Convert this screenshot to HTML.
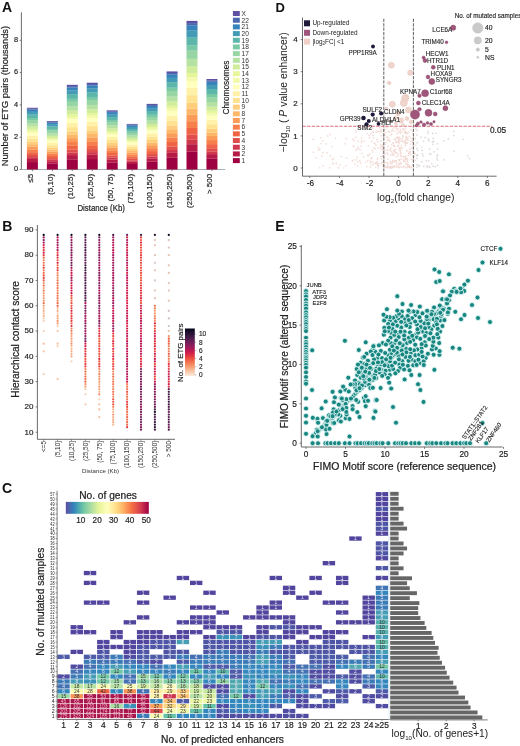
<!DOCTYPE html>
<html><head><meta charset="utf-8"><style>
html,body{margin:0;padding:0;background:#fff;}
svg{display:block;filter:blur(0.35px);}
text{font-family:"Liberation Sans", sans-serif;}
</style></head><body>
<svg width="520" height="746" viewBox="0 0 520 746">
<rect x="0" y="0" width="520" height="746" fill="#fff"/>
<text x="1.90" y="12.30" font-size="14" text-anchor="start" fill="#111" font-weight="bold">A</text>
<line x1="21.40" y1="12.30" x2="21.40" y2="169.50" stroke="#5a5a5a" stroke-width="0.9"/>
<line x1="21.40" y1="169.50" x2="225.20" y2="169.50" stroke="#9aa" stroke-width="0.9"/>
<line x1="19.70" y1="169.50" x2="21.40" y2="169.50" stroke="#5a5a5a" stroke-width="0.8"/>
<text x="18.20" y="171.10" font-size="7.4" text-anchor="end" fill="#222" stroke="#222" stroke-width="0.163">0</text>
<line x1="19.70" y1="137.20" x2="21.40" y2="137.20" stroke="#5a5a5a" stroke-width="0.8"/>
<text x="18.20" y="138.80" font-size="7.4" text-anchor="end" fill="#222" stroke="#222" stroke-width="0.163">2</text>
<line x1="19.70" y1="104.90" x2="21.40" y2="104.90" stroke="#5a5a5a" stroke-width="0.8"/>
<text x="18.20" y="106.50" font-size="7.4" text-anchor="end" fill="#222" stroke="#222" stroke-width="0.163">4</text>
<line x1="19.70" y1="72.60" x2="21.40" y2="72.60" stroke="#5a5a5a" stroke-width="0.8"/>
<text x="18.20" y="74.20" font-size="7.4" text-anchor="end" fill="#222" stroke="#222" stroke-width="0.163">6</text>
<line x1="19.70" y1="40.30" x2="21.40" y2="40.30" stroke="#5a5a5a" stroke-width="0.8"/>
<text x="18.20" y="41.90" font-size="7.4" text-anchor="end" fill="#222" stroke="#222" stroke-width="0.163">8</text>
<text x="7.90" y="96.10" font-size="9.4" text-anchor="middle" fill="#222" transform="rotate(-90 7.90 96.10)" stroke="#222" stroke-width="0.207" textLength="140.5" lengthAdjust="spacingAndGlyphs">Number of ETG pairs (thousands)</text>
<rect x="26.90" y="162.05" width="11.00" height="7.50" fill="#9e0142"/>
<rect x="26.90" y="158.96" width="11.00" height="3.18" fill="#b61b48"/>
<rect x="26.90" y="157.11" width="11.00" height="1.95" fill="#d0384e"/>
<rect x="26.90" y="154.95" width="11.00" height="2.26" fill="#df4e4b"/>
<rect x="26.90" y="152.18" width="11.00" height="2.88" fill="#ee6445"/>
<rect x="26.90" y="149.40" width="11.00" height="2.88" fill="#f67f4b"/>
<rect x="26.90" y="146.62" width="11.00" height="2.88" fill="#fa9b58"/>
<rect x="26.90" y="144.16" width="11.00" height="2.57" fill="#fdb768"/>
<rect x="26.90" y="141.69" width="11.00" height="2.57" fill="#fece7c"/>
<rect x="26.90" y="138.60" width="11.00" height="3.18" fill="#fee28f"/>
<rect x="26.90" y="135.52" width="11.00" height="3.18" fill="#fff1a8"/>
<rect x="26.90" y="132.74" width="11.00" height="2.88" fill="#ffffbe"/>
<rect x="26.90" y="131.20" width="11.00" height="1.64" fill="#f4faad"/>
<rect x="26.90" y="129.35" width="11.00" height="1.95" fill="#e8f69b"/>
<rect x="26.90" y="126.57" width="11.00" height="2.88" fill="#d1ed9c"/>
<rect x="26.90" y="123.49" width="11.00" height="3.18" fill="#b5e1a2"/>
<rect x="26.90" y="120.10" width="11.00" height="3.49" fill="#97d5a4"/>
<rect x="26.90" y="117.94" width="11.00" height="2.26" fill="#79c9a5"/>
<rect x="26.90" y="114.54" width="11.00" height="3.49" fill="#5cb7aa"/>
<rect x="26.90" y="111.77" width="11.00" height="2.88" fill="#439bb5"/>
<rect x="26.90" y="109.61" width="11.00" height="2.26" fill="#3682ba"/>
<rect x="26.90" y="108.68" width="11.00" height="1.03" fill="#4b68ae"/>
<rect x="26.90" y="107.76" width="11.00" height="1.03" fill="#5e4fa2"/>
<line x1="32.40" y1="169.50" x2="32.40" y2="171.10" stroke="#5a5a5a" stroke-width="0.8"/>
<text x="32.80" y="173.90" font-size="7.95" text-anchor="end" fill="#222" transform="rotate(-90 32.80 173.90)" stroke="#222" stroke-width="0.175">≤5</text>
<rect x="46.85" y="163.64" width="11.00" height="5.91" fill="#9e0142"/>
<rect x="46.85" y="161.21" width="11.00" height="2.52" fill="#b61b48"/>
<rect x="46.85" y="159.76" width="11.00" height="1.55" fill="#d0384e"/>
<rect x="46.85" y="158.06" width="11.00" height="1.80" fill="#df4e4b"/>
<rect x="46.85" y="155.88" width="11.00" height="2.28" fill="#ee6445"/>
<rect x="46.85" y="153.70" width="11.00" height="2.28" fill="#f67f4b"/>
<rect x="46.85" y="151.52" width="11.00" height="2.28" fill="#fa9b58"/>
<rect x="46.85" y="149.59" width="11.00" height="2.04" fill="#fdb768"/>
<rect x="46.85" y="147.65" width="11.00" height="2.04" fill="#fece7c"/>
<rect x="46.85" y="145.22" width="11.00" height="2.52" fill="#fee28f"/>
<rect x="46.85" y="142.80" width="11.00" height="2.52" fill="#fff1a8"/>
<rect x="46.85" y="140.62" width="11.00" height="2.28" fill="#ffffbe"/>
<rect x="46.85" y="139.41" width="11.00" height="1.31" fill="#f4faad"/>
<rect x="46.85" y="137.96" width="11.00" height="1.55" fill="#e8f69b"/>
<rect x="46.85" y="135.78" width="11.00" height="2.28" fill="#d1ed9c"/>
<rect x="46.85" y="133.35" width="11.00" height="2.52" fill="#b5e1a2"/>
<rect x="46.85" y="130.69" width="11.00" height="2.76" fill="#97d5a4"/>
<rect x="46.85" y="128.99" width="11.00" height="1.80" fill="#79c9a5"/>
<rect x="46.85" y="126.33" width="11.00" height="2.76" fill="#5cb7aa"/>
<rect x="46.85" y="124.15" width="11.00" height="2.28" fill="#439bb5"/>
<rect x="46.85" y="122.45" width="11.00" height="1.80" fill="#3682ba"/>
<rect x="46.85" y="121.73" width="11.00" height="0.83" fill="#4b68ae"/>
<rect x="46.85" y="121.00" width="11.00" height="0.83" fill="#5e4fa2"/>
<line x1="52.35" y1="169.50" x2="52.35" y2="171.10" stroke="#5a5a5a" stroke-width="0.8"/>
<text x="52.75" y="173.90" font-size="7.95" text-anchor="end" fill="#222" transform="rotate(-90 52.75 173.90)" stroke="#222" stroke-width="0.175">(5,10)</text>
<rect x="66.80" y="159.29" width="11.00" height="10.26" fill="#9e0142"/>
<rect x="66.80" y="155.06" width="11.00" height="4.33" fill="#b61b48"/>
<rect x="66.80" y="152.52" width="11.00" height="2.64" fill="#d0384e"/>
<rect x="66.80" y="149.56" width="11.00" height="3.06" fill="#df4e4b"/>
<rect x="66.80" y="145.75" width="11.00" height="3.91" fill="#ee6445"/>
<rect x="66.80" y="141.95" width="11.00" height="3.91" fill="#f67f4b"/>
<rect x="66.80" y="138.14" width="11.00" height="3.91" fill="#fa9b58"/>
<rect x="66.80" y="134.75" width="11.00" height="3.49" fill="#fdb768"/>
<rect x="66.80" y="131.37" width="11.00" height="3.49" fill="#fece7c"/>
<rect x="66.80" y="127.14" width="11.00" height="4.33" fill="#fee28f"/>
<rect x="66.80" y="122.91" width="11.00" height="4.33" fill="#fff1a8"/>
<rect x="66.80" y="119.10" width="11.00" height="3.91" fill="#ffffbe"/>
<rect x="66.80" y="116.98" width="11.00" height="2.22" fill="#f4faad"/>
<rect x="66.80" y="114.44" width="11.00" height="2.64" fill="#e8f69b"/>
<rect x="66.80" y="110.63" width="11.00" height="3.91" fill="#d1ed9c"/>
<rect x="66.80" y="106.40" width="11.00" height="4.33" fill="#b5e1a2"/>
<rect x="66.80" y="101.75" width="11.00" height="4.75" fill="#97d5a4"/>
<rect x="66.80" y="98.79" width="11.00" height="3.06" fill="#79c9a5"/>
<rect x="66.80" y="94.13" width="11.00" height="4.75" fill="#5cb7aa"/>
<rect x="66.80" y="90.32" width="11.00" height="3.91" fill="#439bb5"/>
<rect x="66.80" y="87.36" width="11.00" height="3.06" fill="#3682ba"/>
<rect x="66.80" y="86.09" width="11.00" height="1.37" fill="#4b68ae"/>
<rect x="66.80" y="84.82" width="11.00" height="1.37" fill="#5e4fa2"/>
<line x1="72.30" y1="169.50" x2="72.30" y2="171.10" stroke="#5a5a5a" stroke-width="0.8"/>
<text x="72.70" y="173.90" font-size="7.95" text-anchor="end" fill="#222" transform="rotate(-90 72.70 173.90)" stroke="#222" stroke-width="0.175">(10,25)</text>
<rect x="86.75" y="159.04" width="11.00" height="10.51" fill="#9e0142"/>
<rect x="86.75" y="154.71" width="11.00" height="4.44" fill="#b61b48"/>
<rect x="86.75" y="152.10" width="11.00" height="2.70" fill="#d0384e"/>
<rect x="86.75" y="149.07" width="11.00" height="3.14" fill="#df4e4b"/>
<rect x="86.75" y="145.17" width="11.00" height="4.00" fill="#ee6445"/>
<rect x="86.75" y="141.26" width="11.00" height="4.00" fill="#f67f4b"/>
<rect x="86.75" y="137.36" width="11.00" height="4.00" fill="#fa9b58"/>
<rect x="86.75" y="133.89" width="11.00" height="3.57" fill="#fdb768"/>
<rect x="86.75" y="130.42" width="11.00" height="3.57" fill="#fece7c"/>
<rect x="86.75" y="126.09" width="11.00" height="4.44" fill="#fee28f"/>
<rect x="86.75" y="121.75" width="11.00" height="4.44" fill="#fff1a8"/>
<rect x="86.75" y="117.85" width="11.00" height="4.00" fill="#ffffbe"/>
<rect x="86.75" y="115.68" width="11.00" height="2.27" fill="#f4faad"/>
<rect x="86.75" y="113.08" width="11.00" height="2.70" fill="#e8f69b"/>
<rect x="86.75" y="109.18" width="11.00" height="4.00" fill="#d1ed9c"/>
<rect x="86.75" y="104.84" width="11.00" height="4.44" fill="#b5e1a2"/>
<rect x="86.75" y="100.07" width="11.00" height="4.87" fill="#97d5a4"/>
<rect x="86.75" y="97.03" width="11.00" height="3.14" fill="#79c9a5"/>
<rect x="86.75" y="92.26" width="11.00" height="4.87" fill="#5cb7aa"/>
<rect x="86.75" y="88.36" width="11.00" height="4.00" fill="#439bb5"/>
<rect x="86.75" y="85.33" width="11.00" height="3.14" fill="#3682ba"/>
<rect x="86.75" y="84.03" width="11.00" height="1.40" fill="#4b68ae"/>
<rect x="86.75" y="82.72" width="11.00" height="1.40" fill="#5e4fa2"/>
<line x1="92.25" y1="169.50" x2="92.25" y2="171.10" stroke="#5a5a5a" stroke-width="0.8"/>
<text x="92.65" y="173.90" font-size="7.95" text-anchor="end" fill="#222" transform="rotate(-90 92.65 173.90)" stroke="#222" stroke-width="0.175">(25,50)</text>
<rect x="106.70" y="162.36" width="11.00" height="7.19" fill="#9e0142"/>
<rect x="106.70" y="159.40" width="11.00" height="3.06" fill="#b61b48"/>
<rect x="106.70" y="157.63" width="11.00" height="1.87" fill="#d0384e"/>
<rect x="106.70" y="155.56" width="11.00" height="2.17" fill="#df4e4b"/>
<rect x="106.70" y="152.90" width="11.00" height="2.76" fill="#ee6445"/>
<rect x="106.70" y="150.24" width="11.00" height="2.76" fill="#f67f4b"/>
<rect x="106.70" y="147.58" width="11.00" height="2.76" fill="#fa9b58"/>
<rect x="106.70" y="145.22" width="11.00" height="2.46" fill="#fdb768"/>
<rect x="106.70" y="142.85" width="11.00" height="2.46" fill="#fece7c"/>
<rect x="106.70" y="139.90" width="11.00" height="3.06" fill="#fee28f"/>
<rect x="106.70" y="136.94" width="11.00" height="3.06" fill="#fff1a8"/>
<rect x="106.70" y="134.28" width="11.00" height="2.76" fill="#ffffbe"/>
<rect x="106.70" y="132.80" width="11.00" height="1.58" fill="#f4faad"/>
<rect x="106.70" y="131.03" width="11.00" height="1.87" fill="#e8f69b"/>
<rect x="106.70" y="128.37" width="11.00" height="2.76" fill="#d1ed9c"/>
<rect x="106.70" y="125.41" width="11.00" height="3.06" fill="#b5e1a2"/>
<rect x="106.70" y="122.16" width="11.00" height="3.35" fill="#97d5a4"/>
<rect x="106.70" y="120.09" width="11.00" height="2.17" fill="#79c9a5"/>
<rect x="106.70" y="116.84" width="11.00" height="3.35" fill="#5cb7aa"/>
<rect x="106.70" y="114.18" width="11.00" height="2.76" fill="#439bb5"/>
<rect x="106.70" y="112.11" width="11.00" height="2.17" fill="#3682ba"/>
<rect x="106.70" y="111.23" width="11.00" height="0.99" fill="#4b68ae"/>
<rect x="106.70" y="110.34" width="11.00" height="0.99" fill="#5e4fa2"/>
<line x1="112.20" y1="169.50" x2="112.20" y2="171.10" stroke="#5a5a5a" stroke-width="0.8"/>
<text x="112.60" y="173.90" font-size="7.95" text-anchor="end" fill="#222" transform="rotate(-90 112.60 173.90)" stroke="#222" stroke-width="0.175">(50, 75)</text>
<rect x="126.65" y="163.98" width="11.00" height="5.57" fill="#9e0142"/>
<rect x="126.65" y="161.71" width="11.00" height="2.38" fill="#b61b48"/>
<rect x="126.65" y="160.34" width="11.00" height="1.47" fill="#d0384e"/>
<rect x="126.65" y="158.75" width="11.00" height="1.69" fill="#df4e4b"/>
<rect x="126.65" y="156.70" width="11.00" height="2.15" fill="#ee6445"/>
<rect x="126.65" y="154.65" width="11.00" height="2.15" fill="#f67f4b"/>
<rect x="126.65" y="152.60" width="11.00" height="2.15" fill="#fa9b58"/>
<rect x="126.65" y="150.78" width="11.00" height="1.92" fill="#fdb768"/>
<rect x="126.65" y="148.96" width="11.00" height="1.92" fill="#fece7c"/>
<rect x="126.65" y="146.68" width="11.00" height="2.38" fill="#fee28f"/>
<rect x="126.65" y="144.40" width="11.00" height="2.38" fill="#fff1a8"/>
<rect x="126.65" y="142.35" width="11.00" height="2.15" fill="#ffffbe"/>
<rect x="126.65" y="141.21" width="11.00" height="1.24" fill="#f4faad"/>
<rect x="126.65" y="139.85" width="11.00" height="1.47" fill="#e8f69b"/>
<rect x="126.65" y="137.80" width="11.00" height="2.15" fill="#d1ed9c"/>
<rect x="126.65" y="135.52" width="11.00" height="2.38" fill="#b5e1a2"/>
<rect x="126.65" y="133.02" width="11.00" height="2.60" fill="#97d5a4"/>
<rect x="126.65" y="131.42" width="11.00" height="1.69" fill="#79c9a5"/>
<rect x="126.65" y="128.92" width="11.00" height="2.60" fill="#5cb7aa"/>
<rect x="126.65" y="126.87" width="11.00" height="2.15" fill="#439bb5"/>
<rect x="126.65" y="125.27" width="11.00" height="1.69" fill="#3682ba"/>
<rect x="126.65" y="124.59" width="11.00" height="0.78" fill="#4b68ae"/>
<rect x="126.65" y="123.91" width="11.00" height="0.78" fill="#5e4fa2"/>
<line x1="132.15" y1="169.50" x2="132.15" y2="171.10" stroke="#5a5a5a" stroke-width="0.8"/>
<text x="132.55" y="173.90" font-size="7.95" text-anchor="end" fill="#222" transform="rotate(-90 132.55 173.90)" stroke="#222" stroke-width="0.175">(75,100)</text>
<rect x="146.60" y="161.58" width="11.00" height="7.97" fill="#9e0142"/>
<rect x="146.60" y="158.30" width="11.00" height="3.38" fill="#b61b48"/>
<rect x="146.60" y="156.34" width="11.00" height="2.07" fill="#d0384e"/>
<rect x="146.60" y="154.04" width="11.00" height="2.39" fill="#df4e4b"/>
<rect x="146.60" y="151.09" width="11.00" height="3.05" fill="#ee6445"/>
<rect x="146.60" y="148.14" width="11.00" height="3.05" fill="#f67f4b"/>
<rect x="146.60" y="145.19" width="11.00" height="3.05" fill="#fa9b58"/>
<rect x="146.60" y="142.57" width="11.00" height="2.72" fill="#fdb768"/>
<rect x="146.60" y="139.94" width="11.00" height="2.72" fill="#fece7c"/>
<rect x="146.60" y="136.67" width="11.00" height="3.38" fill="#fee28f"/>
<rect x="146.60" y="133.39" width="11.00" height="3.38" fill="#fff1a8"/>
<rect x="146.60" y="130.44" width="11.00" height="3.05" fill="#ffffbe"/>
<rect x="146.60" y="128.80" width="11.00" height="1.74" fill="#f4faad"/>
<rect x="146.60" y="126.83" width="11.00" height="2.07" fill="#e8f69b"/>
<rect x="146.60" y="123.88" width="11.00" height="3.05" fill="#d1ed9c"/>
<rect x="146.60" y="120.60" width="11.00" height="3.38" fill="#b5e1a2"/>
<rect x="146.60" y="116.99" width="11.00" height="3.71" fill="#97d5a4"/>
<rect x="146.60" y="114.70" width="11.00" height="2.39" fill="#79c9a5"/>
<rect x="146.60" y="111.09" width="11.00" height="3.71" fill="#5cb7aa"/>
<rect x="146.60" y="108.14" width="11.00" height="3.05" fill="#439bb5"/>
<rect x="146.60" y="105.85" width="11.00" height="2.39" fill="#3682ba"/>
<rect x="146.60" y="104.86" width="11.00" height="1.08" fill="#4b68ae"/>
<rect x="146.60" y="103.88" width="11.00" height="1.08" fill="#5e4fa2"/>
<line x1="152.10" y1="169.50" x2="152.10" y2="171.10" stroke="#5a5a5a" stroke-width="0.8"/>
<text x="152.50" y="173.90" font-size="7.95" text-anchor="end" fill="#222" transform="rotate(-90 152.50 173.90)" stroke="#222" stroke-width="0.175">(100,150)</text>
<rect x="166.55" y="157.69" width="11.00" height="11.86" fill="#9e0142"/>
<rect x="166.55" y="152.78" width="11.00" height="5.00" fill="#b61b48"/>
<rect x="166.55" y="149.84" width="11.00" height="3.04" fill="#d0384e"/>
<rect x="166.55" y="146.41" width="11.00" height="3.53" fill="#df4e4b"/>
<rect x="166.55" y="142.00" width="11.00" height="4.51" fill="#ee6445"/>
<rect x="166.55" y="137.59" width="11.00" height="4.51" fill="#f67f4b"/>
<rect x="166.55" y="133.18" width="11.00" height="4.51" fill="#fa9b58"/>
<rect x="166.55" y="129.26" width="11.00" height="4.02" fill="#fdb768"/>
<rect x="166.55" y="125.34" width="11.00" height="4.02" fill="#fece7c"/>
<rect x="166.55" y="120.43" width="11.00" height="5.00" fill="#fee28f"/>
<rect x="166.55" y="115.53" width="11.00" height="5.00" fill="#fff1a8"/>
<rect x="166.55" y="111.12" width="11.00" height="4.51" fill="#ffffbe"/>
<rect x="166.55" y="108.67" width="11.00" height="2.55" fill="#f4faad"/>
<rect x="166.55" y="105.73" width="11.00" height="3.04" fill="#e8f69b"/>
<rect x="166.55" y="101.32" width="11.00" height="4.51" fill="#d1ed9c"/>
<rect x="166.55" y="96.42" width="11.00" height="5.00" fill="#b5e1a2"/>
<rect x="166.55" y="91.03" width="11.00" height="5.49" fill="#97d5a4"/>
<rect x="166.55" y="87.59" width="11.00" height="3.53" fill="#79c9a5"/>
<rect x="166.55" y="82.20" width="11.00" height="5.49" fill="#5cb7aa"/>
<rect x="166.55" y="77.79" width="11.00" height="4.51" fill="#439bb5"/>
<rect x="166.55" y="74.36" width="11.00" height="3.53" fill="#3682ba"/>
<rect x="166.55" y="72.89" width="11.00" height="1.57" fill="#4b68ae"/>
<rect x="166.55" y="71.42" width="11.00" height="1.57" fill="#5e4fa2"/>
<line x1="172.05" y1="169.50" x2="172.05" y2="171.10" stroke="#5a5a5a" stroke-width="0.8"/>
<text x="172.45" y="173.90" font-size="7.95" text-anchor="end" fill="#222" transform="rotate(-90 172.45 173.90)" stroke="#222" stroke-width="0.175">(150,250)</text>
<rect x="186.50" y="151.62" width="11.00" height="17.93" fill="#9e0142"/>
<rect x="186.50" y="144.19" width="11.00" height="7.53" fill="#b61b48"/>
<rect x="186.50" y="139.73" width="11.00" height="4.56" fill="#d0384e"/>
<rect x="186.50" y="134.53" width="11.00" height="5.30" fill="#df4e4b"/>
<rect x="186.50" y="127.85" width="11.00" height="6.79" fill="#ee6445"/>
<rect x="186.50" y="121.16" width="11.00" height="6.79" fill="#f67f4b"/>
<rect x="186.50" y="114.48" width="11.00" height="6.79" fill="#fa9b58"/>
<rect x="186.50" y="108.53" width="11.00" height="6.04" fill="#fdb768"/>
<rect x="186.50" y="102.59" width="11.00" height="6.04" fill="#fece7c"/>
<rect x="186.50" y="95.16" width="11.00" height="7.53" fill="#fee28f"/>
<rect x="186.50" y="87.73" width="11.00" height="7.53" fill="#fff1a8"/>
<rect x="186.50" y="81.04" width="11.00" height="6.79" fill="#ffffbe"/>
<rect x="186.50" y="77.33" width="11.00" height="3.81" fill="#f4faad"/>
<rect x="186.50" y="72.87" width="11.00" height="4.56" fill="#e8f69b"/>
<rect x="186.50" y="66.19" width="11.00" height="6.79" fill="#d1ed9c"/>
<rect x="186.50" y="58.76" width="11.00" height="7.53" fill="#b5e1a2"/>
<rect x="186.50" y="50.59" width="11.00" height="8.27" fill="#97d5a4"/>
<rect x="186.50" y="45.39" width="11.00" height="5.30" fill="#79c9a5"/>
<rect x="186.50" y="37.21" width="11.00" height="8.27" fill="#5cb7aa"/>
<rect x="186.50" y="30.53" width="11.00" height="6.79" fill="#439bb5"/>
<rect x="186.50" y="25.33" width="11.00" height="5.30" fill="#3682ba"/>
<rect x="186.50" y="23.10" width="11.00" height="2.33" fill="#4b68ae"/>
<rect x="186.50" y="20.87" width="11.00" height="2.33" fill="#5e4fa2"/>
<line x1="192.00" y1="169.50" x2="192.00" y2="171.10" stroke="#5a5a5a" stroke-width="0.8"/>
<text x="192.40" y="173.90" font-size="7.95" text-anchor="end" fill="#222" transform="rotate(-90 192.40 173.90)" stroke="#222" stroke-width="0.175">(250,500)</text>
<rect x="206.45" y="158.60" width="11.00" height="10.95" fill="#9e0142"/>
<rect x="206.45" y="154.08" width="11.00" height="4.62" fill="#b61b48"/>
<rect x="206.45" y="151.36" width="11.00" height="2.81" fill="#d0384e"/>
<rect x="206.45" y="148.20" width="11.00" height="3.27" fill="#df4e4b"/>
<rect x="206.45" y="144.13" width="11.00" height="4.17" fill="#ee6445"/>
<rect x="206.45" y="140.06" width="11.00" height="4.17" fill="#f67f4b"/>
<rect x="206.45" y="135.99" width="11.00" height="4.17" fill="#fa9b58"/>
<rect x="206.45" y="132.37" width="11.00" height="3.72" fill="#fdb768"/>
<rect x="206.45" y="128.75" width="11.00" height="3.72" fill="#fece7c"/>
<rect x="206.45" y="124.23" width="11.00" height="4.62" fill="#fee28f"/>
<rect x="206.45" y="119.71" width="11.00" height="4.62" fill="#fff1a8"/>
<rect x="206.45" y="115.64" width="11.00" height="4.17" fill="#ffffbe"/>
<rect x="206.45" y="113.38" width="11.00" height="2.36" fill="#f4faad"/>
<rect x="206.45" y="110.66" width="11.00" height="2.81" fill="#e8f69b"/>
<rect x="206.45" y="106.59" width="11.00" height="4.17" fill="#d1ed9c"/>
<rect x="206.45" y="102.07" width="11.00" height="4.62" fill="#b5e1a2"/>
<rect x="206.45" y="97.10" width="11.00" height="5.07" fill="#97d5a4"/>
<rect x="206.45" y="93.93" width="11.00" height="3.27" fill="#79c9a5"/>
<rect x="206.45" y="88.96" width="11.00" height="5.07" fill="#5cb7aa"/>
<rect x="206.45" y="84.89" width="11.00" height="4.17" fill="#439bb5"/>
<rect x="206.45" y="81.72" width="11.00" height="3.27" fill="#3682ba"/>
<rect x="206.45" y="80.37" width="11.00" height="1.46" fill="#4b68ae"/>
<rect x="206.45" y="79.01" width="11.00" height="1.46" fill="#5e4fa2"/>
<line x1="211.95" y1="169.50" x2="211.95" y2="171.10" stroke="#5a5a5a" stroke-width="0.8"/>
<text x="212.35" y="173.90" font-size="7.95" text-anchor="end" fill="#222" transform="rotate(-90 212.35 173.90)" stroke="#222" stroke-width="0.175">&gt; 500</text>
<text x="101.20" y="211.00" font-size="8.6" text-anchor="middle" fill="#222" stroke="#222" stroke-width="0.189" textLength="47.5" lengthAdjust="spacingAndGlyphs">Distance (Kb)</text>
<rect x="232.90" y="158.10" width="6.90" height="5.00" fill="#9e0142"/>
<text x="241.60" y="162.90" font-size="6.6" text-anchor="start" fill="#333">1</text>
<rect x="232.90" y="151.41" width="6.90" height="5.00" fill="#b61b48"/>
<text x="241.60" y="156.22" font-size="6.6" text-anchor="start" fill="#333">2</text>
<rect x="232.90" y="144.73" width="6.90" height="5.00" fill="#d0384e"/>
<text x="241.60" y="149.53" font-size="6.6" text-anchor="start" fill="#333">3</text>
<rect x="232.90" y="138.04" width="6.90" height="5.00" fill="#df4e4b"/>
<text x="241.60" y="142.84" font-size="6.6" text-anchor="start" fill="#333">4</text>
<rect x="232.90" y="131.36" width="6.90" height="5.00" fill="#ee6445"/>
<text x="241.60" y="136.16" font-size="6.6" text-anchor="start" fill="#333">5</text>
<rect x="232.90" y="124.67" width="6.90" height="5.00" fill="#f67f4b"/>
<text x="241.60" y="129.47" font-size="6.6" text-anchor="start" fill="#333">6</text>
<rect x="232.90" y="117.99" width="6.90" height="5.00" fill="#fa9b58"/>
<text x="241.60" y="122.79" font-size="6.6" text-anchor="start" fill="#333">7</text>
<rect x="232.90" y="111.31" width="6.90" height="5.00" fill="#fdb768"/>
<text x="241.60" y="116.11" font-size="6.6" text-anchor="start" fill="#333">8</text>
<rect x="232.90" y="104.62" width="6.90" height="5.00" fill="#fece7c"/>
<text x="241.60" y="109.42" font-size="6.6" text-anchor="start" fill="#333">9</text>
<rect x="232.90" y="97.94" width="6.90" height="5.00" fill="#fee28f"/>
<text x="241.60" y="102.73" font-size="6.6" text-anchor="start" fill="#333">10</text>
<rect x="232.90" y="91.25" width="6.90" height="5.00" fill="#fff1a8"/>
<text x="241.60" y="96.05" font-size="6.6" text-anchor="start" fill="#333">11</text>
<rect x="232.90" y="84.56" width="6.90" height="5.00" fill="#ffffbe"/>
<text x="241.60" y="89.36" font-size="6.6" text-anchor="start" fill="#333">12</text>
<rect x="232.90" y="77.88" width="6.90" height="5.00" fill="#f4faad"/>
<text x="241.60" y="82.68" font-size="6.6" text-anchor="start" fill="#333">13</text>
<rect x="232.90" y="71.19" width="6.90" height="5.00" fill="#e8f69b"/>
<text x="241.60" y="75.99" font-size="6.6" text-anchor="start" fill="#333">14</text>
<rect x="232.90" y="64.51" width="6.90" height="5.00" fill="#d1ed9c"/>
<text x="241.60" y="69.31" font-size="6.6" text-anchor="start" fill="#333">15</text>
<rect x="232.90" y="57.83" width="6.90" height="5.00" fill="#b5e1a2"/>
<text x="241.60" y="62.62" font-size="6.6" text-anchor="start" fill="#333">16</text>
<rect x="232.90" y="51.14" width="6.90" height="5.00" fill="#97d5a4"/>
<text x="241.60" y="55.94" font-size="6.6" text-anchor="start" fill="#333">17</text>
<rect x="232.90" y="44.45" width="6.90" height="5.00" fill="#79c9a5"/>
<text x="241.60" y="49.25" font-size="6.6" text-anchor="start" fill="#333">18</text>
<rect x="232.90" y="37.77" width="6.90" height="5.00" fill="#5cb7aa"/>
<text x="241.60" y="42.57" font-size="6.6" text-anchor="start" fill="#333">19</text>
<rect x="232.90" y="31.09" width="6.90" height="5.00" fill="#439bb5"/>
<text x="241.60" y="35.89" font-size="6.6" text-anchor="start" fill="#333">20</text>
<rect x="232.90" y="24.40" width="6.90" height="5.00" fill="#3682ba"/>
<text x="241.60" y="29.20" font-size="6.6" text-anchor="start" fill="#333">21</text>
<rect x="232.90" y="17.72" width="6.90" height="5.00" fill="#4b68ae"/>
<text x="241.60" y="22.52" font-size="6.6" text-anchor="start" fill="#333">22</text>
<rect x="232.90" y="11.03" width="6.90" height="5.00" fill="#5e4fa2"/>
<text x="241.60" y="15.83" font-size="6.6" text-anchor="start" fill="#333">X</text>
<text x="228.90" y="87.50" font-size="8.3" text-anchor="middle" fill="#222" transform="rotate(-90 228.90 87.50)" stroke="#222" stroke-width="0.183">Chromosomes</text>
<text x="2.30" y="230.70" font-size="14" text-anchor="start" fill="#111" font-weight="bold">B</text>
<line x1="37.40" y1="225.00" x2="37.40" y2="439.30" stroke="#5a5a5a" stroke-width="0.9"/>
<line x1="37.40" y1="439.30" x2="175.00" y2="439.30" stroke="#5a5a5a" stroke-width="0.9"/>
<line x1="35.60" y1="432.22" x2="37.40" y2="432.22" stroke="#5a5a5a" stroke-width="0.8"/>
<text x="33.40" y="434.52" font-size="8" text-anchor="end" fill="#222" stroke="#222" stroke-width="0.176">10</text>
<line x1="35.60" y1="406.93" x2="37.40" y2="406.93" stroke="#5a5a5a" stroke-width="0.8"/>
<text x="33.40" y="409.23" font-size="8" text-anchor="end" fill="#222" stroke="#222" stroke-width="0.176">20</text>
<line x1="35.60" y1="381.64" x2="37.40" y2="381.64" stroke="#5a5a5a" stroke-width="0.8"/>
<text x="33.40" y="383.94" font-size="8" text-anchor="end" fill="#222" stroke="#222" stroke-width="0.176">30</text>
<line x1="35.60" y1="356.35" x2="37.40" y2="356.35" stroke="#5a5a5a" stroke-width="0.8"/>
<text x="33.40" y="358.65" font-size="8" text-anchor="end" fill="#222" stroke="#222" stroke-width="0.176">40</text>
<line x1="35.60" y1="331.06" x2="37.40" y2="331.06" stroke="#5a5a5a" stroke-width="0.8"/>
<text x="33.40" y="333.36" font-size="8" text-anchor="end" fill="#222" stroke="#222" stroke-width="0.176">50</text>
<line x1="35.60" y1="305.77" x2="37.40" y2="305.77" stroke="#5a5a5a" stroke-width="0.8"/>
<text x="33.40" y="308.07" font-size="8" text-anchor="end" fill="#222" stroke="#222" stroke-width="0.176">60</text>
<line x1="35.60" y1="280.48" x2="37.40" y2="280.48" stroke="#5a5a5a" stroke-width="0.8"/>
<text x="33.40" y="282.78" font-size="8" text-anchor="end" fill="#222" stroke="#222" stroke-width="0.176">70</text>
<line x1="35.60" y1="255.19" x2="37.40" y2="255.19" stroke="#5a5a5a" stroke-width="0.8"/>
<text x="33.40" y="257.49" font-size="8" text-anchor="end" fill="#222" stroke="#222" stroke-width="0.176">80</text>
<line x1="35.60" y1="229.90" x2="37.40" y2="229.90" stroke="#5a5a5a" stroke-width="0.8"/>
<text x="33.40" y="232.20" font-size="8" text-anchor="end" fill="#222" stroke="#222" stroke-width="0.176">90</text>
<text x="18.90" y="339.35" font-size="10.3" text-anchor="middle" fill="#222" transform="rotate(-90 18.90 339.35)" stroke="#222" stroke-width="0.227" textLength="116.7" lengthAdjust="spacingAndGlyphs">Hierarchical contact score</text>
<circle cx="43.70" cy="234.96" r="1.12" fill="#03051a"/>
<circle cx="43.70" cy="237.49" r="1.12" fill="#9a1b5b"/>
<circle cx="43.70" cy="240.02" r="1.12" fill="#7a1f59"/>
<circle cx="43.70" cy="242.55" r="1.12" fill="#a11a5b"/>
<circle cx="43.70" cy="245.07" r="1.12" fill="#d11f4c"/>
<circle cx="43.70" cy="247.60" r="1.12" fill="#d92847"/>
<circle cx="43.70" cy="250.13" r="1.12" fill="#e63b40"/>
<circle cx="43.70" cy="252.66" r="1.12" fill="#d2204c"/>
<circle cx="43.70" cy="255.19" r="1.12" fill="#e73d3f"/>
<circle cx="43.70" cy="257.72" r="1.12" fill="#f16646"/>
<circle cx="43.70" cy="260.25" r="1.12" fill="#f47f58"/>
<circle cx="43.70" cy="262.78" r="1.12" fill="#f47d57"/>
<circle cx="43.70" cy="265.31" r="1.12" fill="#f16646"/>
<circle cx="43.70" cy="267.84" r="1.12" fill="#eb463e"/>
<circle cx="43.70" cy="270.36" r="1.12" fill="#f47c55"/>
<circle cx="43.70" cy="272.89" r="1.12" fill="#f37450"/>
<circle cx="43.70" cy="275.42" r="1.12" fill="#ef5640"/>
<circle cx="43.70" cy="277.95" r="1.12" fill="#e83f3f"/>
<circle cx="43.70" cy="280.48" r="1.12" fill="#ef5a41"/>
<circle cx="43.70" cy="283.01" r="1.12" fill="#f5946b"/>
<circle cx="43.70" cy="285.54" r="1.12" fill="#f26b49"/>
<circle cx="43.70" cy="288.07" r="1.12" fill="#f6a981"/>
<circle cx="43.70" cy="290.60" r="1.12" fill="#f37450"/>
<circle cx="43.70" cy="293.12" r="1.12" fill="#f69b71"/>
<circle cx="43.70" cy="295.65" r="1.12" fill="#f6a37a"/>
<circle cx="43.70" cy="298.18" r="1.12" fill="#f6a47c"/>
<circle cx="43.70" cy="300.71" r="1.12" fill="#f59970"/>
<circle cx="43.70" cy="303.24" r="1.12" fill="#f37651"/>
<circle cx="43.70" cy="305.77" r="1.12" fill="#f6a178"/>
<circle cx="43.70" cy="308.30" r="1.12" fill="#f6b089"/>
<circle cx="43.70" cy="310.83" r="1.12" fill="#f6ad85"/>
<circle cx="43.70" cy="313.36" r="1.12" fill="#f6bc99"/>
<circle cx="43.70" cy="315.89" r="1.12" fill="#f6b18b"/>
<circle cx="43.70" cy="318.42" r="1.12" fill="#f7cfb3"/>
<circle cx="43.70" cy="320.94" r="1.12" fill="#f8d3ba"/>
<circle cx="43.70" cy="331.06" r="1.12" fill="#f7cfb3"/>
<circle cx="43.70" cy="343.70" r="1.12" fill="#f6bc99"/>
<circle cx="43.70" cy="351.29" r="1.12" fill="#f7c6a6"/>
<circle cx="43.70" cy="374.05" r="1.12" fill="#f7caac"/>
<line x1="43.70" y1="439.30" x2="43.70" y2="440.90" stroke="#5a5a5a" stroke-width="0.7"/>
<circle cx="57.60" cy="234.96" r="1.12" fill="#0d0a21"/>
<circle cx="57.60" cy="237.49" r="1.12" fill="#b01759"/>
<circle cx="57.60" cy="240.02" r="1.12" fill="#ba1656"/>
<circle cx="57.60" cy="242.55" r="1.12" fill="#9a1b5b"/>
<circle cx="57.60" cy="245.07" r="1.12" fill="#9f1a5b"/>
<circle cx="57.60" cy="247.60" r="1.12" fill="#bd1655"/>
<circle cx="57.60" cy="250.13" r="1.12" fill="#a8185a"/>
<circle cx="57.60" cy="252.66" r="1.12" fill="#eb463e"/>
<circle cx="57.60" cy="255.19" r="1.12" fill="#de2e44"/>
<circle cx="57.60" cy="257.72" r="1.12" fill="#e43841"/>
<circle cx="57.60" cy="260.25" r="1.12" fill="#ef5840"/>
<circle cx="57.60" cy="262.78" r="1.12" fill="#d92847"/>
<circle cx="57.60" cy="265.31" r="1.12" fill="#f16646"/>
<circle cx="57.60" cy="267.84" r="1.12" fill="#ed4e3e"/>
<circle cx="57.60" cy="270.36" r="1.12" fill="#e33641"/>
<circle cx="57.60" cy="272.89" r="1.12" fill="#f5976e"/>
<circle cx="57.60" cy="275.42" r="1.12" fill="#f4815a"/>
<circle cx="57.60" cy="277.95" r="1.12" fill="#f69e75"/>
<circle cx="57.60" cy="280.48" r="1.12" fill="#f37450"/>
<circle cx="57.60" cy="283.01" r="1.12" fill="#f26d4b"/>
<circle cx="57.60" cy="285.54" r="1.12" fill="#f47a54"/>
<circle cx="57.60" cy="288.07" r="1.12" fill="#f16646"/>
<circle cx="57.60" cy="290.60" r="1.12" fill="#f58b63"/>
<circle cx="57.60" cy="293.12" r="1.12" fill="#f3734e"/>
<circle cx="57.60" cy="295.65" r="1.12" fill="#f47a54"/>
<circle cx="57.60" cy="298.18" r="1.12" fill="#f47a54"/>
<circle cx="57.60" cy="300.71" r="1.12" fill="#f4835b"/>
<circle cx="57.60" cy="303.24" r="1.12" fill="#f26747"/>
<circle cx="57.60" cy="305.77" r="1.12" fill="#f06043"/>
<circle cx="57.60" cy="308.30" r="1.12" fill="#f6b691"/>
<circle cx="57.60" cy="310.83" r="1.12" fill="#f6ab83"/>
<circle cx="57.60" cy="313.36" r="1.12" fill="#f7cfb3"/>
<circle cx="57.60" cy="315.89" r="1.12" fill="#f6a880"/>
<circle cx="57.60" cy="318.42" r="1.12" fill="#f6ab83"/>
<circle cx="57.60" cy="320.94" r="1.12" fill="#f5966c"/>
<circle cx="57.60" cy="323.47" r="1.12" fill="#f6a077"/>
<circle cx="57.60" cy="326.00" r="1.12" fill="#f7ccaf"/>
<circle cx="57.60" cy="331.06" r="1.12" fill="#f7c7a8"/>
<circle cx="57.60" cy="343.70" r="1.12" fill="#f6be9b"/>
<circle cx="57.60" cy="346.23" r="1.12" fill="#f8d4bc"/>
<circle cx="57.60" cy="379.11" r="1.12" fill="#f7c6a6"/>
<line x1="57.60" y1="439.30" x2="57.60" y2="440.90" stroke="#5a5a5a" stroke-width="0.7"/>
<circle cx="71.50" cy="234.96" r="1.12" fill="#03051a"/>
<circle cx="71.50" cy="237.49" r="1.12" fill="#9e1a5b"/>
<circle cx="71.50" cy="240.02" r="1.12" fill="#a11a5b"/>
<circle cx="71.50" cy="242.55" r="1.12" fill="#711f57"/>
<circle cx="71.50" cy="245.07" r="1.12" fill="#9c1b5b"/>
<circle cx="71.50" cy="247.60" r="1.12" fill="#951c5b"/>
<circle cx="71.50" cy="250.13" r="1.12" fill="#8b1d5b"/>
<circle cx="71.50" cy="252.66" r="1.12" fill="#6b1f56"/>
<circle cx="71.50" cy="255.19" r="1.12" fill="#9f1a5b"/>
<circle cx="71.50" cy="257.72" r="1.12" fill="#871e5b"/>
<circle cx="71.50" cy="260.25" r="1.12" fill="#811e5a"/>
<circle cx="71.50" cy="262.78" r="1.12" fill="#6b1f56"/>
<circle cx="71.50" cy="265.31" r="1.12" fill="#6e1f57"/>
<circle cx="71.50" cy="267.84" r="1.12" fill="#aa185a"/>
<circle cx="71.50" cy="270.36" r="1.12" fill="#ce1d4e"/>
<circle cx="71.50" cy="272.89" r="1.12" fill="#c71951"/>
<circle cx="71.50" cy="275.42" r="1.12" fill="#ca1a50"/>
<circle cx="71.50" cy="277.95" r="1.12" fill="#a8185a"/>
<circle cx="71.50" cy="280.48" r="1.12" fill="#a4195b"/>
<circle cx="71.50" cy="283.01" r="1.12" fill="#d5224a"/>
<circle cx="71.50" cy="285.54" r="1.12" fill="#d3214b"/>
<circle cx="71.50" cy="288.07" r="1.12" fill="#d11f4c"/>
<circle cx="71.50" cy="290.60" r="1.12" fill="#d11f4c"/>
<circle cx="71.50" cy="293.12" r="1.12" fill="#c21753"/>
<circle cx="71.50" cy="295.65" r="1.12" fill="#e8403e"/>
<circle cx="71.50" cy="298.18" r="1.12" fill="#ef5a41"/>
<circle cx="71.50" cy="300.71" r="1.12" fill="#f26d4b"/>
<circle cx="71.50" cy="303.24" r="1.12" fill="#ed4e3e"/>
<circle cx="71.50" cy="305.77" r="1.12" fill="#ee523f"/>
<circle cx="71.50" cy="308.30" r="1.12" fill="#e9423e"/>
<circle cx="71.50" cy="310.83" r="1.12" fill="#db2946"/>
<circle cx="71.50" cy="313.36" r="1.12" fill="#e63b40"/>
<circle cx="71.50" cy="315.89" r="1.12" fill="#eb463e"/>
<circle cx="71.50" cy="318.42" r="1.12" fill="#e83f3f"/>
<circle cx="71.50" cy="320.94" r="1.12" fill="#e63b40"/>
<circle cx="71.50" cy="323.47" r="1.12" fill="#f26948"/>
<circle cx="71.50" cy="326.00" r="1.12" fill="#dd2c45"/>
<circle cx="71.50" cy="328.53" r="1.12" fill="#f4865e"/>
<circle cx="71.50" cy="331.06" r="1.12" fill="#f47f58"/>
<circle cx="71.50" cy="333.59" r="1.12" fill="#f4845d"/>
<circle cx="71.50" cy="336.12" r="1.12" fill="#f6a077"/>
<circle cx="71.50" cy="338.65" r="1.12" fill="#f6a077"/>
<circle cx="71.50" cy="341.18" r="1.12" fill="#f6b18b"/>
<circle cx="71.50" cy="343.70" r="1.12" fill="#f59067"/>
<circle cx="71.50" cy="346.23" r="1.12" fill="#f6b48f"/>
<circle cx="71.50" cy="348.76" r="1.12" fill="#f6b48f"/>
<circle cx="71.50" cy="351.29" r="1.12" fill="#f6ab83"/>
<circle cx="71.50" cy="353.82" r="1.12" fill="#f6ae87"/>
<circle cx="71.50" cy="356.35" r="1.12" fill="#f6a37a"/>
<circle cx="71.50" cy="361.41" r="1.12" fill="#f8d4bc"/>
<line x1="71.50" y1="439.30" x2="71.50" y2="440.90" stroke="#5a5a5a" stroke-width="0.7"/>
<circle cx="85.40" cy="234.96" r="1.12" fill="#0b0920"/>
<circle cx="85.40" cy="237.49" r="1.12" fill="#5e1f52"/>
<circle cx="85.40" cy="240.02" r="1.12" fill="#611f53"/>
<circle cx="85.40" cy="242.55" r="1.12" fill="#511e4d"/>
<circle cx="85.40" cy="245.07" r="1.12" fill="#661f54"/>
<circle cx="85.40" cy="247.60" r="1.12" fill="#33183c"/>
<circle cx="85.40" cy="250.13" r="1.12" fill="#421b45"/>
<circle cx="85.40" cy="252.66" r="1.12" fill="#5e1f52"/>
<circle cx="85.40" cy="255.19" r="1.12" fill="#581e4f"/>
<circle cx="85.40" cy="257.72" r="1.12" fill="#511e4d"/>
<circle cx="85.40" cy="260.25" r="1.12" fill="#511e4d"/>
<circle cx="85.40" cy="262.78" r="1.12" fill="#601f52"/>
<circle cx="85.40" cy="265.31" r="1.12" fill="#34193d"/>
<circle cx="85.40" cy="267.84" r="1.12" fill="#2b1637"/>
<circle cx="85.40" cy="270.36" r="1.12" fill="#4b1d4a"/>
<circle cx="85.40" cy="272.89" r="1.12" fill="#491d49"/>
<circle cx="85.40" cy="275.42" r="1.12" fill="#611f53"/>
<circle cx="85.40" cy="277.95" r="1.12" fill="#611f53"/>
<circle cx="85.40" cy="280.48" r="1.12" fill="#511e4d"/>
<circle cx="85.40" cy="283.01" r="1.12" fill="#561e4f"/>
<circle cx="85.40" cy="285.54" r="1.12" fill="#34193d"/>
<circle cx="85.40" cy="288.07" r="1.12" fill="#5c1e51"/>
<circle cx="85.40" cy="290.60" r="1.12" fill="#661f54"/>
<circle cx="85.40" cy="293.12" r="1.12" fill="#2e1739"/>
<circle cx="85.40" cy="295.65" r="1.12" fill="#461c48"/>
<circle cx="85.40" cy="298.18" r="1.12" fill="#5e1f52"/>
<circle cx="85.40" cy="300.71" r="1.12" fill="#461c48"/>
<circle cx="85.40" cy="303.24" r="1.12" fill="#b71657"/>
<circle cx="85.40" cy="305.77" r="1.12" fill="#971c5b"/>
<circle cx="85.40" cy="308.30" r="1.12" fill="#781f59"/>
<circle cx="85.40" cy="310.83" r="1.12" fill="#811e5a"/>
<circle cx="85.40" cy="313.36" r="1.12" fill="#8b1d5b"/>
<circle cx="85.40" cy="315.89" r="1.12" fill="#a8185a"/>
<circle cx="85.40" cy="318.42" r="1.12" fill="#a11a5b"/>
<circle cx="85.40" cy="320.94" r="1.12" fill="#af1759"/>
<circle cx="85.40" cy="323.47" r="1.12" fill="#861e5b"/>
<circle cx="85.40" cy="326.00" r="1.12" fill="#971c5b"/>
<circle cx="85.40" cy="328.53" r="1.12" fill="#861e5b"/>
<circle cx="85.40" cy="331.06" r="1.12" fill="#a4195b"/>
<circle cx="85.40" cy="333.59" r="1.12" fill="#ab185a"/>
<circle cx="85.40" cy="336.12" r="1.12" fill="#841e5a"/>
<circle cx="85.40" cy="338.65" r="1.12" fill="#781f59"/>
<circle cx="85.40" cy="341.18" r="1.12" fill="#811e5a"/>
<circle cx="85.40" cy="343.70" r="1.12" fill="#d3214b"/>
<circle cx="85.40" cy="346.23" r="1.12" fill="#d2204c"/>
<circle cx="85.40" cy="348.76" r="1.12" fill="#d62449"/>
<circle cx="85.40" cy="351.29" r="1.12" fill="#ea443e"/>
<circle cx="85.40" cy="353.82" r="1.12" fill="#e03143"/>
<circle cx="85.40" cy="356.35" r="1.12" fill="#e63b40"/>
<circle cx="85.40" cy="358.88" r="1.12" fill="#ee543f"/>
<circle cx="85.40" cy="361.41" r="1.12" fill="#ee543f"/>
<circle cx="85.40" cy="363.94" r="1.12" fill="#e8403e"/>
<circle cx="85.40" cy="366.47" r="1.12" fill="#e9423e"/>
<circle cx="85.40" cy="369.00" r="1.12" fill="#f47f58"/>
<circle cx="85.40" cy="371.52" r="1.12" fill="#f26d4b"/>
<circle cx="85.40" cy="374.05" r="1.12" fill="#f59067"/>
<circle cx="85.40" cy="376.58" r="1.12" fill="#f26d4b"/>
<circle cx="85.40" cy="379.11" r="1.12" fill="#f26b49"/>
<circle cx="85.40" cy="381.64" r="1.12" fill="#f26d4b"/>
<circle cx="85.40" cy="384.17" r="1.12" fill="#f5966c"/>
<circle cx="85.40" cy="386.70" r="1.12" fill="#f69e75"/>
<circle cx="85.40" cy="389.23" r="1.12" fill="#f7cdb1"/>
<circle cx="85.40" cy="394.28" r="1.12" fill="#f7cfb3"/>
<circle cx="85.40" cy="404.40" r="1.12" fill="#f7cfb3"/>
<line x1="85.40" y1="439.30" x2="85.40" y2="440.90" stroke="#5a5a5a" stroke-width="0.7"/>
<circle cx="99.30" cy="234.96" r="1.12" fill="#0b0920"/>
<circle cx="99.30" cy="237.49" r="1.12" fill="#7d1f5a"/>
<circle cx="99.30" cy="240.02" r="1.12" fill="#821e5a"/>
<circle cx="99.30" cy="242.55" r="1.12" fill="#9a1b5b"/>
<circle cx="99.30" cy="245.07" r="1.12" fill="#8e1d5b"/>
<circle cx="99.30" cy="247.60" r="1.12" fill="#841e5a"/>
<circle cx="99.30" cy="250.13" r="1.12" fill="#b41658"/>
<circle cx="99.30" cy="252.66" r="1.12" fill="#8e1d5b"/>
<circle cx="99.30" cy="255.19" r="1.12" fill="#7d1f5a"/>
<circle cx="99.30" cy="257.72" r="1.12" fill="#861e5b"/>
<circle cx="99.30" cy="260.25" r="1.12" fill="#871e5b"/>
<circle cx="99.30" cy="262.78" r="1.12" fill="#9a1b5b"/>
<circle cx="99.30" cy="265.31" r="1.12" fill="#af1759"/>
<circle cx="99.30" cy="267.84" r="1.12" fill="#861e5b"/>
<circle cx="99.30" cy="270.36" r="1.12" fill="#a4195b"/>
<circle cx="99.30" cy="272.89" r="1.12" fill="#841e5a"/>
<circle cx="99.30" cy="275.42" r="1.12" fill="#7a1f59"/>
<circle cx="99.30" cy="277.95" r="1.12" fill="#9f1a5b"/>
<circle cx="99.30" cy="280.48" r="1.12" fill="#9f1a5b"/>
<circle cx="99.30" cy="283.01" r="1.12" fill="#7b1f59"/>
<circle cx="99.30" cy="285.54" r="1.12" fill="#891e5b"/>
<circle cx="99.30" cy="288.07" r="1.12" fill="#af1759"/>
<circle cx="99.30" cy="290.60" r="1.12" fill="#b21758"/>
<circle cx="99.30" cy="293.12" r="1.12" fill="#b01759"/>
<circle cx="99.30" cy="295.65" r="1.12" fill="#7d1f5a"/>
<circle cx="99.30" cy="298.18" r="1.12" fill="#841e5a"/>
<circle cx="99.30" cy="300.71" r="1.12" fill="#b01759"/>
<circle cx="99.30" cy="303.24" r="1.12" fill="#821e5a"/>
<circle cx="99.30" cy="305.77" r="1.12" fill="#781f59"/>
<circle cx="99.30" cy="308.30" r="1.12" fill="#8e1d5b"/>
<circle cx="99.30" cy="310.83" r="1.12" fill="#a3195b"/>
<circle cx="99.30" cy="313.36" r="1.12" fill="#951c5b"/>
<circle cx="99.30" cy="315.89" r="1.12" fill="#b01759"/>
<circle cx="99.30" cy="318.42" r="1.12" fill="#b91657"/>
<circle cx="99.30" cy="320.94" r="1.12" fill="#7a1f59"/>
<circle cx="99.30" cy="323.47" r="1.12" fill="#8e1d5b"/>
<circle cx="99.30" cy="326.00" r="1.12" fill="#971c5b"/>
<circle cx="99.30" cy="328.53" r="1.12" fill="#dc2b46"/>
<circle cx="99.30" cy="331.06" r="1.12" fill="#ed4e3e"/>
<circle cx="99.30" cy="333.59" r="1.12" fill="#de2e44"/>
<circle cx="99.30" cy="336.12" r="1.12" fill="#e03143"/>
<circle cx="99.30" cy="338.65" r="1.12" fill="#f05e42"/>
<circle cx="99.30" cy="341.18" r="1.12" fill="#f05c42"/>
<circle cx="99.30" cy="343.70" r="1.12" fill="#ef5840"/>
<circle cx="99.30" cy="346.23" r="1.12" fill="#f05c42"/>
<circle cx="99.30" cy="348.76" r="1.12" fill="#e9423e"/>
<circle cx="99.30" cy="351.29" r="1.12" fill="#ef5a41"/>
<circle cx="99.30" cy="353.82" r="1.12" fill="#ed4e3e"/>
<circle cx="99.30" cy="356.35" r="1.12" fill="#f16445"/>
<circle cx="99.30" cy="358.88" r="1.12" fill="#dd2c45"/>
<circle cx="99.30" cy="361.41" r="1.12" fill="#ee543f"/>
<circle cx="99.30" cy="363.94" r="1.12" fill="#ec4c3e"/>
<circle cx="99.30" cy="366.47" r="1.12" fill="#e9423e"/>
<circle cx="99.30" cy="369.00" r="1.12" fill="#f47d57"/>
<circle cx="99.30" cy="371.52" r="1.12" fill="#f69e75"/>
<circle cx="99.30" cy="374.05" r="1.12" fill="#f47d57"/>
<circle cx="99.30" cy="376.58" r="1.12" fill="#f59970"/>
<circle cx="99.30" cy="379.11" r="1.12" fill="#f5976e"/>
<circle cx="99.30" cy="381.64" r="1.12" fill="#f5976e"/>
<circle cx="99.30" cy="384.17" r="1.12" fill="#f6b893"/>
<circle cx="99.30" cy="386.70" r="1.12" fill="#f69c73"/>
<circle cx="99.30" cy="389.23" r="1.12" fill="#f6ad85"/>
<circle cx="99.30" cy="391.76" r="1.12" fill="#f6b893"/>
<circle cx="99.30" cy="394.28" r="1.12" fill="#f4845d"/>
<circle cx="99.30" cy="399.34" r="1.12" fill="#f7d0b5"/>
<circle cx="99.30" cy="404.40" r="1.12" fill="#f7c4a4"/>
<circle cx="99.30" cy="409.46" r="1.12" fill="#f6bb97"/>
<circle cx="99.30" cy="417.05" r="1.12" fill="#f6c19f"/>
<line x1="99.30" y1="439.30" x2="99.30" y2="440.90" stroke="#5a5a5a" stroke-width="0.7"/>
<circle cx="113.20" cy="234.96" r="1.12" fill="#401b44"/>
<circle cx="113.20" cy="237.49" r="1.12" fill="#ab185a"/>
<circle cx="113.20" cy="240.02" r="1.12" fill="#aa185a"/>
<circle cx="113.20" cy="242.55" r="1.12" fill="#9a1b5b"/>
<circle cx="113.20" cy="245.07" r="1.12" fill="#c71951"/>
<circle cx="113.20" cy="247.60" r="1.12" fill="#aa185a"/>
<circle cx="113.20" cy="250.13" r="1.12" fill="#bd1655"/>
<circle cx="113.20" cy="252.66" r="1.12" fill="#bc1656"/>
<circle cx="113.20" cy="255.19" r="1.12" fill="#9c1b5b"/>
<circle cx="113.20" cy="257.72" r="1.12" fill="#ad1759"/>
<circle cx="113.20" cy="260.25" r="1.12" fill="#aa185a"/>
<circle cx="113.20" cy="262.78" r="1.12" fill="#9c1b5b"/>
<circle cx="113.20" cy="265.31" r="1.12" fill="#921c5b"/>
<circle cx="113.20" cy="267.84" r="1.12" fill="#b01759"/>
<circle cx="113.20" cy="270.36" r="1.12" fill="#a6195a"/>
<circle cx="113.20" cy="272.89" r="1.12" fill="#ad1759"/>
<circle cx="113.20" cy="275.42" r="1.12" fill="#ad1759"/>
<circle cx="113.20" cy="277.95" r="1.12" fill="#a11a5b"/>
<circle cx="113.20" cy="280.48" r="1.12" fill="#b01759"/>
<circle cx="113.20" cy="283.01" r="1.12" fill="#ab185a"/>
<circle cx="113.20" cy="285.54" r="1.12" fill="#af1759"/>
<circle cx="113.20" cy="288.07" r="1.12" fill="#901d5b"/>
<circle cx="113.20" cy="290.60" r="1.12" fill="#9f1a5b"/>
<circle cx="113.20" cy="293.12" r="1.12" fill="#951c5b"/>
<circle cx="113.20" cy="295.65" r="1.12" fill="#901d5b"/>
<circle cx="113.20" cy="298.18" r="1.12" fill="#bd1655"/>
<circle cx="113.20" cy="300.71" r="1.12" fill="#aa185a"/>
<circle cx="113.20" cy="303.24" r="1.12" fill="#901d5b"/>
<circle cx="113.20" cy="305.77" r="1.12" fill="#971c5b"/>
<circle cx="113.20" cy="308.30" r="1.12" fill="#c41753"/>
<circle cx="113.20" cy="310.83" r="1.12" fill="#c51852"/>
<circle cx="113.20" cy="313.36" r="1.12" fill="#b01759"/>
<circle cx="113.20" cy="315.89" r="1.12" fill="#c81951"/>
<circle cx="113.20" cy="318.42" r="1.12" fill="#bd1655"/>
<circle cx="113.20" cy="320.94" r="1.12" fill="#c81951"/>
<circle cx="113.20" cy="323.47" r="1.12" fill="#a3195b"/>
<circle cx="113.20" cy="326.00" r="1.12" fill="#9a1b5b"/>
<circle cx="113.20" cy="328.53" r="1.12" fill="#931c5b"/>
<circle cx="113.20" cy="331.06" r="1.12" fill="#c41753"/>
<circle cx="113.20" cy="333.59" r="1.12" fill="#e53940"/>
<circle cx="113.20" cy="336.12" r="1.12" fill="#e73d3f"/>
<circle cx="113.20" cy="338.65" r="1.12" fill="#f16445"/>
<circle cx="113.20" cy="341.18" r="1.12" fill="#de2e44"/>
<circle cx="113.20" cy="343.70" r="1.12" fill="#db2946"/>
<circle cx="113.20" cy="346.23" r="1.12" fill="#f05e42"/>
<circle cx="113.20" cy="348.76" r="1.12" fill="#db2946"/>
<circle cx="113.20" cy="351.29" r="1.12" fill="#ed503e"/>
<circle cx="113.20" cy="353.82" r="1.12" fill="#eb483e"/>
<circle cx="113.20" cy="356.35" r="1.12" fill="#d92847"/>
<circle cx="113.20" cy="358.88" r="1.12" fill="#e03143"/>
<circle cx="113.20" cy="361.41" r="1.12" fill="#f16244"/>
<circle cx="113.20" cy="363.94" r="1.12" fill="#ed4e3e"/>
<circle cx="113.20" cy="366.47" r="1.12" fill="#eb463e"/>
<circle cx="113.20" cy="369.00" r="1.12" fill="#ee543f"/>
<circle cx="113.20" cy="371.52" r="1.12" fill="#f58b63"/>
<circle cx="113.20" cy="374.05" r="1.12" fill="#f4835b"/>
<circle cx="113.20" cy="376.58" r="1.12" fill="#f26747"/>
<circle cx="113.20" cy="379.11" r="1.12" fill="#f5976e"/>
<circle cx="113.20" cy="381.64" r="1.12" fill="#f3734e"/>
<circle cx="113.20" cy="384.17" r="1.12" fill="#f47c55"/>
<circle cx="113.20" cy="386.70" r="1.12" fill="#f5976e"/>
<circle cx="113.20" cy="389.23" r="1.12" fill="#f4835b"/>
<circle cx="113.20" cy="391.76" r="1.12" fill="#f26f4c"/>
<circle cx="113.20" cy="394.28" r="1.12" fill="#f37651"/>
<circle cx="113.20" cy="396.81" r="1.12" fill="#f5946b"/>
<circle cx="113.20" cy="399.34" r="1.12" fill="#ee523f"/>
<circle cx="113.20" cy="401.87" r="1.12" fill="#f16244"/>
<circle cx="113.20" cy="404.40" r="1.12" fill="#ee543f"/>
<circle cx="113.20" cy="406.93" r="1.12" fill="#f59269"/>
<circle cx="113.20" cy="409.46" r="1.12" fill="#f6b089"/>
<circle cx="113.20" cy="411.99" r="1.12" fill="#f6be9b"/>
<circle cx="113.20" cy="414.52" r="1.12" fill="#f58f66"/>
<circle cx="113.20" cy="417.05" r="1.12" fill="#f6b089"/>
<circle cx="113.20" cy="419.57" r="1.12" fill="#f6b893"/>
<circle cx="113.20" cy="422.10" r="1.12" fill="#f6a67e"/>
<circle cx="113.20" cy="419.57" r="1.12" fill="#f6b48f"/>
<circle cx="113.20" cy="424.63" r="1.12" fill="#f6b893"/>
<line x1="113.20" y1="439.30" x2="113.20" y2="440.90" stroke="#5a5a5a" stroke-width="0.7"/>
<circle cx="127.10" cy="234.96" r="1.12" fill="#6b1f56"/>
<circle cx="127.10" cy="237.49" r="1.12" fill="#d5224a"/>
<circle cx="127.10" cy="240.02" r="1.12" fill="#a6195a"/>
<circle cx="127.10" cy="242.55" r="1.12" fill="#bd1655"/>
<circle cx="127.10" cy="245.07" r="1.12" fill="#b51657"/>
<circle cx="127.10" cy="247.60" r="1.12" fill="#d72549"/>
<circle cx="127.10" cy="250.13" r="1.12" fill="#d92847"/>
<circle cx="127.10" cy="252.66" r="1.12" fill="#b51657"/>
<circle cx="127.10" cy="255.19" r="1.12" fill="#c51852"/>
<circle cx="127.10" cy="257.72" r="1.12" fill="#d82748"/>
<circle cx="127.10" cy="260.25" r="1.12" fill="#a4195b"/>
<circle cx="127.10" cy="262.78" r="1.12" fill="#b91657"/>
<circle cx="127.10" cy="265.31" r="1.12" fill="#af1759"/>
<circle cx="127.10" cy="267.84" r="1.12" fill="#d82748"/>
<circle cx="127.10" cy="270.36" r="1.12" fill="#ab185a"/>
<circle cx="127.10" cy="272.89" r="1.12" fill="#d82748"/>
<circle cx="127.10" cy="275.42" r="1.12" fill="#aa185a"/>
<circle cx="127.10" cy="277.95" r="1.12" fill="#c41753"/>
<circle cx="127.10" cy="280.48" r="1.12" fill="#cb1b4f"/>
<circle cx="127.10" cy="283.01" r="1.12" fill="#bd1655"/>
<circle cx="127.10" cy="285.54" r="1.12" fill="#a6195a"/>
<circle cx="127.10" cy="288.07" r="1.12" fill="#ce1d4e"/>
<circle cx="127.10" cy="290.60" r="1.12" fill="#d62449"/>
<circle cx="127.10" cy="293.12" r="1.12" fill="#bf1654"/>
<circle cx="127.10" cy="295.65" r="1.12" fill="#d11f4c"/>
<circle cx="127.10" cy="298.18" r="1.12" fill="#d72549"/>
<circle cx="127.10" cy="300.71" r="1.12" fill="#d5224a"/>
<circle cx="127.10" cy="303.24" r="1.12" fill="#d92847"/>
<circle cx="127.10" cy="305.77" r="1.12" fill="#d2204c"/>
<circle cx="127.10" cy="308.30" r="1.12" fill="#cd1c4e"/>
<circle cx="127.10" cy="310.83" r="1.12" fill="#cd1c4e"/>
<circle cx="127.10" cy="313.36" r="1.12" fill="#b01759"/>
<circle cx="127.10" cy="315.89" r="1.12" fill="#ce1d4e"/>
<circle cx="127.10" cy="318.42" r="1.12" fill="#c11754"/>
<circle cx="127.10" cy="320.94" r="1.12" fill="#d3214b"/>
<circle cx="127.10" cy="323.47" r="1.12" fill="#ca1a50"/>
<circle cx="127.10" cy="326.00" r="1.12" fill="#db2946"/>
<circle cx="127.10" cy="328.53" r="1.12" fill="#cf1e4d"/>
<circle cx="127.10" cy="331.06" r="1.12" fill="#db2946"/>
<circle cx="127.10" cy="333.59" r="1.12" fill="#b21758"/>
<circle cx="127.10" cy="336.12" r="1.12" fill="#bd1655"/>
<circle cx="127.10" cy="338.65" r="1.12" fill="#d3214b"/>
<circle cx="127.10" cy="341.18" r="1.12" fill="#c21753"/>
<circle cx="127.10" cy="343.70" r="1.12" fill="#a4195b"/>
<circle cx="127.10" cy="346.23" r="1.12" fill="#d72549"/>
<circle cx="127.10" cy="348.76" r="1.12" fill="#ad1759"/>
<circle cx="127.10" cy="351.29" r="1.12" fill="#c51852"/>
<circle cx="127.10" cy="353.82" r="1.12" fill="#c21753"/>
<circle cx="127.10" cy="356.35" r="1.12" fill="#ab185a"/>
<circle cx="127.10" cy="358.88" r="1.12" fill="#c81951"/>
<circle cx="127.10" cy="361.41" r="1.12" fill="#c11754"/>
<circle cx="127.10" cy="363.94" r="1.12" fill="#b51657"/>
<circle cx="127.10" cy="366.47" r="1.12" fill="#a3195b"/>
<circle cx="127.10" cy="369.00" r="1.12" fill="#cb1b4f"/>
<circle cx="127.10" cy="371.52" r="1.12" fill="#ab185a"/>
<circle cx="127.10" cy="374.05" r="1.12" fill="#b41658"/>
<circle cx="127.10" cy="376.58" r="1.12" fill="#b91657"/>
<circle cx="127.10" cy="379.11" r="1.12" fill="#c71951"/>
<circle cx="127.10" cy="381.64" r="1.12" fill="#ca1a50"/>
<circle cx="127.10" cy="384.17" r="1.12" fill="#f47c55"/>
<circle cx="127.10" cy="386.70" r="1.12" fill="#f37651"/>
<circle cx="127.10" cy="389.23" r="1.12" fill="#f47a54"/>
<circle cx="127.10" cy="391.76" r="1.12" fill="#eb483e"/>
<circle cx="127.10" cy="394.28" r="1.12" fill="#f26d4b"/>
<circle cx="127.10" cy="396.81" r="1.12" fill="#f37450"/>
<circle cx="127.10" cy="399.34" r="1.12" fill="#f47a54"/>
<circle cx="127.10" cy="401.87" r="1.12" fill="#e8403e"/>
<circle cx="127.10" cy="404.40" r="1.12" fill="#e83f3f"/>
<circle cx="127.10" cy="406.93" r="1.12" fill="#ed4e3e"/>
<circle cx="127.10" cy="409.46" r="1.12" fill="#f26b49"/>
<circle cx="127.10" cy="411.99" r="1.12" fill="#f26f4c"/>
<circle cx="127.10" cy="414.52" r="1.12" fill="#f26b49"/>
<circle cx="127.10" cy="417.05" r="1.12" fill="#f05e42"/>
<circle cx="127.10" cy="419.57" r="1.12" fill="#f37450"/>
<circle cx="127.10" cy="422.10" r="1.12" fill="#f06043"/>
<circle cx="127.10" cy="424.63" r="1.12" fill="#f26d4b"/>
<circle cx="127.10" cy="427.16" r="1.12" fill="#e53940"/>
<line x1="127.10" y1="439.30" x2="127.10" y2="440.90" stroke="#5a5a5a" stroke-width="0.7"/>
<circle cx="141.00" cy="234.96" r="1.12" fill="#3f1b43"/>
<circle cx="141.00" cy="237.49" r="1.12" fill="#e63b40"/>
<circle cx="141.00" cy="240.02" r="1.12" fill="#ee523f"/>
<circle cx="141.00" cy="242.55" r="1.12" fill="#d5224a"/>
<circle cx="141.00" cy="245.07" r="1.12" fill="#ed4e3e"/>
<circle cx="141.00" cy="247.60" r="1.12" fill="#ec4a3e"/>
<circle cx="141.00" cy="250.13" r="1.12" fill="#f16646"/>
<circle cx="141.00" cy="252.66" r="1.12" fill="#eb483e"/>
<circle cx="141.00" cy="255.19" r="1.12" fill="#e8403e"/>
<circle cx="141.00" cy="257.72" r="1.12" fill="#e83f3f"/>
<circle cx="141.00" cy="260.25" r="1.12" fill="#ef5640"/>
<circle cx="141.00" cy="262.78" r="1.12" fill="#e83f3f"/>
<circle cx="141.00" cy="265.31" r="1.12" fill="#f16445"/>
<circle cx="141.00" cy="267.84" r="1.12" fill="#ed503e"/>
<circle cx="141.00" cy="270.36" r="1.12" fill="#f05e42"/>
<circle cx="141.00" cy="272.89" r="1.12" fill="#eb463e"/>
<circle cx="141.00" cy="275.42" r="1.12" fill="#f16244"/>
<circle cx="141.00" cy="277.95" r="1.12" fill="#f16445"/>
<circle cx="141.00" cy="280.48" r="1.12" fill="#ed4e3e"/>
<circle cx="141.00" cy="283.01" r="1.12" fill="#ee543f"/>
<circle cx="141.00" cy="285.54" r="1.12" fill="#e53940"/>
<circle cx="141.00" cy="288.07" r="1.12" fill="#e73d3f"/>
<circle cx="141.00" cy="290.60" r="1.12" fill="#de2e44"/>
<circle cx="141.00" cy="293.12" r="1.12" fill="#e23442"/>
<circle cx="141.00" cy="295.65" r="1.12" fill="#e03143"/>
<circle cx="141.00" cy="298.18" r="1.12" fill="#d82748"/>
<circle cx="141.00" cy="300.71" r="1.12" fill="#eb463e"/>
<circle cx="141.00" cy="303.24" r="1.12" fill="#ec4c3e"/>
<circle cx="141.00" cy="305.77" r="1.12" fill="#d3214b"/>
<circle cx="141.00" cy="308.30" r="1.12" fill="#dd2c45"/>
<circle cx="141.00" cy="310.83" r="1.12" fill="#bf1654"/>
<circle cx="141.00" cy="313.36" r="1.12" fill="#c41753"/>
<circle cx="141.00" cy="315.89" r="1.12" fill="#e23442"/>
<circle cx="141.00" cy="318.42" r="1.12" fill="#b91657"/>
<circle cx="141.00" cy="320.94" r="1.12" fill="#b41658"/>
<circle cx="141.00" cy="323.47" r="1.12" fill="#c51852"/>
<circle cx="141.00" cy="326.00" r="1.12" fill="#bf1654"/>
<circle cx="141.00" cy="328.53" r="1.12" fill="#ba1656"/>
<circle cx="141.00" cy="331.06" r="1.12" fill="#de2e44"/>
<circle cx="141.00" cy="333.59" r="1.12" fill="#cb1b4f"/>
<circle cx="141.00" cy="336.12" r="1.12" fill="#cd1c4e"/>
<circle cx="141.00" cy="338.65" r="1.12" fill="#b91657"/>
<circle cx="141.00" cy="341.18" r="1.12" fill="#ba1656"/>
<circle cx="141.00" cy="343.70" r="1.12" fill="#b91657"/>
<circle cx="141.00" cy="346.23" r="1.12" fill="#c71951"/>
<circle cx="141.00" cy="348.76" r="1.12" fill="#b41658"/>
<circle cx="141.00" cy="351.29" r="1.12" fill="#c21753"/>
<circle cx="141.00" cy="353.82" r="1.12" fill="#c11754"/>
<circle cx="141.00" cy="356.35" r="1.12" fill="#d92847"/>
<circle cx="141.00" cy="358.88" r="1.12" fill="#e23442"/>
<circle cx="141.00" cy="361.41" r="1.12" fill="#de2e44"/>
<circle cx="141.00" cy="363.94" r="1.12" fill="#d3214b"/>
<circle cx="141.00" cy="366.47" r="1.12" fill="#df2f44"/>
<circle cx="141.00" cy="369.00" r="1.12" fill="#661f54"/>
<circle cx="141.00" cy="371.52" r="1.12" fill="#781f59"/>
<circle cx="141.00" cy="374.05" r="1.12" fill="#731f58"/>
<circle cx="141.00" cy="376.58" r="1.12" fill="#731f58"/>
<circle cx="141.00" cy="379.11" r="1.12" fill="#701f57"/>
<circle cx="141.00" cy="381.64" r="1.12" fill="#7b1f59"/>
<circle cx="141.00" cy="384.17" r="1.12" fill="#9c1b5b"/>
<circle cx="141.00" cy="386.70" r="1.12" fill="#681f55"/>
<circle cx="141.00" cy="389.23" r="1.12" fill="#6b1f56"/>
<circle cx="141.00" cy="391.76" r="1.12" fill="#7b1f59"/>
<circle cx="141.00" cy="394.28" r="1.12" fill="#7a1f59"/>
<circle cx="141.00" cy="396.81" r="1.12" fill="#711f57"/>
<circle cx="141.00" cy="399.34" r="1.12" fill="#981b5b"/>
<circle cx="141.00" cy="401.87" r="1.12" fill="#6d1f56"/>
<circle cx="141.00" cy="404.40" r="1.12" fill="#8c1d5b"/>
<circle cx="141.00" cy="406.93" r="1.12" fill="#981b5b"/>
<circle cx="141.00" cy="409.46" r="1.12" fill="#8b1d5b"/>
<circle cx="141.00" cy="411.99" r="1.12" fill="#6d1f56"/>
<circle cx="141.00" cy="414.52" r="1.12" fill="#8e1d5b"/>
<circle cx="141.00" cy="417.05" r="1.12" fill="#6d1f56"/>
<circle cx="141.00" cy="419.57" r="1.12" fill="#5c1e51"/>
<circle cx="141.00" cy="422.10" r="1.12" fill="#7b1f59"/>
<circle cx="141.00" cy="424.63" r="1.12" fill="#841e5a"/>
<circle cx="141.00" cy="427.16" r="1.12" fill="#7d1f5a"/>
<circle cx="141.00" cy="429.69" r="1.12" fill="#701f57"/>
<line x1="141.00" y1="439.30" x2="141.00" y2="440.90" stroke="#5a5a5a" stroke-width="0.7"/>
<circle cx="154.90" cy="234.96" r="1.12" fill="#271534"/>
<circle cx="154.90" cy="305.77" r="1.12" fill="#f37852"/>
<circle cx="154.90" cy="308.30" r="1.12" fill="#f37651"/>
<circle cx="154.90" cy="310.83" r="1.12" fill="#f69c73"/>
<circle cx="154.90" cy="313.36" r="1.12" fill="#f5976e"/>
<circle cx="154.90" cy="315.89" r="1.12" fill="#f59067"/>
<circle cx="154.90" cy="318.42" r="1.12" fill="#f26f4c"/>
<circle cx="154.90" cy="320.94" r="1.12" fill="#f58d64"/>
<circle cx="154.90" cy="323.47" r="1.12" fill="#dc2b46"/>
<circle cx="154.90" cy="326.00" r="1.12" fill="#ed503e"/>
<circle cx="154.90" cy="328.53" r="1.12" fill="#ec4c3e"/>
<circle cx="154.90" cy="331.06" r="1.12" fill="#e73d3f"/>
<circle cx="154.90" cy="333.59" r="1.12" fill="#d72549"/>
<circle cx="154.90" cy="336.12" r="1.12" fill="#d62449"/>
<circle cx="154.90" cy="338.65" r="1.12" fill="#d62449"/>
<circle cx="154.90" cy="341.18" r="1.12" fill="#e73d3f"/>
<circle cx="154.90" cy="343.70" r="1.12" fill="#de2e44"/>
<circle cx="154.90" cy="346.23" r="1.12" fill="#e03143"/>
<circle cx="154.90" cy="348.76" r="1.12" fill="#e03143"/>
<circle cx="154.90" cy="351.29" r="1.12" fill="#eb483e"/>
<circle cx="154.90" cy="353.82" r="1.12" fill="#cb1b4f"/>
<circle cx="154.90" cy="356.35" r="1.12" fill="#e9423e"/>
<circle cx="154.90" cy="358.88" r="1.12" fill="#c71951"/>
<circle cx="154.90" cy="361.41" r="1.12" fill="#c81951"/>
<circle cx="154.90" cy="363.94" r="1.12" fill="#ed503e"/>
<circle cx="154.90" cy="366.47" r="1.12" fill="#e03143"/>
<circle cx="154.90" cy="369.00" r="1.12" fill="#cf1e4d"/>
<circle cx="154.90" cy="371.52" r="1.12" fill="#c71951"/>
<circle cx="154.90" cy="374.05" r="1.12" fill="#e03143"/>
<circle cx="154.90" cy="376.58" r="1.12" fill="#e73d3f"/>
<circle cx="154.90" cy="379.11" r="1.12" fill="#e9423e"/>
<circle cx="154.90" cy="381.64" r="1.12" fill="#c81951"/>
<circle cx="154.90" cy="384.17" r="1.12" fill="#971c5b"/>
<circle cx="154.90" cy="386.70" r="1.12" fill="#7f1e5a"/>
<circle cx="154.90" cy="389.23" r="1.12" fill="#9c1b5b"/>
<circle cx="154.90" cy="391.76" r="1.12" fill="#821e5a"/>
<circle cx="154.90" cy="394.28" r="1.12" fill="#661f54"/>
<circle cx="154.90" cy="396.81" r="1.12" fill="#9c1b5b"/>
<circle cx="154.90" cy="399.34" r="1.12" fill="#6e1f57"/>
<circle cx="154.90" cy="401.87" r="1.12" fill="#821e5a"/>
<circle cx="154.90" cy="404.40" r="1.12" fill="#6b1f56"/>
<circle cx="154.90" cy="406.93" r="1.12" fill="#761f58"/>
<circle cx="154.90" cy="409.46" r="1.12" fill="#3f1b43"/>
<circle cx="154.90" cy="411.99" r="1.12" fill="#180f29"/>
<circle cx="154.90" cy="414.52" r="1.12" fill="#30173a"/>
<circle cx="154.90" cy="417.05" r="1.12" fill="#4b1d4a"/>
<circle cx="154.90" cy="419.57" r="1.12" fill="#4c1d4b"/>
<circle cx="154.90" cy="422.10" r="1.12" fill="#30173a"/>
<circle cx="154.90" cy="424.63" r="1.12" fill="#31183b"/>
<circle cx="154.90" cy="427.16" r="1.12" fill="#3a1a41"/>
<circle cx="154.90" cy="429.69" r="1.12" fill="#431c46"/>
<circle cx="154.90" cy="240.02" r="1.12" fill="#e3c3b5"/>
<circle cx="154.90" cy="245.07" r="1.12" fill="#e3c3b5"/>
<circle cx="154.90" cy="255.19" r="1.12" fill="#e3c3b5"/>
<circle cx="154.90" cy="262.78" r="1.12" fill="#d9c4bf"/>
<circle cx="154.90" cy="270.36" r="1.12" fill="#e3c3b5"/>
<circle cx="154.90" cy="280.48" r="1.12" fill="#d9c4bf"/>
<circle cx="154.90" cy="290.60" r="1.12" fill="#e3c3b5"/>
<circle cx="154.90" cy="298.18" r="1.12" fill="#e3c3b5"/>
<line x1="154.90" y1="439.30" x2="154.90" y2="440.90" stroke="#5a5a5a" stroke-width="0.7"/>
<circle cx="168.80" cy="234.96" r="1.12" fill="#03051a"/>
<circle cx="168.80" cy="336.12" r="1.12" fill="#f59067"/>
<circle cx="168.80" cy="338.65" r="1.12" fill="#ef5840"/>
<circle cx="168.80" cy="341.18" r="1.12" fill="#f26747"/>
<circle cx="168.80" cy="343.70" r="1.12" fill="#ef5a41"/>
<circle cx="168.80" cy="346.23" r="1.12" fill="#f4865e"/>
<circle cx="168.80" cy="348.76" r="1.12" fill="#f47f58"/>
<circle cx="168.80" cy="351.29" r="1.12" fill="#f47f58"/>
<circle cx="168.80" cy="353.82" r="1.12" fill="#ee523f"/>
<circle cx="168.80" cy="356.35" r="1.12" fill="#f3714d"/>
<circle cx="168.80" cy="358.88" r="1.12" fill="#f4815a"/>
<circle cx="168.80" cy="361.41" r="1.12" fill="#f47c55"/>
<circle cx="168.80" cy="363.94" r="1.12" fill="#dd2c45"/>
<circle cx="168.80" cy="366.47" r="1.12" fill="#e63b40"/>
<circle cx="168.80" cy="369.00" r="1.12" fill="#e43841"/>
<circle cx="168.80" cy="371.52" r="1.12" fill="#c11754"/>
<circle cx="168.80" cy="374.05" r="1.12" fill="#dd2c45"/>
<circle cx="168.80" cy="376.58" r="1.12" fill="#ba1656"/>
<circle cx="168.80" cy="379.11" r="1.12" fill="#de2e44"/>
<circle cx="168.80" cy="381.64" r="1.12" fill="#de2e44"/>
<circle cx="168.80" cy="384.17" r="1.12" fill="#d2204c"/>
<circle cx="168.80" cy="386.70" r="1.12" fill="#e13342"/>
<circle cx="168.80" cy="389.23" r="1.12" fill="#631f53"/>
<circle cx="168.80" cy="391.76" r="1.12" fill="#401b44"/>
<circle cx="168.80" cy="394.28" r="1.12" fill="#431c46"/>
<circle cx="168.80" cy="396.81" r="1.12" fill="#481c48"/>
<circle cx="168.80" cy="399.34" r="1.12" fill="#531e4d"/>
<circle cx="168.80" cy="401.87" r="1.12" fill="#421b45"/>
<circle cx="168.80" cy="404.40" r="1.12" fill="#401b44"/>
<circle cx="168.80" cy="406.93" r="1.12" fill="#591e50"/>
<circle cx="168.80" cy="409.46" r="1.12" fill="#4e1d4b"/>
<circle cx="168.80" cy="411.99" r="1.12" fill="#781f59"/>
<circle cx="168.80" cy="414.52" r="1.12" fill="#4c1d4b"/>
<circle cx="168.80" cy="417.05" r="1.12" fill="#5e1f52"/>
<circle cx="168.80" cy="419.57" r="1.12" fill="#4c1d4b"/>
<circle cx="168.80" cy="422.10" r="1.12" fill="#531e4d"/>
<circle cx="168.80" cy="424.63" r="1.12" fill="#691f55"/>
<circle cx="168.80" cy="427.16" r="1.12" fill="#781f59"/>
<circle cx="168.80" cy="429.69" r="1.12" fill="#421b45"/>
<circle cx="168.80" cy="240.02" r="1.12" fill="#d9c4bf"/>
<circle cx="168.80" cy="247.60" r="1.12" fill="#d9c4bf"/>
<circle cx="168.80" cy="255.19" r="1.12" fill="#e3c3b5"/>
<circle cx="168.80" cy="265.31" r="1.12" fill="#e3c3b5"/>
<circle cx="168.80" cy="272.89" r="1.12" fill="#e3c3b5"/>
<circle cx="168.80" cy="283.01" r="1.12" fill="#e3c3b5"/>
<circle cx="168.80" cy="290.60" r="1.12" fill="#e3c3b5"/>
<circle cx="168.80" cy="300.71" r="1.12" fill="#e3c3b5"/>
<circle cx="168.80" cy="310.83" r="1.12" fill="#cdbcbc"/>
<circle cx="168.80" cy="318.42" r="1.12" fill="#cdbcbc"/>
<circle cx="168.80" cy="326.00" r="1.12" fill="#cdbcbc"/>
<circle cx="168.80" cy="331.06" r="1.12" fill="#e3c3b5"/>
<line x1="168.80" y1="439.30" x2="168.80" y2="440.90" stroke="#5a5a5a" stroke-width="0.7"/>
<text x="45.90" y="441.00" font-size="6.4" text-anchor="end" fill="#333" transform="rotate(-90 45.90 441.00)">&lt;=5</text>
<text x="59.80" y="441.00" font-size="6.4" text-anchor="end" fill="#333" transform="rotate(-90 59.80 441.00)">(5,10]</text>
<text x="73.70" y="441.00" font-size="6.4" text-anchor="end" fill="#333" transform="rotate(-90 73.70 441.00)">(10,25]</text>
<text x="87.60" y="441.00" font-size="6.4" text-anchor="end" fill="#333" transform="rotate(-90 87.60 441.00)">(25,50]</text>
<text x="101.50" y="441.00" font-size="6.4" text-anchor="end" fill="#333" transform="rotate(-90 101.50 441.00)">(50, 75]</text>
<text x="115.40" y="441.00" font-size="6.4" text-anchor="end" fill="#333" transform="rotate(-90 115.40 441.00)">(75,100]</text>
<text x="129.30" y="441.00" font-size="6.4" text-anchor="end" fill="#333" transform="rotate(-90 129.30 441.00)">(100,150]</text>
<text x="143.20" y="441.00" font-size="6.4" text-anchor="end" fill="#333" transform="rotate(-90 143.20 441.00)">(150,250]</text>
<text x="157.10" y="441.00" font-size="6.4" text-anchor="end" fill="#333" transform="rotate(-90 157.10 441.00)">(250,500]</text>
<text x="171.00" y="441.00" font-size="6.4" text-anchor="end" fill="#333" transform="rotate(-90 171.00 441.00)">&gt; 500</text>
<text x="100.60" y="473.00" font-size="6.1" text-anchor="middle" fill="#333" textLength="37" lengthAdjust="spacingAndGlyphs">Distance (Kb)</text>
<defs><linearGradient id="gB" x1="0" y1="1" x2="0" y2="0"><stop offset="0.00" stop-color="#faebdd"/><stop offset="0.10" stop-color="#f7c6a6"/><stop offset="0.20" stop-color="#f69c73"/><stop offset="0.30" stop-color="#f3714d"/><stop offset="0.40" stop-color="#e83f3f"/><stop offset="0.50" stop-color="#cb1b4f"/><stop offset="0.60" stop-color="#a11a5b"/><stop offset="0.70" stop-color="#751f58"/><stop offset="0.80" stop-color="#4c1d4b"/><stop offset="0.90" stop-color="#251433"/><stop offset="1.00" stop-color="#03051a"/></linearGradient></defs>
<rect x="185.00" y="328.50" width="9.80" height="47.50" fill="url(#gB)"/>
<line x1="194.80" y1="375.00" x2="196.20" y2="375.00" stroke="#888" stroke-width="0.6"/>
<text x="199.00" y="377.30" font-size="6.5" text-anchor="start" fill="#222" stroke="#222" stroke-width="0.143">0</text>
<line x1="194.80" y1="366.80" x2="196.20" y2="366.80" stroke="#888" stroke-width="0.6"/>
<text x="199.00" y="369.10" font-size="6.5" text-anchor="start" fill="#222" stroke="#222" stroke-width="0.143">2</text>
<line x1="194.80" y1="358.60" x2="196.20" y2="358.60" stroke="#888" stroke-width="0.6"/>
<text x="199.00" y="360.90" font-size="6.5" text-anchor="start" fill="#222" stroke="#222" stroke-width="0.143">4</text>
<line x1="194.80" y1="350.40" x2="196.20" y2="350.40" stroke="#888" stroke-width="0.6"/>
<text x="199.00" y="352.70" font-size="6.5" text-anchor="start" fill="#222" stroke="#222" stroke-width="0.143">6</text>
<line x1="194.80" y1="342.20" x2="196.20" y2="342.20" stroke="#888" stroke-width="0.6"/>
<text x="199.00" y="344.50" font-size="6.5" text-anchor="start" fill="#222" stroke="#222" stroke-width="0.143">8</text>
<line x1="194.80" y1="334.00" x2="196.20" y2="334.00" stroke="#888" stroke-width="0.6"/>
<text x="199.00" y="336.30" font-size="6.5" text-anchor="start" fill="#222" stroke="#222" stroke-width="0.143">10</text>
<text x="183.00" y="352.70" font-size="7.6" text-anchor="middle" fill="#222" transform="rotate(-90 183.00 352.70)" stroke="#222" stroke-width="0.167" textLength="58.5" lengthAdjust="spacingAndGlyphs">No. of ETG pairs</text>
<text x="2.10" y="492.90" font-size="14" text-anchor="start" fill="#111" font-weight="bold">C</text>
<rect x="375.78" y="492.05" width="12.40" height="4.30" fill="#51459e"/>
<rect x="375.78" y="496.98" width="12.40" height="4.30" fill="#51459e"/>
<rect x="375.78" y="501.91" width="12.40" height="4.30" fill="#51459e"/>
<rect x="375.78" y="506.83" width="12.40" height="4.30" fill="#4f55a5"/>
<rect x="375.78" y="511.76" width="12.40" height="4.30" fill="#51459e"/>
<rect x="375.78" y="516.69" width="12.40" height="4.30" fill="#51459e"/>
<rect x="375.78" y="521.62" width="12.40" height="4.30" fill="#4f55a5"/>
<rect x="375.78" y="526.55" width="12.40" height="4.30" fill="#4f55a5"/>
<rect x="375.78" y="531.47" width="12.40" height="4.30" fill="#51459e"/>
<rect x="375.78" y="541.33" width="12.40" height="4.30" fill="#4f55a5"/>
<rect x="375.78" y="546.26" width="12.40" height="4.30" fill="#4f55a5"/>
<rect x="375.78" y="551.19" width="12.40" height="4.30" fill="#4f55a5"/>
<rect x="375.78" y="556.11" width="12.40" height="4.30" fill="#51459e"/>
<rect x="375.78" y="565.97" width="12.40" height="4.30" fill="#4f55a5"/>
<rect x="349.24" y="536.40" width="12.40" height="4.30" fill="#51459e"/>
<rect x="322.70" y="561.04" width="12.40" height="4.30" fill="#51459e"/>
<rect x="83.84" y="570.90" width="12.40" height="4.30" fill="#51459e"/>
<rect x="176.73" y="575.83" width="12.40" height="4.30" fill="#51459e"/>
<rect x="269.62" y="575.83" width="12.40" height="4.30" fill="#51459e"/>
<rect x="309.43" y="575.83" width="12.40" height="4.30" fill="#51459e"/>
<rect x="335.97" y="575.83" width="12.40" height="4.30" fill="#51459e"/>
<rect x="375.78" y="575.83" width="12.40" height="4.30" fill="#51459e"/>
<rect x="83.84" y="580.75" width="12.40" height="4.30" fill="#51459e"/>
<rect x="190.00" y="580.75" width="12.40" height="4.30" fill="#51459e"/>
<rect x="335.97" y="580.75" width="12.40" height="4.30" fill="#51459e"/>
<rect x="282.89" y="585.68" width="12.40" height="4.30" fill="#51459e"/>
<rect x="375.78" y="585.68" width="12.40" height="4.30" fill="#4175b4"/>
<rect x="136.92" y="590.61" width="12.40" height="4.30" fill="#51459e"/>
<rect x="203.27" y="590.61" width="12.40" height="4.30" fill="#51459e"/>
<rect x="282.89" y="590.61" width="12.40" height="4.30" fill="#51459e"/>
<rect x="309.43" y="590.61" width="12.40" height="4.30" fill="#51459e"/>
<rect x="375.78" y="590.61" width="12.40" height="4.30" fill="#3387bc"/>
<rect x="163.46" y="595.54" width="12.40" height="4.30" fill="#51459e"/>
<rect x="296.16" y="595.54" width="12.40" height="4.30" fill="#51459e"/>
<rect x="362.51" y="595.54" width="12.40" height="4.30" fill="#51459e"/>
<rect x="375.78" y="595.54" width="12.40" height="4.30" fill="#3b7cb7"/>
<rect x="83.84" y="600.47" width="12.40" height="4.30" fill="#51459e"/>
<rect x="97.11" y="600.47" width="12.40" height="4.30" fill="#51459e"/>
<rect x="136.92" y="600.47" width="12.40" height="4.30" fill="#51459e"/>
<rect x="269.62" y="600.47" width="12.40" height="4.30" fill="#51459e"/>
<rect x="322.70" y="600.47" width="12.40" height="4.30" fill="#51459e"/>
<rect x="335.97" y="600.47" width="12.40" height="4.30" fill="#51459e"/>
<rect x="362.51" y="600.47" width="12.40" height="4.30" fill="#51459e"/>
<rect x="375.78" y="600.47" width="12.40" height="4.30" fill="#3b7cb7"/>
<rect x="190.00" y="605.39" width="12.40" height="4.30" fill="#51459e"/>
<rect x="203.27" y="605.39" width="12.40" height="4.30" fill="#51459e"/>
<rect x="256.35" y="605.39" width="12.40" height="4.30" fill="#51459e"/>
<rect x="269.62" y="605.39" width="12.40" height="4.30" fill="#51459e"/>
<rect x="362.51" y="605.39" width="12.40" height="4.30" fill="#51459e"/>
<rect x="375.78" y="605.39" width="12.40" height="4.30" fill="#3b7cb7"/>
<rect x="216.54" y="610.32" width="12.40" height="4.30" fill="#51459e"/>
<rect x="256.35" y="610.32" width="12.40" height="4.30" fill="#51459e"/>
<rect x="335.97" y="610.32" width="12.40" height="4.30" fill="#51459e"/>
<rect x="362.51" y="610.32" width="12.40" height="4.30" fill="#51459e"/>
<rect x="375.78" y="610.32" width="12.40" height="4.30" fill="#459eb4"/>
<rect x="136.92" y="615.25" width="12.40" height="4.30" fill="#51459e"/>
<rect x="190.00" y="615.25" width="12.40" height="4.30" fill="#51459e"/>
<rect x="203.27" y="615.25" width="12.40" height="4.30" fill="#51459e"/>
<rect x="243.08" y="615.25" width="12.40" height="4.30" fill="#51459e"/>
<rect x="256.35" y="615.25" width="12.40" height="4.30" fill="#51459e"/>
<rect x="269.62" y="615.25" width="12.40" height="4.30" fill="#51459e"/>
<rect x="282.89" y="615.25" width="12.40" height="4.30" fill="#51459e"/>
<rect x="362.51" y="615.25" width="12.40" height="4.30" fill="#51459e"/>
<rect x="375.78" y="615.25" width="12.40" height="4.30" fill="#459eb4"/>
<rect x="123.65" y="620.18" width="12.40" height="4.30" fill="#51459e"/>
<rect x="176.73" y="620.18" width="12.40" height="4.30" fill="#51459e"/>
<rect x="190.00" y="620.18" width="12.40" height="4.30" fill="#51459e"/>
<rect x="203.27" y="620.18" width="12.40" height="4.30" fill="#51459e"/>
<rect x="282.89" y="620.18" width="12.40" height="4.30" fill="#51459e"/>
<rect x="335.97" y="620.18" width="12.40" height="4.30" fill="#51459e"/>
<rect x="349.24" y="620.18" width="12.40" height="4.30" fill="#51459e"/>
<rect x="362.51" y="620.18" width="12.40" height="4.30" fill="#51459e"/>
<rect x="375.78" y="620.18" width="12.40" height="4.30" fill="#56b0ad"/>
<rect x="70.57" y="625.11" width="12.40" height="4.30" fill="#51459e"/>
<rect x="203.27" y="625.11" width="12.40" height="4.30" fill="#51459e"/>
<rect x="216.54" y="625.11" width="12.40" height="4.30" fill="#51459e"/>
<rect x="229.81" y="625.11" width="12.40" height="4.30" fill="#51459e"/>
<rect x="256.35" y="625.11" width="12.40" height="4.30" fill="#51459e"/>
<rect x="296.16" y="625.11" width="12.40" height="4.30" fill="#51459e"/>
<rect x="309.43" y="625.11" width="12.40" height="4.30" fill="#51459e"/>
<rect x="269.62" y="625.11" width="12.40" height="4.30" fill="#4f55a5"/>
<rect x="282.89" y="625.11" width="12.40" height="4.30" fill="#4f55a5"/>
<rect x="375.78" y="625.11" width="12.40" height="4.30" fill="#56b0ad"/>
<rect x="70.57" y="630.03" width="12.40" height="4.30" fill="#51459e"/>
<rect x="83.84" y="630.03" width="12.40" height="4.30" fill="#51459e"/>
<rect x="110.38" y="630.03" width="12.40" height="4.30" fill="#51459e"/>
<rect x="136.92" y="630.03" width="12.40" height="4.30" fill="#51459e"/>
<rect x="150.19" y="630.03" width="12.40" height="4.30" fill="#51459e"/>
<rect x="176.73" y="630.03" width="12.40" height="4.30" fill="#51459e"/>
<rect x="190.00" y="630.03" width="12.40" height="4.30" fill="#51459e"/>
<rect x="256.35" y="630.03" width="12.40" height="4.30" fill="#51459e"/>
<rect x="282.89" y="630.03" width="12.40" height="4.30" fill="#51459e"/>
<rect x="296.16" y="630.03" width="12.40" height="4.30" fill="#51459e"/>
<rect x="322.70" y="630.03" width="12.40" height="4.30" fill="#51459e"/>
<rect x="335.97" y="630.03" width="12.40" height="4.30" fill="#51459e"/>
<rect x="216.54" y="630.03" width="12.40" height="4.30" fill="#4f55a5"/>
<rect x="229.81" y="630.03" width="12.40" height="4.30" fill="#4f55a5"/>
<rect x="375.78" y="630.03" width="12.40" height="4.30" fill="#56b0ad"/>
<rect x="110.38" y="634.96" width="12.40" height="4.30" fill="#51459e"/>
<rect x="136.92" y="634.96" width="12.40" height="4.30" fill="#51459e"/>
<rect x="150.19" y="634.96" width="12.40" height="4.30" fill="#51459e"/>
<rect x="163.46" y="634.96" width="12.40" height="4.30" fill="#51459e"/>
<rect x="176.73" y="634.96" width="12.40" height="4.30" fill="#51459e"/>
<rect x="203.27" y="634.96" width="12.40" height="4.30" fill="#51459e"/>
<rect x="243.08" y="634.96" width="12.40" height="4.30" fill="#51459e"/>
<rect x="282.89" y="634.96" width="12.40" height="4.30" fill="#51459e"/>
<rect x="309.43" y="634.96" width="12.40" height="4.30" fill="#51459e"/>
<rect x="322.70" y="634.96" width="12.40" height="4.30" fill="#51459e"/>
<rect x="362.51" y="634.96" width="12.40" height="4.30" fill="#51459e"/>
<rect x="216.54" y="634.96" width="12.40" height="4.30" fill="#3b92b9"/>
<rect x="229.81" y="634.96" width="12.40" height="4.30" fill="#3b92b9"/>
<rect x="256.35" y="634.96" width="12.40" height="4.30" fill="#4f55a5"/>
<rect x="269.62" y="634.96" width="12.40" height="4.30" fill="#4f55a5"/>
<rect x="375.78" y="634.96" width="12.40" height="4.30" fill="#459eb4"/>
<rect x="97.11" y="639.89" width="12.40" height="4.30" fill="#51459e"/>
<rect x="123.65" y="639.89" width="12.40" height="4.30" fill="#51459e"/>
<rect x="136.92" y="639.89" width="12.40" height="4.30" fill="#51459e"/>
<rect x="296.16" y="639.89" width="12.40" height="4.30" fill="#51459e"/>
<rect x="150.19" y="639.89" width="12.40" height="4.30" fill="#4f55a5"/>
<rect x="163.46" y="639.89" width="12.40" height="4.30" fill="#4f55a5"/>
<rect x="203.27" y="639.89" width="12.40" height="4.30" fill="#4f55a5"/>
<rect x="216.54" y="639.89" width="12.40" height="4.30" fill="#4f55a5"/>
<rect x="229.81" y="639.89" width="12.40" height="4.30" fill="#4f55a5"/>
<rect x="243.08" y="639.89" width="12.40" height="4.30" fill="#4f55a5"/>
<rect x="322.70" y="639.89" width="12.40" height="4.30" fill="#4f55a5"/>
<rect x="335.97" y="639.89" width="12.40" height="4.30" fill="#4f55a5"/>
<rect x="176.73" y="639.89" width="12.40" height="4.30" fill="#459eb4"/>
<rect x="256.35" y="639.89" width="12.40" height="4.30" fill="#459eb4"/>
<rect x="269.62" y="639.89" width="12.40" height="4.30" fill="#459eb4"/>
<rect x="375.78" y="639.89" width="12.40" height="4.30" fill="#60bba8"/>
<rect x="97.11" y="644.82" width="12.40" height="4.30" fill="#51459e"/>
<rect x="110.38" y="644.82" width="12.40" height="4.30" fill="#51459e"/>
<rect x="123.65" y="644.82" width="12.40" height="4.30" fill="#51459e"/>
<rect x="136.92" y="644.82" width="12.40" height="4.30" fill="#4f55a5"/>
<rect x="150.19" y="644.82" width="12.40" height="4.30" fill="#4f55a5"/>
<rect x="163.46" y="644.82" width="12.40" height="4.30" fill="#4f55a5"/>
<rect x="203.27" y="644.82" width="12.40" height="4.30" fill="#4f55a5"/>
<rect x="216.54" y="644.82" width="12.40" height="4.30" fill="#4f55a5"/>
<rect x="229.81" y="644.82" width="12.40" height="4.30" fill="#4f55a5"/>
<rect x="243.08" y="644.82" width="12.40" height="4.30" fill="#4f55a5"/>
<rect x="282.89" y="644.82" width="12.40" height="4.30" fill="#4f55a5"/>
<rect x="296.16" y="644.82" width="12.40" height="4.30" fill="#4f55a5"/>
<rect x="309.43" y="644.82" width="12.40" height="4.30" fill="#4f55a5"/>
<rect x="322.70" y="644.82" width="12.40" height="4.30" fill="#4f55a5"/>
<rect x="335.97" y="644.82" width="12.40" height="4.30" fill="#4f55a5"/>
<rect x="349.24" y="644.82" width="12.40" height="4.30" fill="#4f55a5"/>
<rect x="362.51" y="644.82" width="12.40" height="4.30" fill="#4f55a5"/>
<rect x="256.35" y="644.82" width="12.40" height="4.30" fill="#3b92b9"/>
<rect x="269.62" y="644.82" width="12.40" height="4.30" fill="#3b7cb7"/>
<rect x="375.78" y="644.82" width="12.40" height="4.30" fill="#56b0ad"/>
<rect x="70.57" y="649.75" width="12.40" height="4.30" fill="#51459e"/>
<rect x="123.65" y="649.75" width="12.40" height="4.30" fill="#51459e"/>
<rect x="97.11" y="649.75" width="12.40" height="4.30" fill="#4f55a5"/>
<rect x="136.92" y="649.75" width="12.40" height="4.30" fill="#4f55a5"/>
<rect x="163.46" y="649.75" width="12.40" height="4.30" fill="#4f55a5"/>
<rect x="176.73" y="649.75" width="12.40" height="4.30" fill="#4f55a5"/>
<rect x="203.27" y="649.75" width="12.40" height="4.30" fill="#4f55a5"/>
<rect x="229.81" y="649.75" width="12.40" height="4.30" fill="#4f55a5"/>
<rect x="243.08" y="649.75" width="12.40" height="4.30" fill="#4f55a5"/>
<rect x="269.62" y="649.75" width="12.40" height="4.30" fill="#4f55a5"/>
<rect x="282.89" y="649.75" width="12.40" height="4.30" fill="#4f55a5"/>
<rect x="296.16" y="649.75" width="12.40" height="4.30" fill="#4f55a5"/>
<rect x="309.43" y="649.75" width="12.40" height="4.30" fill="#4f55a5"/>
<rect x="322.70" y="649.75" width="12.40" height="4.30" fill="#4f55a5"/>
<rect x="349.24" y="649.75" width="12.40" height="4.30" fill="#4f55a5"/>
<rect x="362.51" y="649.75" width="12.40" height="4.30" fill="#4f55a5"/>
<rect x="216.54" y="649.75" width="12.40" height="4.30" fill="#3b7cb7"/>
<rect x="256.35" y="649.75" width="12.40" height="4.30" fill="#3b7cb7"/>
<rect x="375.78" y="649.75" width="12.40" height="4.30" fill="#459eb4"/>
<rect x="57.30" y="654.67" width="12.40" height="4.30" fill="#4d5ba8"/>
<rect x="83.84" y="654.67" width="12.40" height="4.30" fill="#4d5ba8"/>
<rect x="97.11" y="654.67" width="12.40" height="4.30" fill="#4d5ba8"/>
<rect x="110.38" y="654.67" width="12.40" height="4.30" fill="#3b7cb7"/>
<rect x="123.65" y="654.67" width="12.40" height="4.30" fill="#504ca1"/>
<rect x="136.92" y="654.67" width="12.40" height="4.30" fill="#4d5ba8"/>
<rect x="150.19" y="654.67" width="12.40" height="4.30" fill="#4d5ba8"/>
<rect x="163.46" y="654.67" width="12.40" height="4.30" fill="#4d5ba8"/>
<rect x="176.73" y="654.67" width="12.40" height="4.30" fill="#3b7cb7"/>
<rect x="190.00" y="654.67" width="12.40" height="4.30" fill="#4471b2"/>
<rect x="203.27" y="654.67" width="12.40" height="4.30" fill="#3b7cb7"/>
<rect x="216.54" y="654.67" width="12.40" height="4.30" fill="#3b7cb7"/>
<rect x="229.81" y="654.67" width="12.40" height="4.30" fill="#3b7cb7"/>
<rect x="243.08" y="654.67" width="12.40" height="4.30" fill="#4471b2"/>
<rect x="256.35" y="654.67" width="12.40" height="4.30" fill="#459eb4"/>
<rect x="269.62" y="654.67" width="12.40" height="4.30" fill="#3b7cb7"/>
<rect x="282.89" y="654.67" width="12.40" height="4.30" fill="#4d5ba8"/>
<rect x="309.43" y="654.67" width="12.40" height="4.30" fill="#4d5ba8"/>
<rect x="322.70" y="654.67" width="12.40" height="4.30" fill="#4d5ba8"/>
<rect x="335.97" y="654.67" width="12.40" height="4.30" fill="#4d5ba8"/>
<rect x="362.51" y="654.67" width="12.40" height="4.30" fill="#4471b2"/>
<rect x="375.78" y="654.67" width="12.40" height="4.30" fill="#3387bc"/>
<rect x="83.84" y="659.60" width="12.40" height="4.30" fill="#3b7cb7"/>
<rect x="97.11" y="659.60" width="12.40" height="4.30" fill="#4471b2"/>
<rect x="110.38" y="659.60" width="12.40" height="4.30" fill="#3b7cb7"/>
<rect x="123.65" y="659.60" width="12.40" height="4.30" fill="#4471b2"/>
<rect x="136.92" y="659.60" width="12.40" height="4.30" fill="#4d5ba8"/>
<rect x="150.19" y="659.60" width="12.40" height="4.30" fill="#504ca1"/>
<rect x="176.73" y="659.60" width="12.40" height="4.30" fill="#4d5ba8"/>
<rect x="190.00" y="659.60" width="12.40" height="4.30" fill="#3b7cb7"/>
<rect x="203.27" y="659.60" width="12.40" height="4.30" fill="#3b7cb7"/>
<rect x="216.54" y="659.60" width="12.40" height="4.30" fill="#3b7cb7"/>
<rect x="229.81" y="659.60" width="12.40" height="4.30" fill="#3b7cb7"/>
<rect x="243.08" y="659.60" width="12.40" height="4.30" fill="#3b7cb7"/>
<rect x="256.35" y="659.60" width="12.40" height="4.30" fill="#459eb4"/>
<rect x="269.62" y="659.60" width="12.40" height="4.30" fill="#3b7cb7"/>
<rect x="282.89" y="659.60" width="12.40" height="4.30" fill="#4471b2"/>
<rect x="309.43" y="659.60" width="12.40" height="4.30" fill="#4d5ba8"/>
<rect x="322.70" y="659.60" width="12.40" height="4.30" fill="#4d5ba8"/>
<rect x="335.97" y="659.60" width="12.40" height="4.30" fill="#4471b2"/>
<rect x="349.24" y="659.60" width="12.40" height="4.30" fill="#3b7cb7"/>
<rect x="362.51" y="659.60" width="12.40" height="4.30" fill="#4471b2"/>
<rect x="375.78" y="659.60" width="12.40" height="4.30" fill="#459eb4"/>
<rect x="70.57" y="664.53" width="12.40" height="4.30" fill="#504ca1"/>
<rect x="83.84" y="664.53" width="12.40" height="4.30" fill="#4471b2"/>
<rect x="97.11" y="664.53" width="12.40" height="4.30" fill="#3387bc"/>
<rect x="110.38" y="664.53" width="12.40" height="4.30" fill="#459eb4"/>
<rect x="123.65" y="664.53" width="12.40" height="4.30" fill="#3387bc"/>
<rect x="136.92" y="664.53" width="12.40" height="4.30" fill="#3387bc"/>
<rect x="150.19" y="664.53" width="12.40" height="4.30" fill="#4471b2"/>
<rect x="163.46" y="664.53" width="12.40" height="4.30" fill="#3387bc"/>
<rect x="176.73" y="664.53" width="12.40" height="4.30" fill="#459eb4"/>
<rect x="190.00" y="664.53" width="12.40" height="4.30" fill="#3387bc"/>
<rect x="203.27" y="664.53" width="12.40" height="4.30" fill="#4d5ba8"/>
<rect x="216.54" y="664.53" width="12.40" height="4.30" fill="#4d5ba8"/>
<rect x="229.81" y="664.53" width="12.40" height="4.30" fill="#3b7cb7"/>
<rect x="243.08" y="664.53" width="12.40" height="4.30" fill="#3387bc"/>
<rect x="256.35" y="664.53" width="12.40" height="4.30" fill="#3387bc"/>
<rect x="269.62" y="664.53" width="12.40" height="4.30" fill="#3387bc"/>
<rect x="282.89" y="664.53" width="12.40" height="4.30" fill="#4d5ba8"/>
<rect x="296.16" y="664.53" width="12.40" height="4.30" fill="#4471b2"/>
<rect x="309.43" y="664.53" width="12.40" height="4.30" fill="#4471b2"/>
<rect x="322.70" y="664.53" width="12.40" height="4.30" fill="#504ca1"/>
<rect x="335.97" y="664.53" width="12.40" height="4.30" fill="#3387bc"/>
<rect x="349.24" y="664.53" width="12.40" height="4.30" fill="#50a9af"/>
<rect x="362.51" y="664.53" width="12.40" height="4.30" fill="#3b7cb7"/>
<rect x="375.78" y="664.53" width="12.40" height="4.30" fill="#74c7a5"/>
<rect x="70.57" y="669.46" width="12.40" height="4.30" fill="#4471b2"/>
<rect x="83.84" y="669.46" width="12.40" height="4.30" fill="#3387bc"/>
<rect x="97.11" y="669.46" width="12.40" height="4.30" fill="#3387bc"/>
<rect x="110.38" y="669.46" width="12.40" height="4.30" fill="#74c7a5"/>
<rect x="123.65" y="669.46" width="12.40" height="4.30" fill="#459eb4"/>
<rect x="136.92" y="669.46" width="12.40" height="4.30" fill="#3387bc"/>
<rect x="150.19" y="669.46" width="12.40" height="4.30" fill="#3387bc"/>
<rect x="163.46" y="669.46" width="12.40" height="4.30" fill="#3b7cb7"/>
<rect x="176.73" y="669.46" width="12.40" height="4.30" fill="#3387bc"/>
<rect x="190.00" y="669.46" width="12.40" height="4.30" fill="#66c2a5"/>
<rect x="203.27" y="669.46" width="12.40" height="4.30" fill="#3387bc"/>
<rect x="216.54" y="669.46" width="12.40" height="4.30" fill="#5cb7aa"/>
<rect x="229.81" y="669.46" width="12.40" height="4.30" fill="#4d5ba8"/>
<rect x="243.08" y="669.46" width="12.40" height="4.30" fill="#3387bc"/>
<rect x="256.35" y="669.46" width="12.40" height="4.30" fill="#3387bc"/>
<rect x="269.62" y="669.46" width="12.40" height="4.30" fill="#3b92b9"/>
<rect x="282.89" y="669.46" width="12.40" height="4.30" fill="#4471b2"/>
<rect x="296.16" y="669.46" width="12.40" height="4.30" fill="#4471b2"/>
<rect x="309.43" y="669.46" width="12.40" height="4.30" fill="#504ca1"/>
<rect x="322.70" y="669.46" width="12.40" height="4.30" fill="#504ca1"/>
<rect x="349.24" y="669.46" width="12.40" height="4.30" fill="#504ca1"/>
<rect x="375.78" y="669.46" width="12.40" height="4.30" fill="#3387bc"/>
<rect x="57.30" y="674.39" width="12.40" height="4.30" fill="#504ca1"/>
<rect x="70.57" y="674.39" width="12.40" height="4.30" fill="#3b7cb7"/>
<rect x="83.84" y="674.39" width="12.40" height="4.30" fill="#459eb4"/>
<rect x="97.11" y="674.39" width="12.40" height="4.30" fill="#74c7a5"/>
<rect x="110.38" y="674.39" width="12.40" height="4.30" fill="#3387bc"/>
<rect x="123.65" y="674.39" width="12.40" height="4.30" fill="#4471b2"/>
<rect x="136.92" y="674.39" width="12.40" height="4.30" fill="#9cd7a4"/>
<rect x="150.19" y="674.39" width="12.40" height="4.30" fill="#74c7a5"/>
<rect x="163.46" y="674.39" width="12.40" height="4.30" fill="#3387bc"/>
<rect x="176.73" y="674.39" width="12.40" height="4.30" fill="#74c7a5"/>
<rect x="190.00" y="674.39" width="12.40" height="4.30" fill="#3387bc"/>
<rect x="203.27" y="674.39" width="12.40" height="4.30" fill="#459eb4"/>
<rect x="216.54" y="674.39" width="12.40" height="4.30" fill="#3387bc"/>
<rect x="229.81" y="674.39" width="12.40" height="4.30" fill="#4d5ba8"/>
<rect x="243.08" y="674.39" width="12.40" height="4.30" fill="#3b92b9"/>
<rect x="256.35" y="674.39" width="12.40" height="4.30" fill="#3387bc"/>
<rect x="269.62" y="674.39" width="12.40" height="4.30" fill="#3387bc"/>
<rect x="282.89" y="674.39" width="12.40" height="4.30" fill="#3b92b9"/>
<rect x="296.16" y="674.39" width="12.40" height="4.30" fill="#3387bc"/>
<rect x="309.43" y="674.39" width="12.40" height="4.30" fill="#504ca1"/>
<rect x="322.70" y="674.39" width="12.40" height="4.30" fill="#504ca1"/>
<rect x="335.97" y="674.39" width="12.40" height="4.30" fill="#4d5ba8"/>
<rect x="349.24" y="674.39" width="12.40" height="4.30" fill="#504ca1"/>
<rect x="362.51" y="674.39" width="12.40" height="4.30" fill="#4471b2"/>
<rect x="375.78" y="674.39" width="12.40" height="4.30" fill="#5cb7aa"/>
<rect x="57.30" y="679.31" width="12.40" height="4.30" fill="#3b7cb7"/>
<rect x="70.57" y="679.31" width="12.40" height="4.30" fill="#459eb4"/>
<rect x="83.84" y="679.31" width="12.40" height="4.30" fill="#3b92b9"/>
<rect x="97.11" y="679.31" width="12.40" height="4.30" fill="#74c7a5"/>
<rect x="110.38" y="679.31" width="12.40" height="4.30" fill="#9cd7a4"/>
<rect x="123.65" y="679.31" width="12.40" height="4.30" fill="#4471b2"/>
<rect x="136.92" y="679.31" width="12.40" height="4.30" fill="#81cda5"/>
<rect x="150.19" y="679.31" width="12.40" height="4.30" fill="#aadca4"/>
<rect x="163.46" y="679.31" width="12.40" height="4.30" fill="#81cda5"/>
<rect x="176.73" y="679.31" width="12.40" height="4.30" fill="#81cda5"/>
<rect x="190.00" y="679.31" width="12.40" height="4.30" fill="#81cda5"/>
<rect x="203.27" y="679.31" width="12.40" height="4.30" fill="#3387bc"/>
<rect x="216.54" y="679.31" width="12.40" height="4.30" fill="#8fd2a4"/>
<rect x="229.81" y="679.31" width="12.40" height="4.30" fill="#50a9af"/>
<rect x="243.08" y="679.31" width="12.40" height="4.30" fill="#3387bc"/>
<rect x="256.35" y="679.31" width="12.40" height="4.30" fill="#50a9af"/>
<rect x="269.62" y="679.31" width="12.40" height="4.30" fill="#4471b2"/>
<rect x="282.89" y="679.31" width="12.40" height="4.30" fill="#3b7cb7"/>
<rect x="296.16" y="679.31" width="12.40" height="4.30" fill="#3387bc"/>
<rect x="309.43" y="679.31" width="12.40" height="4.30" fill="#4471b2"/>
<rect x="322.70" y="679.31" width="12.40" height="4.30" fill="#4471b2"/>
<rect x="335.97" y="679.31" width="12.40" height="4.30" fill="#3387bc"/>
<rect x="349.24" y="679.31" width="12.40" height="4.30" fill="#504ca1"/>
<rect x="362.51" y="679.31" width="12.40" height="4.30" fill="#3b7cb7"/>
<rect x="375.78" y="679.31" width="12.40" height="4.30" fill="#3387bc"/>
<rect x="57.30" y="684.24" width="12.40" height="4.30" fill="#4471b2"/>
<rect x="70.57" y="684.24" width="12.40" height="4.30" fill="#c3e79f"/>
<rect x="83.84" y="684.24" width="12.40" height="4.30" fill="#b5e1a2"/>
<rect x="97.11" y="684.24" width="12.40" height="4.30" fill="#f5fbaf"/>
<rect x="110.38" y="684.24" width="12.40" height="4.30" fill="#b5e1a2"/>
<rect x="123.65" y="684.24" width="12.40" height="4.30" fill="#fafdb7"/>
<rect x="136.92" y="684.24" width="12.40" height="4.30" fill="#cfec9d"/>
<rect x="150.19" y="684.24" width="12.40" height="4.30" fill="#c3e79f"/>
<rect x="163.46" y="684.24" width="12.40" height="4.30" fill="#fffebe"/>
<rect x="176.73" y="684.24" width="12.40" height="4.30" fill="#aadca4"/>
<rect x="190.00" y="684.24" width="12.40" height="4.30" fill="#c3e79f"/>
<rect x="203.27" y="684.24" width="12.40" height="4.30" fill="#504ca1"/>
<rect x="216.54" y="684.24" width="12.40" height="4.30" fill="#504ca1"/>
<rect x="229.81" y="684.24" width="12.40" height="4.30" fill="#50a9af"/>
<rect x="243.08" y="684.24" width="12.40" height="4.30" fill="#3387bc"/>
<rect x="256.35" y="684.24" width="12.40" height="4.30" fill="#74c7a5"/>
<rect x="269.62" y="684.24" width="12.40" height="4.30" fill="#3387bc"/>
<rect x="282.89" y="684.24" width="12.40" height="4.30" fill="#3b92b9"/>
<rect x="296.16" y="684.24" width="12.40" height="4.30" fill="#4471b2"/>
<rect x="309.43" y="684.24" width="12.40" height="4.30" fill="#504ca1"/>
<rect x="335.97" y="684.24" width="12.40" height="4.30" fill="#3387bc"/>
<rect x="362.51" y="684.24" width="12.40" height="4.30" fill="#4d5ba8"/>
<rect x="375.78" y="684.24" width="12.40" height="4.30" fill="#3387bc"/>
<rect x="57.30" y="689.17" width="12.40" height="4.30" fill="#3387bc"/>
<rect x="70.57" y="689.17" width="12.40" height="4.30" fill="#f5fbaf"/>
<rect x="83.84" y="689.17" width="12.40" height="4.30" fill="#fff2aa"/>
<rect x="97.11" y="689.17" width="12.40" height="4.30" fill="#ee6445"/>
<rect x="110.38" y="689.17" width="12.40" height="4.30" fill="#3387bc"/>
<rect x="123.65" y="689.17" width="12.40" height="4.30" fill="#f99355"/>
<rect x="136.92" y="689.17" width="12.40" height="4.30" fill="#4471b2"/>
<rect x="150.19" y="689.17" width="12.40" height="4.30" fill="#feec9f"/>
<rect x="163.46" y="689.17" width="12.40" height="4.30" fill="#feec9f"/>
<rect x="176.73" y="689.17" width="12.40" height="4.30" fill="#fecc7b"/>
<rect x="190.00" y="689.17" width="12.40" height="4.30" fill="#cfec9d"/>
<rect x="203.27" y="689.17" width="12.40" height="4.30" fill="#c3e79f"/>
<rect x="216.54" y="689.17" width="12.40" height="4.30" fill="#504ca1"/>
<rect x="229.81" y="689.17" width="12.40" height="4.30" fill="#50a9af"/>
<rect x="243.08" y="689.17" width="12.40" height="4.30" fill="#3387bc"/>
<rect x="256.35" y="689.17" width="12.40" height="4.30" fill="#459eb4"/>
<rect x="269.62" y="689.17" width="12.40" height="4.30" fill="#459eb4"/>
<rect x="282.89" y="689.17" width="12.40" height="4.30" fill="#504ca1"/>
<rect x="296.16" y="689.17" width="12.40" height="4.30" fill="#3387bc"/>
<rect x="322.70" y="689.17" width="12.40" height="4.30" fill="#504ca1"/>
<rect x="335.97" y="689.17" width="12.40" height="4.30" fill="#4d5ba8"/>
<rect x="349.24" y="689.17" width="12.40" height="4.30" fill="#504ca1"/>
<rect x="375.78" y="689.17" width="12.40" height="4.30" fill="#4d5ba8"/>
<rect x="57.30" y="694.10" width="12.40" height="4.30" fill="#9cd7a4"/>
<rect x="70.57" y="694.10" width="12.40" height="4.30" fill="#f99355"/>
<rect x="83.84" y="694.10" width="12.40" height="4.30" fill="#a8164b"/>
<rect x="97.11" y="694.10" width="12.40" height="4.30" fill="#a8164b"/>
<rect x="110.38" y="694.10" width="12.40" height="4.30" fill="#a8164b"/>
<rect x="123.65" y="694.10" width="12.40" height="4.30" fill="#a8164b"/>
<rect x="136.92" y="694.10" width="12.40" height="4.30" fill="#a8164b"/>
<rect x="150.19" y="694.10" width="12.40" height="4.30" fill="#fff2aa"/>
<rect x="163.46" y="694.10" width="12.40" height="4.30" fill="#c9314c"/>
<rect x="176.73" y="694.10" width="12.40" height="4.30" fill="#fdc372"/>
<rect x="190.00" y="694.10" width="12.40" height="4.30" fill="#b5e1a2"/>
<rect x="203.27" y="694.10" width="12.40" height="4.30" fill="#daf09a"/>
<rect x="216.54" y="694.10" width="12.40" height="4.30" fill="#4471b2"/>
<rect x="229.81" y="694.10" width="12.40" height="4.30" fill="#74c7a5"/>
<rect x="243.08" y="694.10" width="12.40" height="4.30" fill="#504ca1"/>
<rect x="256.35" y="694.10" width="12.40" height="4.30" fill="#459eb4"/>
<rect x="269.62" y="694.10" width="12.40" height="4.30" fill="#3b7cb7"/>
<rect x="282.89" y="694.10" width="12.40" height="4.30" fill="#4d5ba8"/>
<rect x="296.16" y="694.10" width="12.40" height="4.30" fill="#504ca1"/>
<rect x="309.43" y="694.10" width="12.40" height="4.30" fill="#4d5ba8"/>
<rect x="335.97" y="694.10" width="12.40" height="4.30" fill="#504ca1"/>
<rect x="362.51" y="694.10" width="12.40" height="4.30" fill="#504ca1"/>
<rect x="375.78" y="694.10" width="12.40" height="4.30" fill="#504ca1"/>
<rect x="57.30" y="699.03" width="12.40" height="4.30" fill="#a8164b"/>
<rect x="70.57" y="699.03" width="12.40" height="4.30" fill="#a8164b"/>
<rect x="83.84" y="699.03" width="12.40" height="4.30" fill="#a8164b"/>
<rect x="97.11" y="699.03" width="12.40" height="4.30" fill="#a8164b"/>
<rect x="110.38" y="699.03" width="12.40" height="4.30" fill="#a8164b"/>
<rect x="123.65" y="699.03" width="12.40" height="4.30" fill="#a8164b"/>
<rect x="136.92" y="699.03" width="12.40" height="4.30" fill="#a8164b"/>
<rect x="150.19" y="699.03" width="12.40" height="4.30" fill="#3387bc"/>
<rect x="163.46" y="699.03" width="12.40" height="4.30" fill="#fdc372"/>
<rect x="176.73" y="699.03" width="12.40" height="4.30" fill="#4d5ba8"/>
<rect x="190.00" y="699.03" width="12.40" height="4.30" fill="#ebf7a0"/>
<rect x="203.27" y="699.03" width="12.40" height="4.30" fill="#f0f9a7"/>
<rect x="216.54" y="699.03" width="12.40" height="4.30" fill="#3387bc"/>
<rect x="229.81" y="699.03" width="12.40" height="4.30" fill="#3387bc"/>
<rect x="243.08" y="699.03" width="12.40" height="4.30" fill="#3387bc"/>
<rect x="256.35" y="699.03" width="12.40" height="4.30" fill="#3387bc"/>
<rect x="269.62" y="699.03" width="12.40" height="4.30" fill="#3387bc"/>
<rect x="282.89" y="699.03" width="12.40" height="4.30" fill="#3387bc"/>
<rect x="296.16" y="699.03" width="12.40" height="4.30" fill="#504ca1"/>
<rect x="322.70" y="699.03" width="12.40" height="4.30" fill="#4d5ba8"/>
<rect x="335.97" y="699.03" width="12.40" height="4.30" fill="#4d5ba8"/>
<rect x="362.51" y="699.03" width="12.40" height="4.30" fill="#504ca1"/>
<rect x="57.30" y="703.95" width="12.40" height="4.30" fill="#a8164b"/>
<rect x="70.57" y="703.95" width="12.40" height="4.30" fill="#a8164b"/>
<rect x="83.84" y="703.95" width="12.40" height="4.30" fill="#a8164b"/>
<rect x="97.11" y="703.95" width="12.40" height="4.30" fill="#a8164b"/>
<rect x="110.38" y="703.95" width="12.40" height="4.30" fill="#aadca4"/>
<rect x="123.65" y="703.95" width="12.40" height="4.30" fill="#3b92b9"/>
<rect x="136.92" y="703.95" width="12.40" height="4.30" fill="#a8164b"/>
<rect x="150.19" y="703.95" width="12.40" height="4.30" fill="#fba05b"/>
<rect x="163.46" y="703.95" width="12.40" height="4.30" fill="#fed683"/>
<rect x="176.73" y="703.95" width="12.40" height="4.30" fill="#feec9f"/>
<rect x="190.00" y="703.95" width="12.40" height="4.30" fill="#cfec9d"/>
<rect x="203.27" y="703.95" width="12.40" height="4.30" fill="#66c2a5"/>
<rect x="216.54" y="703.95" width="12.40" height="4.30" fill="#504ca1"/>
<rect x="229.81" y="703.95" width="12.40" height="4.30" fill="#3387bc"/>
<rect x="243.08" y="703.95" width="12.40" height="4.30" fill="#3b92b9"/>
<rect x="256.35" y="703.95" width="12.40" height="4.30" fill="#3387bc"/>
<rect x="269.62" y="703.95" width="12.40" height="4.30" fill="#4d5ba8"/>
<rect x="296.16" y="703.95" width="12.40" height="4.30" fill="#504ca1"/>
<rect x="309.43" y="703.95" width="12.40" height="4.30" fill="#504ca1"/>
<rect x="322.70" y="703.95" width="12.40" height="4.30" fill="#504ca1"/>
<rect x="375.78" y="703.95" width="12.40" height="4.30" fill="#504ca1"/>
<rect x="57.30" y="708.88" width="12.40" height="4.30" fill="#a8164b"/>
<rect x="70.57" y="708.88" width="12.40" height="4.30" fill="#a8164b"/>
<rect x="83.84" y="708.88" width="12.40" height="4.30" fill="#a8164b"/>
<rect x="97.11" y="708.88" width="12.40" height="4.30" fill="#a8164b"/>
<rect x="110.38" y="708.88" width="12.40" height="4.30" fill="#a8164b"/>
<rect x="123.65" y="708.88" width="12.40" height="4.30" fill="#a8164b"/>
<rect x="136.92" y="708.88" width="12.40" height="4.30" fill="#a8164b"/>
<rect x="150.19" y="708.88" width="12.40" height="4.30" fill="#e1504b"/>
<rect x="163.46" y="708.88" width="12.40" height="4.30" fill="#f5fbaf"/>
<rect x="176.73" y="708.88" width="12.40" height="4.30" fill="#f0f9a7"/>
<rect x="190.00" y="708.88" width="12.40" height="4.30" fill="#66c2a5"/>
<rect x="203.27" y="708.88" width="12.40" height="4.30" fill="#3387bc"/>
<rect x="216.54" y="708.88" width="12.40" height="4.30" fill="#4d5ba8"/>
<rect x="229.81" y="708.88" width="12.40" height="4.30" fill="#3b7cb7"/>
<rect x="243.08" y="708.88" width="12.40" height="4.30" fill="#3387bc"/>
<rect x="256.35" y="708.88" width="12.40" height="4.30" fill="#3387bc"/>
<rect x="282.89" y="708.88" width="12.40" height="4.30" fill="#504ca1"/>
<rect x="57.30" y="713.81" width="12.40" height="4.30" fill="#a8164b"/>
<rect x="70.57" y="713.81" width="12.40" height="4.30" fill="#a8164b"/>
<rect x="83.84" y="713.81" width="12.40" height="4.30" fill="#a8164b"/>
<rect x="97.11" y="713.81" width="12.40" height="4.30" fill="#a8164b"/>
<rect x="110.38" y="713.81" width="12.40" height="4.30" fill="#a8164b"/>
<rect x="123.65" y="713.81" width="12.40" height="4.30" fill="#a8164b"/>
<rect x="136.92" y="713.81" width="12.40" height="4.30" fill="#3b7cb7"/>
<rect x="150.19" y="713.81" width="12.40" height="4.30" fill="#f5fbaf"/>
<rect x="163.46" y="713.81" width="12.40" height="4.30" fill="#66c2a5"/>
<rect x="176.73" y="713.81" width="12.40" height="4.30" fill="#3387bc"/>
<rect x="190.00" y="713.81" width="12.40" height="4.30" fill="#3387bc"/>
<rect x="203.27" y="713.81" width="12.40" height="4.30" fill="#3387bc"/>
<rect x="216.54" y="713.81" width="12.40" height="4.30" fill="#504ca1"/>
<rect x="229.81" y="713.81" width="12.40" height="4.30" fill="#504ca1"/>
<rect x="243.08" y="713.81" width="12.40" height="4.30" fill="#504ca1"/>
<rect x="256.35" y="713.81" width="12.40" height="4.30" fill="#504ca1"/>
<rect x="269.62" y="713.81" width="12.40" height="4.30" fill="#504ca1"/>
<rect x="282.89" y="713.81" width="12.40" height="4.30" fill="#504ca1"/>
<rect x="296.16" y="713.81" width="12.40" height="4.30" fill="#504ca1"/>
<text x="381.98" y="495.95" font-size="4.9" text-anchor="middle" fill="#e8e8f8">1</text>
<text x="381.98" y="500.88" font-size="4.9" text-anchor="middle" fill="#e8e8f8">1</text>
<text x="381.98" y="505.81" font-size="4.9" text-anchor="middle" fill="#e8e8f8">1</text>
<text x="381.98" y="510.73" font-size="4.9" text-anchor="middle" fill="#e8e8f8">3</text>
<text x="381.98" y="515.66" font-size="4.9" text-anchor="middle" fill="#e8e8f8">1</text>
<text x="381.98" y="520.59" font-size="4.9" text-anchor="middle" fill="#e8e8f8">1</text>
<text x="381.98" y="525.52" font-size="4.9" text-anchor="middle" fill="#e8e8f8">3</text>
<text x="381.98" y="530.45" font-size="4.9" text-anchor="middle" fill="#e8e8f8">3</text>
<text x="381.98" y="535.37" font-size="4.9" text-anchor="middle" fill="#e8e8f8">1</text>
<text x="381.98" y="545.23" font-size="4.9" text-anchor="middle" fill="#e8e8f8">3</text>
<text x="381.98" y="550.16" font-size="4.9" text-anchor="middle" fill="#e8e8f8">3</text>
<text x="381.98" y="555.09" font-size="4.9" text-anchor="middle" fill="#e8e8f8">3</text>
<text x="381.98" y="560.01" font-size="4.9" text-anchor="middle" fill="#e8e8f8">1</text>
<text x="381.98" y="569.87" font-size="4.9" text-anchor="middle" fill="#e8e8f8">3</text>
<text x="355.44" y="540.30" font-size="4.9" text-anchor="middle" fill="#e8e8f8">1</text>
<text x="328.90" y="564.94" font-size="4.9" text-anchor="middle" fill="#e8e8f8">1</text>
<text x="90.04" y="574.80" font-size="4.9" text-anchor="middle" fill="#e8e8f8">1</text>
<text x="182.93" y="579.73" font-size="4.9" text-anchor="middle" fill="#e8e8f8">1</text>
<text x="275.82" y="579.73" font-size="4.9" text-anchor="middle" fill="#e8e8f8">1</text>
<text x="315.63" y="579.73" font-size="4.9" text-anchor="middle" fill="#e8e8f8">1</text>
<text x="342.17" y="579.73" font-size="4.9" text-anchor="middle" fill="#e8e8f8">1</text>
<text x="381.98" y="579.73" font-size="4.9" text-anchor="middle" fill="#e8e8f8">1</text>
<text x="90.04" y="584.65" font-size="4.9" text-anchor="middle" fill="#e8e8f8">1</text>
<text x="196.20" y="584.65" font-size="4.9" text-anchor="middle" fill="#e8e8f8">1</text>
<text x="342.17" y="584.65" font-size="4.9" text-anchor="middle" fill="#e8e8f8">1</text>
<text x="289.09" y="589.58" font-size="4.9" text-anchor="middle" fill="#e8e8f8">1</text>
<text x="381.98" y="589.58" font-size="4.9" text-anchor="middle" fill="#e8e8f8">4</text>
<text x="143.12" y="594.51" font-size="4.9" text-anchor="middle" fill="#e8e8f8">1</text>
<text x="209.47" y="594.51" font-size="4.9" text-anchor="middle" fill="#e8e8f8">1</text>
<text x="289.09" y="594.51" font-size="4.9" text-anchor="middle" fill="#e8e8f8">1</text>
<text x="315.63" y="594.51" font-size="4.9" text-anchor="middle" fill="#e8e8f8">1</text>
<text x="381.98" y="594.51" font-size="4.9" text-anchor="middle" fill="#e8e8f8">6</text>
<text x="169.66" y="599.44" font-size="4.9" text-anchor="middle" fill="#e8e8f8">1</text>
<text x="302.36" y="599.44" font-size="4.9" text-anchor="middle" fill="#e8e8f8">1</text>
<text x="368.71" y="599.44" font-size="4.9" text-anchor="middle" fill="#e8e8f8">1</text>
<text x="381.98" y="599.44" font-size="4.9" text-anchor="middle" fill="#e8e8f8">5</text>
<text x="90.04" y="604.37" font-size="4.9" text-anchor="middle" fill="#e8e8f8">1</text>
<text x="103.31" y="604.37" font-size="4.9" text-anchor="middle" fill="#e8e8f8">1</text>
<text x="143.12" y="604.37" font-size="4.9" text-anchor="middle" fill="#e8e8f8">1</text>
<text x="275.82" y="604.37" font-size="4.9" text-anchor="middle" fill="#e8e8f8">1</text>
<text x="328.90" y="604.37" font-size="4.9" text-anchor="middle" fill="#e8e8f8">1</text>
<text x="342.17" y="604.37" font-size="4.9" text-anchor="middle" fill="#e8e8f8">1</text>
<text x="368.71" y="604.37" font-size="4.9" text-anchor="middle" fill="#e8e8f8">1</text>
<text x="381.98" y="604.37" font-size="4.9" text-anchor="middle" fill="#e8e8f8">5</text>
<text x="196.20" y="609.29" font-size="4.9" text-anchor="middle" fill="#e8e8f8">1</text>
<text x="209.47" y="609.29" font-size="4.9" text-anchor="middle" fill="#e8e8f8">1</text>
<text x="262.55" y="609.29" font-size="4.9" text-anchor="middle" fill="#e8e8f8">1</text>
<text x="275.82" y="609.29" font-size="4.9" text-anchor="middle" fill="#e8e8f8">1</text>
<text x="368.71" y="609.29" font-size="4.9" text-anchor="middle" fill="#e8e8f8">1</text>
<text x="381.98" y="609.29" font-size="4.9" text-anchor="middle" fill="#e8e8f8">5</text>
<text x="222.74" y="614.22" font-size="4.9" text-anchor="middle" fill="#e8e8f8">1</text>
<text x="262.55" y="614.22" font-size="4.9" text-anchor="middle" fill="#e8e8f8">1</text>
<text x="342.17" y="614.22" font-size="4.9" text-anchor="middle" fill="#e8e8f8">1</text>
<text x="368.71" y="614.22" font-size="4.9" text-anchor="middle" fill="#e8e8f8">1</text>
<text x="381.98" y="614.22" font-size="4.9" text-anchor="middle" fill="#e8e8f8">8</text>
<text x="143.12" y="619.15" font-size="4.9" text-anchor="middle" fill="#e8e8f8">1</text>
<text x="196.20" y="619.15" font-size="4.9" text-anchor="middle" fill="#e8e8f8">1</text>
<text x="209.47" y="619.15" font-size="4.9" text-anchor="middle" fill="#e8e8f8">1</text>
<text x="249.28" y="619.15" font-size="4.9" text-anchor="middle" fill="#e8e8f8">1</text>
<text x="262.55" y="619.15" font-size="4.9" text-anchor="middle" fill="#e8e8f8">1</text>
<text x="275.82" y="619.15" font-size="4.9" text-anchor="middle" fill="#e8e8f8">1</text>
<text x="289.09" y="619.15" font-size="4.9" text-anchor="middle" fill="#e8e8f8">1</text>
<text x="368.71" y="619.15" font-size="4.9" text-anchor="middle" fill="#e8e8f8">1</text>
<text x="381.98" y="619.15" font-size="4.9" text-anchor="middle" fill="#e8e8f8">8</text>
<text x="129.85" y="624.08" font-size="4.9" text-anchor="middle" fill="#e8e8f8">1</text>
<text x="182.93" y="624.08" font-size="4.9" text-anchor="middle" fill="#e8e8f8">1</text>
<text x="196.20" y="624.08" font-size="4.9" text-anchor="middle" fill="#e8e8f8">1</text>
<text x="209.47" y="624.08" font-size="4.9" text-anchor="middle" fill="#e8e8f8">1</text>
<text x="289.09" y="624.08" font-size="4.9" text-anchor="middle" fill="#e8e8f8">1</text>
<text x="342.17" y="624.08" font-size="4.9" text-anchor="middle" fill="#e8e8f8">1</text>
<text x="355.44" y="624.08" font-size="4.9" text-anchor="middle" fill="#e8e8f8">1</text>
<text x="368.71" y="624.08" font-size="4.9" text-anchor="middle" fill="#e8e8f8">1</text>
<text x="381.98" y="624.08" font-size="4.9" text-anchor="middle" fill="#333">10</text>
<text x="76.77" y="629.01" font-size="4.9" text-anchor="middle" fill="#e8e8f8">1</text>
<text x="209.47" y="629.01" font-size="4.9" text-anchor="middle" fill="#e8e8f8">1</text>
<text x="222.74" y="629.01" font-size="4.9" text-anchor="middle" fill="#e8e8f8">1</text>
<text x="236.01" y="629.01" font-size="4.9" text-anchor="middle" fill="#e8e8f8">1</text>
<text x="262.55" y="629.01" font-size="4.9" text-anchor="middle" fill="#e8e8f8">1</text>
<text x="302.36" y="629.01" font-size="4.9" text-anchor="middle" fill="#e8e8f8">1</text>
<text x="315.63" y="629.01" font-size="4.9" text-anchor="middle" fill="#e8e8f8">1</text>
<text x="275.82" y="629.01" font-size="4.9" text-anchor="middle" fill="#e8e8f8">3</text>
<text x="289.09" y="629.01" font-size="4.9" text-anchor="middle" fill="#e8e8f8">3</text>
<text x="381.98" y="629.01" font-size="4.9" text-anchor="middle" fill="#333">10</text>
<text x="76.77" y="633.93" font-size="4.9" text-anchor="middle" fill="#e8e8f8">1</text>
<text x="90.04" y="633.93" font-size="4.9" text-anchor="middle" fill="#e8e8f8">1</text>
<text x="116.58" y="633.93" font-size="4.9" text-anchor="middle" fill="#e8e8f8">1</text>
<text x="143.12" y="633.93" font-size="4.9" text-anchor="middle" fill="#e8e8f8">1</text>
<text x="156.39" y="633.93" font-size="4.9" text-anchor="middle" fill="#e8e8f8">1</text>
<text x="182.93" y="633.93" font-size="4.9" text-anchor="middle" fill="#e8e8f8">1</text>
<text x="196.20" y="633.93" font-size="4.9" text-anchor="middle" fill="#e8e8f8">1</text>
<text x="262.55" y="633.93" font-size="4.9" text-anchor="middle" fill="#e8e8f8">1</text>
<text x="289.09" y="633.93" font-size="4.9" text-anchor="middle" fill="#e8e8f8">1</text>
<text x="302.36" y="633.93" font-size="4.9" text-anchor="middle" fill="#e8e8f8">1</text>
<text x="328.90" y="633.93" font-size="4.9" text-anchor="middle" fill="#e8e8f8">1</text>
<text x="342.17" y="633.93" font-size="4.9" text-anchor="middle" fill="#e8e8f8">1</text>
<text x="222.74" y="633.93" font-size="4.9" text-anchor="middle" fill="#e8e8f8">3</text>
<text x="236.01" y="633.93" font-size="4.9" text-anchor="middle" fill="#e8e8f8">3</text>
<text x="381.98" y="633.93" font-size="4.9" text-anchor="middle" fill="#333">10</text>
<text x="116.58" y="638.86" font-size="4.9" text-anchor="middle" fill="#e8e8f8">1</text>
<text x="143.12" y="638.86" font-size="4.9" text-anchor="middle" fill="#e8e8f8">1</text>
<text x="156.39" y="638.86" font-size="4.9" text-anchor="middle" fill="#e8e8f8">1</text>
<text x="169.66" y="638.86" font-size="4.9" text-anchor="middle" fill="#e8e8f8">1</text>
<text x="182.93" y="638.86" font-size="4.9" text-anchor="middle" fill="#e8e8f8">1</text>
<text x="209.47" y="638.86" font-size="4.9" text-anchor="middle" fill="#e8e8f8">1</text>
<text x="249.28" y="638.86" font-size="4.9" text-anchor="middle" fill="#e8e8f8">1</text>
<text x="289.09" y="638.86" font-size="4.9" text-anchor="middle" fill="#e8e8f8">1</text>
<text x="315.63" y="638.86" font-size="4.9" text-anchor="middle" fill="#e8e8f8">1</text>
<text x="328.90" y="638.86" font-size="4.9" text-anchor="middle" fill="#e8e8f8">1</text>
<text x="368.71" y="638.86" font-size="4.9" text-anchor="middle" fill="#e8e8f8">1</text>
<text x="222.74" y="638.86" font-size="4.9" text-anchor="middle" fill="#e8e8f8">7</text>
<text x="236.01" y="638.86" font-size="4.9" text-anchor="middle" fill="#e8e8f8">7</text>
<text x="262.55" y="638.86" font-size="4.9" text-anchor="middle" fill="#e8e8f8">3</text>
<text x="275.82" y="638.86" font-size="4.9" text-anchor="middle" fill="#e8e8f8">3</text>
<text x="381.98" y="638.86" font-size="4.9" text-anchor="middle" fill="#e8e8f8">8</text>
<text x="103.31" y="643.79" font-size="4.9" text-anchor="middle" fill="#e8e8f8">1</text>
<text x="129.85" y="643.79" font-size="4.9" text-anchor="middle" fill="#e8e8f8">1</text>
<text x="143.12" y="643.79" font-size="4.9" text-anchor="middle" fill="#e8e8f8">1</text>
<text x="302.36" y="643.79" font-size="4.9" text-anchor="middle" fill="#e8e8f8">1</text>
<text x="156.39" y="643.79" font-size="4.9" text-anchor="middle" fill="#e8e8f8">3</text>
<text x="169.66" y="643.79" font-size="4.9" text-anchor="middle" fill="#e8e8f8">3</text>
<text x="209.47" y="643.79" font-size="4.9" text-anchor="middle" fill="#e8e8f8">3</text>
<text x="222.74" y="643.79" font-size="4.9" text-anchor="middle" fill="#e8e8f8">3</text>
<text x="236.01" y="643.79" font-size="4.9" text-anchor="middle" fill="#e8e8f8">3</text>
<text x="249.28" y="643.79" font-size="4.9" text-anchor="middle" fill="#e8e8f8">3</text>
<text x="328.90" y="643.79" font-size="4.9" text-anchor="middle" fill="#e8e8f8">3</text>
<text x="342.17" y="643.79" font-size="4.9" text-anchor="middle" fill="#e8e8f8">3</text>
<text x="182.93" y="643.79" font-size="4.9" text-anchor="middle" fill="#e8e8f8">8</text>
<text x="262.55" y="643.79" font-size="4.9" text-anchor="middle" fill="#e8e8f8">8</text>
<text x="275.82" y="643.79" font-size="4.9" text-anchor="middle" fill="#e8e8f8">8</text>
<text x="381.98" y="643.79" font-size="4.9" text-anchor="middle" fill="#333">10</text>
<text x="103.31" y="648.72" font-size="4.9" text-anchor="middle" fill="#e8e8f8">1</text>
<text x="116.58" y="648.72" font-size="4.9" text-anchor="middle" fill="#e8e8f8">1</text>
<text x="129.85" y="648.72" font-size="4.9" text-anchor="middle" fill="#e8e8f8">1</text>
<text x="143.12" y="648.72" font-size="4.9" text-anchor="middle" fill="#e8e8f8">3</text>
<text x="156.39" y="648.72" font-size="4.9" text-anchor="middle" fill="#e8e8f8">3</text>
<text x="169.66" y="648.72" font-size="4.9" text-anchor="middle" fill="#e8e8f8">3</text>
<text x="209.47" y="648.72" font-size="4.9" text-anchor="middle" fill="#e8e8f8">3</text>
<text x="222.74" y="648.72" font-size="4.9" text-anchor="middle" fill="#e8e8f8">3</text>
<text x="236.01" y="648.72" font-size="4.9" text-anchor="middle" fill="#e8e8f8">3</text>
<text x="249.28" y="648.72" font-size="4.9" text-anchor="middle" fill="#e8e8f8">3</text>
<text x="289.09" y="648.72" font-size="4.9" text-anchor="middle" fill="#e8e8f8">3</text>
<text x="302.36" y="648.72" font-size="4.9" text-anchor="middle" fill="#e8e8f8">3</text>
<text x="315.63" y="648.72" font-size="4.9" text-anchor="middle" fill="#e8e8f8">3</text>
<text x="328.90" y="648.72" font-size="4.9" text-anchor="middle" fill="#e8e8f8">3</text>
<text x="342.17" y="648.72" font-size="4.9" text-anchor="middle" fill="#e8e8f8">3</text>
<text x="355.44" y="648.72" font-size="4.9" text-anchor="middle" fill="#e8e8f8">3</text>
<text x="368.71" y="648.72" font-size="4.9" text-anchor="middle" fill="#e8e8f8">3</text>
<text x="262.55" y="648.72" font-size="4.9" text-anchor="middle" fill="#e8e8f8">7</text>
<text x="275.82" y="648.72" font-size="4.9" text-anchor="middle" fill="#e8e8f8">5</text>
<text x="381.98" y="648.72" font-size="4.9" text-anchor="middle" fill="#333">10</text>
<text x="76.77" y="653.65" font-size="4.9" text-anchor="middle" fill="#e8e8f8">1</text>
<text x="129.85" y="653.65" font-size="4.9" text-anchor="middle" fill="#e8e8f8">1</text>
<text x="103.31" y="653.65" font-size="4.9" text-anchor="middle" fill="#e8e8f8">3</text>
<text x="143.12" y="653.65" font-size="4.9" text-anchor="middle" fill="#e8e8f8">3</text>
<text x="169.66" y="653.65" font-size="4.9" text-anchor="middle" fill="#e8e8f8">3</text>
<text x="182.93" y="653.65" font-size="4.9" text-anchor="middle" fill="#e8e8f8">3</text>
<text x="209.47" y="653.65" font-size="4.9" text-anchor="middle" fill="#e8e8f8">3</text>
<text x="236.01" y="653.65" font-size="4.9" text-anchor="middle" fill="#e8e8f8">3</text>
<text x="249.28" y="653.65" font-size="4.9" text-anchor="middle" fill="#e8e8f8">3</text>
<text x="275.82" y="653.65" font-size="4.9" text-anchor="middle" fill="#e8e8f8">3</text>
<text x="289.09" y="653.65" font-size="4.9" text-anchor="middle" fill="#e8e8f8">3</text>
<text x="302.36" y="653.65" font-size="4.9" text-anchor="middle" fill="#e8e8f8">3</text>
<text x="315.63" y="653.65" font-size="4.9" text-anchor="middle" fill="#e8e8f8">3</text>
<text x="328.90" y="653.65" font-size="4.9" text-anchor="middle" fill="#e8e8f8">3</text>
<text x="355.44" y="653.65" font-size="4.9" text-anchor="middle" fill="#e8e8f8">3</text>
<text x="368.71" y="653.65" font-size="4.9" text-anchor="middle" fill="#e8e8f8">3</text>
<text x="222.74" y="653.65" font-size="4.9" text-anchor="middle" fill="#e8e8f8">5</text>
<text x="262.55" y="653.65" font-size="4.9" text-anchor="middle" fill="#e8e8f8">5</text>
<text x="381.98" y="653.65" font-size="4.9" text-anchor="middle" fill="#e8e8f8">8</text>
<text x="63.50" y="658.57" font-size="4.9" text-anchor="middle" fill="#e8e8f8">3</text>
<text x="90.04" y="658.57" font-size="4.9" text-anchor="middle" fill="#e8e8f8">3</text>
<text x="103.31" y="658.57" font-size="4.9" text-anchor="middle" fill="#e8e8f8">3</text>
<text x="116.58" y="658.57" font-size="4.9" text-anchor="middle" fill="#e8e8f8">5</text>
<text x="129.85" y="658.57" font-size="4.9" text-anchor="middle" fill="#e8e8f8">2</text>
<text x="143.12" y="658.57" font-size="4.9" text-anchor="middle" fill="#e8e8f8">3</text>
<text x="156.39" y="658.57" font-size="4.9" text-anchor="middle" fill="#e8e8f8">3</text>
<text x="169.66" y="658.57" font-size="4.9" text-anchor="middle" fill="#e8e8f8">3</text>
<text x="182.93" y="658.57" font-size="4.9" text-anchor="middle" fill="#e8e8f8">5</text>
<text x="196.20" y="658.57" font-size="4.9" text-anchor="middle" fill="#e8e8f8">4</text>
<text x="209.47" y="658.57" font-size="4.9" text-anchor="middle" fill="#e8e8f8">5</text>
<text x="222.74" y="658.57" font-size="4.9" text-anchor="middle" fill="#e8e8f8">5</text>
<text x="236.01" y="658.57" font-size="4.9" text-anchor="middle" fill="#e8e8f8">5</text>
<text x="249.28" y="658.57" font-size="4.9" text-anchor="middle" fill="#e8e8f8">4</text>
<text x="262.55" y="658.57" font-size="4.9" text-anchor="middle" fill="#e8e8f8">8</text>
<text x="275.82" y="658.57" font-size="4.9" text-anchor="middle" fill="#e8e8f8">5</text>
<text x="289.09" y="658.57" font-size="4.9" text-anchor="middle" fill="#e8e8f8">3</text>
<text x="315.63" y="658.57" font-size="4.9" text-anchor="middle" fill="#e8e8f8">3</text>
<text x="328.90" y="658.57" font-size="4.9" text-anchor="middle" fill="#e8e8f8">3</text>
<text x="342.17" y="658.57" font-size="4.9" text-anchor="middle" fill="#e8e8f8">3</text>
<text x="368.71" y="658.57" font-size="4.9" text-anchor="middle" fill="#e8e8f8">4</text>
<text x="381.98" y="658.57" font-size="4.9" text-anchor="middle" fill="#e8e8f8">6</text>
<text x="90.04" y="663.50" font-size="4.9" text-anchor="middle" fill="#e8e8f8">5</text>
<text x="103.31" y="663.50" font-size="4.9" text-anchor="middle" fill="#e8e8f8">4</text>
<text x="116.58" y="663.50" font-size="4.9" text-anchor="middle" fill="#e8e8f8">5</text>
<text x="129.85" y="663.50" font-size="4.9" text-anchor="middle" fill="#e8e8f8">4</text>
<text x="143.12" y="663.50" font-size="4.9" text-anchor="middle" fill="#e8e8f8">3</text>
<text x="156.39" y="663.50" font-size="4.9" text-anchor="middle" fill="#e8e8f8">2</text>
<text x="182.93" y="663.50" font-size="4.9" text-anchor="middle" fill="#e8e8f8">3</text>
<text x="196.20" y="663.50" font-size="4.9" text-anchor="middle" fill="#e8e8f8">5</text>
<text x="209.47" y="663.50" font-size="4.9" text-anchor="middle" fill="#e8e8f8">5</text>
<text x="222.74" y="663.50" font-size="4.9" text-anchor="middle" fill="#e8e8f8">5</text>
<text x="236.01" y="663.50" font-size="4.9" text-anchor="middle" fill="#e8e8f8">5</text>
<text x="249.28" y="663.50" font-size="4.9" text-anchor="middle" fill="#e8e8f8">5</text>
<text x="262.55" y="663.50" font-size="4.9" text-anchor="middle" fill="#e8e8f8">8</text>
<text x="275.82" y="663.50" font-size="4.9" text-anchor="middle" fill="#e8e8f8">5</text>
<text x="289.09" y="663.50" font-size="4.9" text-anchor="middle" fill="#e8e8f8">4</text>
<text x="315.63" y="663.50" font-size="4.9" text-anchor="middle" fill="#e8e8f8">3</text>
<text x="328.90" y="663.50" font-size="4.9" text-anchor="middle" fill="#e8e8f8">3</text>
<text x="342.17" y="663.50" font-size="4.9" text-anchor="middle" fill="#e8e8f8">4</text>
<text x="355.44" y="663.50" font-size="4.9" text-anchor="middle" fill="#e8e8f8">5</text>
<text x="368.71" y="663.50" font-size="4.9" text-anchor="middle" fill="#e8e8f8">4</text>
<text x="381.98" y="663.50" font-size="4.9" text-anchor="middle" fill="#e8e8f8">8</text>
<text x="76.77" y="668.43" font-size="4.9" text-anchor="middle" fill="#e8e8f8">2</text>
<text x="90.04" y="668.43" font-size="4.9" text-anchor="middle" fill="#e8e8f8">4</text>
<text x="103.31" y="668.43" font-size="4.9" text-anchor="middle" fill="#e8e8f8">6</text>
<text x="116.58" y="668.43" font-size="4.9" text-anchor="middle" fill="#e8e8f8">8</text>
<text x="129.85" y="668.43" font-size="4.9" text-anchor="middle" fill="#e8e8f8">6</text>
<text x="143.12" y="668.43" font-size="4.9" text-anchor="middle" fill="#e8e8f8">6</text>
<text x="156.39" y="668.43" font-size="4.9" text-anchor="middle" fill="#e8e8f8">4</text>
<text x="169.66" y="668.43" font-size="4.9" text-anchor="middle" fill="#e8e8f8">6</text>
<text x="182.93" y="668.43" font-size="4.9" text-anchor="middle" fill="#e8e8f8">8</text>
<text x="196.20" y="668.43" font-size="4.9" text-anchor="middle" fill="#e8e8f8">6</text>
<text x="209.47" y="668.43" font-size="4.9" text-anchor="middle" fill="#e8e8f8">3</text>
<text x="222.74" y="668.43" font-size="4.9" text-anchor="middle" fill="#e8e8f8">3</text>
<text x="236.01" y="668.43" font-size="4.9" text-anchor="middle" fill="#e8e8f8">5</text>
<text x="249.28" y="668.43" font-size="4.9" text-anchor="middle" fill="#e8e8f8">6</text>
<text x="262.55" y="668.43" font-size="4.9" text-anchor="middle" fill="#e8e8f8">6</text>
<text x="275.82" y="668.43" font-size="4.9" text-anchor="middle" fill="#e8e8f8">6</text>
<text x="289.09" y="668.43" font-size="4.9" text-anchor="middle" fill="#e8e8f8">3</text>
<text x="302.36" y="668.43" font-size="4.9" text-anchor="middle" fill="#e8e8f8">4</text>
<text x="315.63" y="668.43" font-size="4.9" text-anchor="middle" fill="#e8e8f8">4</text>
<text x="328.90" y="668.43" font-size="4.9" text-anchor="middle" fill="#e8e8f8">2</text>
<text x="342.17" y="668.43" font-size="4.9" text-anchor="middle" fill="#e8e8f8">6</text>
<text x="355.44" y="668.43" font-size="4.9" text-anchor="middle" fill="#e8e8f8">9</text>
<text x="368.71" y="668.43" font-size="4.9" text-anchor="middle" fill="#e8e8f8">5</text>
<text x="381.98" y="668.43" font-size="4.9" text-anchor="middle" fill="#333">12</text>
<text x="76.77" y="673.36" font-size="4.9" text-anchor="middle" fill="#e8e8f8">4</text>
<text x="90.04" y="673.36" font-size="4.9" text-anchor="middle" fill="#e8e8f8">6</text>
<text x="103.31" y="673.36" font-size="4.9" text-anchor="middle" fill="#e8e8f8">6</text>
<text x="116.58" y="673.36" font-size="4.9" text-anchor="middle" fill="#333">12</text>
<text x="129.85" y="673.36" font-size="4.9" text-anchor="middle" fill="#e8e8f8">8</text>
<text x="143.12" y="673.36" font-size="4.9" text-anchor="middle" fill="#e8e8f8">6</text>
<text x="156.39" y="673.36" font-size="4.9" text-anchor="middle" fill="#e8e8f8">6</text>
<text x="169.66" y="673.36" font-size="4.9" text-anchor="middle" fill="#e8e8f8">5</text>
<text x="182.93" y="673.36" font-size="4.9" text-anchor="middle" fill="#e8e8f8">6</text>
<text x="196.20" y="673.36" font-size="4.9" text-anchor="middle" fill="#333">11</text>
<text x="209.47" y="673.36" font-size="4.9" text-anchor="middle" fill="#e8e8f8">6</text>
<text x="222.74" y="673.36" font-size="4.9" text-anchor="middle" fill="#333">10</text>
<text x="236.01" y="673.36" font-size="4.9" text-anchor="middle" fill="#e8e8f8">3</text>
<text x="249.28" y="673.36" font-size="4.9" text-anchor="middle" fill="#e8e8f8">6</text>
<text x="262.55" y="673.36" font-size="4.9" text-anchor="middle" fill="#e8e8f8">6</text>
<text x="275.82" y="673.36" font-size="4.9" text-anchor="middle" fill="#e8e8f8">7</text>
<text x="289.09" y="673.36" font-size="4.9" text-anchor="middle" fill="#e8e8f8">4</text>
<text x="302.36" y="673.36" font-size="4.9" text-anchor="middle" fill="#e8e8f8">4</text>
<text x="315.63" y="673.36" font-size="4.9" text-anchor="middle" fill="#e8e8f8">2</text>
<text x="328.90" y="673.36" font-size="4.9" text-anchor="middle" fill="#e8e8f8">2</text>
<text x="355.44" y="673.36" font-size="4.9" text-anchor="middle" fill="#e8e8f8">2</text>
<text x="381.98" y="673.36" font-size="4.9" text-anchor="middle" fill="#e8e8f8">6</text>
<text x="63.50" y="678.29" font-size="4.9" text-anchor="middle" fill="#e8e8f8">2</text>
<text x="76.77" y="678.29" font-size="4.9" text-anchor="middle" fill="#e8e8f8">5</text>
<text x="90.04" y="678.29" font-size="4.9" text-anchor="middle" fill="#e8e8f8">8</text>
<text x="103.31" y="678.29" font-size="4.9" text-anchor="middle" fill="#333">12</text>
<text x="116.58" y="678.29" font-size="4.9" text-anchor="middle" fill="#e8e8f8">6</text>
<text x="129.85" y="678.29" font-size="4.9" text-anchor="middle" fill="#e8e8f8">4</text>
<text x="143.12" y="678.29" font-size="4.9" text-anchor="middle" fill="#333">15</text>
<text x="156.39" y="678.29" font-size="4.9" text-anchor="middle" fill="#333">12</text>
<text x="169.66" y="678.29" font-size="4.9" text-anchor="middle" fill="#e8e8f8">6</text>
<text x="182.93" y="678.29" font-size="4.9" text-anchor="middle" fill="#333">12</text>
<text x="196.20" y="678.29" font-size="4.9" text-anchor="middle" fill="#e8e8f8">6</text>
<text x="209.47" y="678.29" font-size="4.9" text-anchor="middle" fill="#e8e8f8">8</text>
<text x="222.74" y="678.29" font-size="4.9" text-anchor="middle" fill="#e8e8f8">6</text>
<text x="236.01" y="678.29" font-size="4.9" text-anchor="middle" fill="#e8e8f8">3</text>
<text x="249.28" y="678.29" font-size="4.9" text-anchor="middle" fill="#e8e8f8">7</text>
<text x="262.55" y="678.29" font-size="4.9" text-anchor="middle" fill="#e8e8f8">6</text>
<text x="275.82" y="678.29" font-size="4.9" text-anchor="middle" fill="#e8e8f8">6</text>
<text x="289.09" y="678.29" font-size="4.9" text-anchor="middle" fill="#e8e8f8">7</text>
<text x="302.36" y="678.29" font-size="4.9" text-anchor="middle" fill="#e8e8f8">6</text>
<text x="315.63" y="678.29" font-size="4.9" text-anchor="middle" fill="#e8e8f8">2</text>
<text x="328.90" y="678.29" font-size="4.9" text-anchor="middle" fill="#e8e8f8">2</text>
<text x="342.17" y="678.29" font-size="4.9" text-anchor="middle" fill="#e8e8f8">3</text>
<text x="355.44" y="678.29" font-size="4.9" text-anchor="middle" fill="#e8e8f8">2</text>
<text x="368.71" y="678.29" font-size="4.9" text-anchor="middle" fill="#e8e8f8">4</text>
<text x="381.98" y="678.29" font-size="4.9" text-anchor="middle" fill="#333">10</text>
<text x="63.50" y="683.21" font-size="4.9" text-anchor="middle" fill="#e8e8f8">5</text>
<text x="76.77" y="683.21" font-size="4.9" text-anchor="middle" fill="#e8e8f8">8</text>
<text x="90.04" y="683.21" font-size="4.9" text-anchor="middle" fill="#e8e8f8">7</text>
<text x="103.31" y="683.21" font-size="4.9" text-anchor="middle" fill="#333">12</text>
<text x="116.58" y="683.21" font-size="4.9" text-anchor="middle" fill="#333">15</text>
<text x="129.85" y="683.21" font-size="4.9" text-anchor="middle" fill="#e8e8f8">4</text>
<text x="143.12" y="683.21" font-size="4.9" text-anchor="middle" fill="#333">13</text>
<text x="156.39" y="683.21" font-size="4.9" text-anchor="middle" fill="#333">16</text>
<text x="169.66" y="683.21" font-size="4.9" text-anchor="middle" fill="#333">13</text>
<text x="182.93" y="683.21" font-size="4.9" text-anchor="middle" fill="#333">13</text>
<text x="196.20" y="683.21" font-size="4.9" text-anchor="middle" fill="#333">13</text>
<text x="209.47" y="683.21" font-size="4.9" text-anchor="middle" fill="#e8e8f8">6</text>
<text x="222.74" y="683.21" font-size="4.9" text-anchor="middle" fill="#333">14</text>
<text x="236.01" y="683.21" font-size="4.9" text-anchor="middle" fill="#e8e8f8">9</text>
<text x="249.28" y="683.21" font-size="4.9" text-anchor="middle" fill="#e8e8f8">6</text>
<text x="262.55" y="683.21" font-size="4.9" text-anchor="middle" fill="#e8e8f8">9</text>
<text x="275.82" y="683.21" font-size="4.9" text-anchor="middle" fill="#e8e8f8">4</text>
<text x="289.09" y="683.21" font-size="4.9" text-anchor="middle" fill="#e8e8f8">5</text>
<text x="302.36" y="683.21" font-size="4.9" text-anchor="middle" fill="#e8e8f8">6</text>
<text x="315.63" y="683.21" font-size="4.9" text-anchor="middle" fill="#e8e8f8">4</text>
<text x="328.90" y="683.21" font-size="4.9" text-anchor="middle" fill="#e8e8f8">4</text>
<text x="342.17" y="683.21" font-size="4.9" text-anchor="middle" fill="#e8e8f8">6</text>
<text x="355.44" y="683.21" font-size="4.9" text-anchor="middle" fill="#e8e8f8">2</text>
<text x="368.71" y="683.21" font-size="4.9" text-anchor="middle" fill="#e8e8f8">5</text>
<text x="381.98" y="683.21" font-size="4.9" text-anchor="middle" fill="#e8e8f8">6</text>
<text x="63.50" y="688.14" font-size="4.9" text-anchor="middle" fill="#e8e8f8">4</text>
<text x="76.77" y="688.14" font-size="4.9" text-anchor="middle" fill="#333">18</text>
<text x="90.04" y="688.14" font-size="4.9" text-anchor="middle" fill="#333">17</text>
<text x="103.31" y="688.14" font-size="4.9" text-anchor="middle" fill="#333">24</text>
<text x="116.58" y="688.14" font-size="4.9" text-anchor="middle" fill="#333">17</text>
<text x="129.85" y="688.14" font-size="4.9" text-anchor="middle" fill="#333">25</text>
<text x="143.12" y="688.14" font-size="4.9" text-anchor="middle" fill="#333">19</text>
<text x="156.39" y="688.14" font-size="4.9" text-anchor="middle" fill="#333">18</text>
<text x="169.66" y="688.14" font-size="4.9" text-anchor="middle" fill="#333">26</text>
<text x="182.93" y="688.14" font-size="4.9" text-anchor="middle" fill="#333">16</text>
<text x="196.20" y="688.14" font-size="4.9" text-anchor="middle" fill="#333">18</text>
<text x="209.47" y="688.14" font-size="4.9" text-anchor="middle" fill="#e8e8f8">2</text>
<text x="222.74" y="688.14" font-size="4.9" text-anchor="middle" fill="#e8e8f8">2</text>
<text x="236.01" y="688.14" font-size="4.9" text-anchor="middle" fill="#e8e8f8">9</text>
<text x="249.28" y="688.14" font-size="4.9" text-anchor="middle" fill="#e8e8f8">6</text>
<text x="262.55" y="688.14" font-size="4.9" text-anchor="middle" fill="#333">12</text>
<text x="275.82" y="688.14" font-size="4.9" text-anchor="middle" fill="#e8e8f8">6</text>
<text x="289.09" y="688.14" font-size="4.9" text-anchor="middle" fill="#e8e8f8">7</text>
<text x="302.36" y="688.14" font-size="4.9" text-anchor="middle" fill="#e8e8f8">4</text>
<text x="315.63" y="688.14" font-size="4.9" text-anchor="middle" fill="#e8e8f8">2</text>
<text x="342.17" y="688.14" font-size="4.9" text-anchor="middle" fill="#e8e8f8">6</text>
<text x="368.71" y="688.14" font-size="4.9" text-anchor="middle" fill="#e8e8f8">3</text>
<text x="381.98" y="688.14" font-size="4.9" text-anchor="middle" fill="#e8e8f8">6</text>
<text x="63.50" y="693.07" font-size="4.9" text-anchor="middle" fill="#e8e8f8">6</text>
<text x="76.77" y="693.07" font-size="4.9" text-anchor="middle" fill="#333">24</text>
<text x="90.04" y="693.07" font-size="4.9" text-anchor="middle" fill="#333">28</text>
<text x="103.31" y="693.07" font-size="4.9" text-anchor="middle" fill="#333">42</text>
<text x="116.58" y="693.07" font-size="4.9" text-anchor="middle" fill="#e8e8f8">6</text>
<text x="129.85" y="693.07" font-size="4.9" text-anchor="middle" fill="#333">38</text>
<text x="143.12" y="693.07" font-size="4.9" text-anchor="middle" fill="#e8e8f8">4</text>
<text x="156.39" y="693.07" font-size="4.9" text-anchor="middle" fill="#333">29</text>
<text x="169.66" y="693.07" font-size="4.9" text-anchor="middle" fill="#333">29</text>
<text x="182.93" y="693.07" font-size="4.9" text-anchor="middle" fill="#333">33</text>
<text x="196.20" y="693.07" font-size="4.9" text-anchor="middle" fill="#333">19</text>
<text x="209.47" y="693.07" font-size="4.9" text-anchor="middle" fill="#333">18</text>
<text x="222.74" y="693.07" font-size="4.9" text-anchor="middle" fill="#e8e8f8">2</text>
<text x="236.01" y="693.07" font-size="4.9" text-anchor="middle" fill="#e8e8f8">9</text>
<text x="249.28" y="693.07" font-size="4.9" text-anchor="middle" fill="#e8e8f8">6</text>
<text x="262.55" y="693.07" font-size="4.9" text-anchor="middle" fill="#e8e8f8">8</text>
<text x="275.82" y="693.07" font-size="4.9" text-anchor="middle" fill="#e8e8f8">8</text>
<text x="289.09" y="693.07" font-size="4.9" text-anchor="middle" fill="#e8e8f8">2</text>
<text x="302.36" y="693.07" font-size="4.9" text-anchor="middle" fill="#e8e8f8">6</text>
<text x="328.90" y="693.07" font-size="4.9" text-anchor="middle" fill="#e8e8f8">2</text>
<text x="342.17" y="693.07" font-size="4.9" text-anchor="middle" fill="#e8e8f8">3</text>
<text x="355.44" y="693.07" font-size="4.9" text-anchor="middle" fill="#e8e8f8">2</text>
<text x="381.98" y="693.07" font-size="4.9" text-anchor="middle" fill="#e8e8f8">3</text>
<text x="63.50" y="698.00" font-size="4.9" text-anchor="middle" fill="#333">15</text>
<text x="76.77" y="698.00" font-size="4.9" text-anchor="middle" fill="#333">38</text>
<text x="90.04" y="698.00" font-size="4.9" text-anchor="middle" fill="#f6b8cf">55</text>
<text x="103.31" y="698.00" font-size="4.9" text-anchor="middle" fill="#f6b8cf">53</text>
<text x="116.58" y="698.00" font-size="4.9" text-anchor="middle" fill="#f6b8cf">51</text>
<text x="129.85" y="698.00" font-size="4.9" text-anchor="middle" fill="#f6b8cf">55</text>
<text x="143.12" y="698.00" font-size="4.9" text-anchor="middle" fill="#f6b8cf">55</text>
<text x="156.39" y="698.00" font-size="4.9" text-anchor="middle" fill="#333">28</text>
<text x="169.66" y="698.00" font-size="4.9" text-anchor="middle" fill="#f6b8cf">47</text>
<text x="182.93" y="698.00" font-size="4.9" text-anchor="middle" fill="#333">34</text>
<text x="196.20" y="698.00" font-size="4.9" text-anchor="middle" fill="#333">17</text>
<text x="209.47" y="698.00" font-size="4.9" text-anchor="middle" fill="#333">20</text>
<text x="222.74" y="698.00" font-size="4.9" text-anchor="middle" fill="#e8e8f8">4</text>
<text x="236.01" y="698.00" font-size="4.9" text-anchor="middle" fill="#333">12</text>
<text x="249.28" y="698.00" font-size="4.9" text-anchor="middle" fill="#e8e8f8">2</text>
<text x="262.55" y="698.00" font-size="4.9" text-anchor="middle" fill="#e8e8f8">8</text>
<text x="275.82" y="698.00" font-size="4.9" text-anchor="middle" fill="#e8e8f8">5</text>
<text x="289.09" y="698.00" font-size="4.9" text-anchor="middle" fill="#e8e8f8">3</text>
<text x="302.36" y="698.00" font-size="4.9" text-anchor="middle" fill="#e8e8f8">2</text>
<text x="315.63" y="698.00" font-size="4.9" text-anchor="middle" fill="#e8e8f8">3</text>
<text x="342.17" y="698.00" font-size="4.9" text-anchor="middle" fill="#e8e8f8">2</text>
<text x="368.71" y="698.00" font-size="4.9" text-anchor="middle" fill="#e8e8f8">2</text>
<text x="381.98" y="698.00" font-size="4.9" text-anchor="middle" fill="#e8e8f8">2</text>
<text x="63.50" y="702.93" font-size="4.9" text-anchor="middle" fill="#f6b8cf">45</text>
<text x="76.77" y="702.93" font-size="4.9" text-anchor="middle" fill="#f6b8cf">65</text>
<text x="90.04" y="702.93" font-size="4.9" text-anchor="middle" fill="#f6b8cf">91</text>
<text x="103.31" y="702.93" font-size="4.9" text-anchor="middle" fill="#f6b8cf">91</text>
<text x="116.58" y="702.93" font-size="4.9" text-anchor="middle" fill="#f6b8cf">85</text>
<text x="129.85" y="702.93" font-size="4.9" text-anchor="middle" fill="#f6b8cf">74</text>
<text x="143.12" y="702.93" font-size="4.9" text-anchor="middle" fill="#f6b8cf">52</text>
<text x="156.39" y="702.93" font-size="4.9" text-anchor="middle" fill="#e8e8f8">6</text>
<text x="169.66" y="702.93" font-size="4.9" text-anchor="middle" fill="#333">34</text>
<text x="182.93" y="702.93" font-size="4.9" text-anchor="middle" fill="#e8e8f8">3</text>
<text x="196.20" y="702.93" font-size="4.9" text-anchor="middle" fill="#333">22</text>
<text x="209.47" y="702.93" font-size="4.9" text-anchor="middle" fill="#333">23</text>
<text x="222.74" y="702.93" font-size="4.9" text-anchor="middle" fill="#e8e8f8">6</text>
<text x="236.01" y="702.93" font-size="4.9" text-anchor="middle" fill="#e8e8f8">6</text>
<text x="249.28" y="702.93" font-size="4.9" text-anchor="middle" fill="#e8e8f8">6</text>
<text x="262.55" y="702.93" font-size="4.9" text-anchor="middle" fill="#e8e8f8">6</text>
<text x="275.82" y="702.93" font-size="4.9" text-anchor="middle" fill="#e8e8f8">6</text>
<text x="289.09" y="702.93" font-size="4.9" text-anchor="middle" fill="#e8e8f8">6</text>
<text x="302.36" y="702.93" font-size="4.9" text-anchor="middle" fill="#e8e8f8">2</text>
<text x="328.90" y="702.93" font-size="4.9" text-anchor="middle" fill="#e8e8f8">3</text>
<text x="342.17" y="702.93" font-size="4.9" text-anchor="middle" fill="#e8e8f8">3</text>
<text x="368.71" y="702.93" font-size="4.9" text-anchor="middle" fill="#e8e8f8">2</text>
<text x="63.50" y="707.85" font-size="4.9" text-anchor="middle" fill="#f6b8cf">120</text>
<text x="76.77" y="707.85" font-size="4.9" text-anchor="middle" fill="#f6b8cf">102</text>
<text x="90.04" y="707.85" font-size="4.9" text-anchor="middle" fill="#f6b8cf">120</text>
<text x="103.31" y="707.85" font-size="4.9" text-anchor="middle" fill="#f6b8cf">103</text>
<text x="116.58" y="707.85" font-size="4.9" text-anchor="middle" fill="#333">16</text>
<text x="129.85" y="707.85" font-size="4.9" text-anchor="middle" fill="#e8e8f8">7</text>
<text x="143.12" y="707.85" font-size="4.9" text-anchor="middle" fill="#f6b8cf">55</text>
<text x="156.39" y="707.85" font-size="4.9" text-anchor="middle" fill="#333">37</text>
<text x="169.66" y="707.85" font-size="4.9" text-anchor="middle" fill="#333">32</text>
<text x="182.93" y="707.85" font-size="4.9" text-anchor="middle" fill="#333">29</text>
<text x="196.20" y="707.85" font-size="4.9" text-anchor="middle" fill="#333">19</text>
<text x="209.47" y="707.85" font-size="4.9" text-anchor="middle" fill="#333">11</text>
<text x="222.74" y="707.85" font-size="4.9" text-anchor="middle" fill="#e8e8f8">2</text>
<text x="236.01" y="707.85" font-size="4.9" text-anchor="middle" fill="#e8e8f8">6</text>
<text x="249.28" y="707.85" font-size="4.9" text-anchor="middle" fill="#e8e8f8">7</text>
<text x="262.55" y="707.85" font-size="4.9" text-anchor="middle" fill="#e8e8f8">6</text>
<text x="275.82" y="707.85" font-size="4.9" text-anchor="middle" fill="#e8e8f8">3</text>
<text x="302.36" y="707.85" font-size="4.9" text-anchor="middle" fill="#e8e8f8">2</text>
<text x="315.63" y="707.85" font-size="4.9" text-anchor="middle" fill="#e8e8f8">2</text>
<text x="328.90" y="707.85" font-size="4.9" text-anchor="middle" fill="#e8e8f8">2</text>
<text x="381.98" y="707.85" font-size="4.9" text-anchor="middle" fill="#e8e8f8">2</text>
<text x="63.50" y="712.78" font-size="4.9" text-anchor="middle" fill="#f6b8cf">203</text>
<text x="76.77" y="712.78" font-size="4.9" text-anchor="middle" fill="#f6b8cf">205</text>
<text x="90.04" y="712.78" font-size="4.9" text-anchor="middle" fill="#f6b8cf">222</text>
<text x="103.31" y="712.78" font-size="4.9" text-anchor="middle" fill="#f6b8cf">174</text>
<text x="116.58" y="712.78" font-size="4.9" text-anchor="middle" fill="#f6b8cf">113</text>
<text x="129.85" y="712.78" font-size="4.9" text-anchor="middle" fill="#f6b8cf">77</text>
<text x="143.12" y="712.78" font-size="4.9" text-anchor="middle" fill="#f6b8cf">52</text>
<text x="156.39" y="712.78" font-size="4.9" text-anchor="middle" fill="#333">44</text>
<text x="169.66" y="712.78" font-size="4.9" text-anchor="middle" fill="#333">24</text>
<text x="182.93" y="712.78" font-size="4.9" text-anchor="middle" fill="#333">23</text>
<text x="196.20" y="712.78" font-size="4.9" text-anchor="middle" fill="#333">11</text>
<text x="209.47" y="712.78" font-size="4.9" text-anchor="middle" fill="#e8e8f8">6</text>
<text x="222.74" y="712.78" font-size="4.9" text-anchor="middle" fill="#e8e8f8">3</text>
<text x="236.01" y="712.78" font-size="4.9" text-anchor="middle" fill="#e8e8f8">5</text>
<text x="249.28" y="712.78" font-size="4.9" text-anchor="middle" fill="#e8e8f8">6</text>
<text x="262.55" y="712.78" font-size="4.9" text-anchor="middle" fill="#e8e8f8">6</text>
<text x="289.09" y="712.78" font-size="4.9" text-anchor="middle" fill="#e8e8f8">2</text>
<text x="63.50" y="717.71" font-size="4.9" text-anchor="middle" fill="#f6b8cf">275</text>
<text x="76.77" y="717.71" font-size="4.9" text-anchor="middle" fill="#f6b8cf">323</text>
<text x="90.04" y="717.71" font-size="4.9" text-anchor="middle" fill="#f6b8cf">324</text>
<text x="103.31" y="717.71" font-size="4.9" text-anchor="middle" fill="#f6b8cf">185</text>
<text x="116.58" y="717.71" font-size="4.9" text-anchor="middle" fill="#f6b8cf">113</text>
<text x="129.85" y="717.71" font-size="4.9" text-anchor="middle" fill="#f6b8cf">40</text>
<text x="143.12" y="717.71" font-size="4.9" text-anchor="middle" fill="#e8e8f8">5</text>
<text x="156.39" y="717.71" font-size="4.9" text-anchor="middle" fill="#333">24</text>
<text x="169.66" y="717.71" font-size="4.9" text-anchor="middle" fill="#333">11</text>
<text x="182.93" y="717.71" font-size="4.9" text-anchor="middle" fill="#e8e8f8">6</text>
<text x="196.20" y="717.71" font-size="4.9" text-anchor="middle" fill="#e8e8f8">6</text>
<text x="209.47" y="717.71" font-size="4.9" text-anchor="middle" fill="#e8e8f8">6</text>
<text x="222.74" y="717.71" font-size="4.9" text-anchor="middle" fill="#e8e8f8">2</text>
<text x="236.01" y="717.71" font-size="4.9" text-anchor="middle" fill="#e8e8f8">2</text>
<text x="249.28" y="717.71" font-size="4.9" text-anchor="middle" fill="#e8e8f8">2</text>
<text x="262.55" y="717.71" font-size="4.9" text-anchor="middle" fill="#e8e8f8">2</text>
<text x="275.82" y="717.71" font-size="4.9" text-anchor="middle" fill="#e8e8f8">2</text>
<text x="289.09" y="717.71" font-size="4.9" text-anchor="middle" fill="#e8e8f8">2</text>
<text x="302.36" y="717.71" font-size="4.9" text-anchor="middle" fill="#e8e8f8">2</text>
<line x1="57.10" y1="490.80" x2="57.10" y2="719.50" stroke="#5a5a5a" stroke-width="0.8"/>
<line x1="57.10" y1="719.50" x2="390.50" y2="719.50" stroke="#5a5a5a" stroke-width="0.8"/>
<line x1="55.60" y1="494.20" x2="57.10" y2="494.20" stroke="#5a5a5a" stroke-width="0.6"/>
<text x="54.60" y="496.05" font-size="5.2" text-anchor="end" fill="#222" textLength="4.3" lengthAdjust="spacingAndGlyphs">57</text>
<line x1="55.60" y1="499.13" x2="57.10" y2="499.13" stroke="#5a5a5a" stroke-width="0.6"/>
<text x="54.60" y="500.98" font-size="5.2" text-anchor="end" fill="#222" textLength="4.3" lengthAdjust="spacingAndGlyphs">50</text>
<line x1="55.60" y1="504.06" x2="57.10" y2="504.06" stroke="#5a5a5a" stroke-width="0.6"/>
<text x="54.60" y="505.91" font-size="5.2" text-anchor="end" fill="#222" textLength="4.3" lengthAdjust="spacingAndGlyphs">49</text>
<line x1="55.60" y1="508.98" x2="57.10" y2="508.98" stroke="#5a5a5a" stroke-width="0.6"/>
<text x="54.60" y="510.83" font-size="5.2" text-anchor="end" fill="#222" textLength="4.3" lengthAdjust="spacingAndGlyphs">45</text>
<line x1="55.60" y1="513.91" x2="57.10" y2="513.91" stroke="#5a5a5a" stroke-width="0.6"/>
<text x="54.60" y="515.76" font-size="5.2" text-anchor="end" fill="#222" textLength="4.3" lengthAdjust="spacingAndGlyphs">44</text>
<line x1="55.60" y1="518.84" x2="57.10" y2="518.84" stroke="#5a5a5a" stroke-width="0.6"/>
<text x="54.60" y="520.69" font-size="5.2" text-anchor="end" fill="#222" textLength="4.3" lengthAdjust="spacingAndGlyphs">43</text>
<line x1="55.60" y1="523.77" x2="57.10" y2="523.77" stroke="#5a5a5a" stroke-width="0.6"/>
<text x="54.60" y="525.62" font-size="5.2" text-anchor="end" fill="#222" textLength="4.3" lengthAdjust="spacingAndGlyphs">42</text>
<line x1="55.60" y1="528.70" x2="57.10" y2="528.70" stroke="#5a5a5a" stroke-width="0.6"/>
<text x="54.60" y="530.55" font-size="5.2" text-anchor="end" fill="#222" textLength="4.3" lengthAdjust="spacingAndGlyphs">41</text>
<line x1="55.60" y1="533.62" x2="57.10" y2="533.62" stroke="#5a5a5a" stroke-width="0.6"/>
<text x="54.60" y="535.47" font-size="5.2" text-anchor="end" fill="#222" textLength="4.3" lengthAdjust="spacingAndGlyphs">40</text>
<line x1="55.60" y1="538.55" x2="57.10" y2="538.55" stroke="#5a5a5a" stroke-width="0.6"/>
<text x="54.60" y="540.40" font-size="5.2" text-anchor="end" fill="#222" textLength="4.3" lengthAdjust="spacingAndGlyphs">38</text>
<line x1="55.60" y1="543.48" x2="57.10" y2="543.48" stroke="#5a5a5a" stroke-width="0.6"/>
<text x="54.60" y="545.33" font-size="5.2" text-anchor="end" fill="#222" textLength="4.3" lengthAdjust="spacingAndGlyphs">36</text>
<line x1="55.60" y1="548.41" x2="57.10" y2="548.41" stroke="#5a5a5a" stroke-width="0.6"/>
<text x="54.60" y="550.26" font-size="5.2" text-anchor="end" fill="#222" textLength="4.3" lengthAdjust="spacingAndGlyphs">35</text>
<line x1="55.60" y1="553.34" x2="57.10" y2="553.34" stroke="#5a5a5a" stroke-width="0.6"/>
<text x="54.60" y="555.19" font-size="5.2" text-anchor="end" fill="#222" textLength="4.3" lengthAdjust="spacingAndGlyphs">34</text>
<line x1="55.60" y1="558.26" x2="57.10" y2="558.26" stroke="#5a5a5a" stroke-width="0.6"/>
<text x="54.60" y="560.11" font-size="5.2" text-anchor="end" fill="#222" textLength="4.3" lengthAdjust="spacingAndGlyphs">33</text>
<line x1="55.60" y1="563.19" x2="57.10" y2="563.19" stroke="#5a5a5a" stroke-width="0.6"/>
<text x="54.60" y="565.04" font-size="5.2" text-anchor="end" fill="#222" textLength="4.3" lengthAdjust="spacingAndGlyphs">32</text>
<line x1="55.60" y1="568.12" x2="57.10" y2="568.12" stroke="#5a5a5a" stroke-width="0.6"/>
<text x="54.60" y="569.97" font-size="5.2" text-anchor="end" fill="#222" textLength="4.3" lengthAdjust="spacingAndGlyphs">31</text>
<line x1="55.60" y1="573.05" x2="57.10" y2="573.05" stroke="#5a5a5a" stroke-width="0.6"/>
<text x="54.60" y="574.90" font-size="5.2" text-anchor="end" fill="#222" textLength="4.3" lengthAdjust="spacingAndGlyphs">30</text>
<line x1="55.60" y1="577.98" x2="57.10" y2="577.98" stroke="#5a5a5a" stroke-width="0.6"/>
<text x="54.60" y="579.83" font-size="5.2" text-anchor="end" fill="#222" textLength="4.3" lengthAdjust="spacingAndGlyphs">29</text>
<line x1="55.60" y1="582.90" x2="57.10" y2="582.90" stroke="#5a5a5a" stroke-width="0.6"/>
<text x="54.60" y="584.75" font-size="5.2" text-anchor="end" fill="#222" textLength="4.3" lengthAdjust="spacingAndGlyphs">28</text>
<line x1="55.60" y1="587.83" x2="57.10" y2="587.83" stroke="#5a5a5a" stroke-width="0.6"/>
<text x="54.60" y="589.68" font-size="5.2" text-anchor="end" fill="#222" textLength="4.3" lengthAdjust="spacingAndGlyphs">27</text>
<line x1="55.60" y1="592.76" x2="57.10" y2="592.76" stroke="#5a5a5a" stroke-width="0.6"/>
<text x="54.60" y="594.61" font-size="5.2" text-anchor="end" fill="#222" textLength="4.3" lengthAdjust="spacingAndGlyphs">26</text>
<line x1="55.60" y1="597.69" x2="57.10" y2="597.69" stroke="#5a5a5a" stroke-width="0.6"/>
<text x="54.60" y="599.54" font-size="5.2" text-anchor="end" fill="#222" textLength="4.3" lengthAdjust="spacingAndGlyphs">25</text>
<line x1="55.60" y1="602.62" x2="57.10" y2="602.62" stroke="#5a5a5a" stroke-width="0.6"/>
<text x="54.60" y="604.47" font-size="5.2" text-anchor="end" fill="#222" textLength="4.3" lengthAdjust="spacingAndGlyphs">24</text>
<line x1="55.60" y1="607.54" x2="57.10" y2="607.54" stroke="#5a5a5a" stroke-width="0.6"/>
<text x="54.60" y="609.39" font-size="5.2" text-anchor="end" fill="#222" textLength="4.3" lengthAdjust="spacingAndGlyphs">23</text>
<line x1="55.60" y1="612.47" x2="57.10" y2="612.47" stroke="#5a5a5a" stroke-width="0.6"/>
<text x="54.60" y="614.32" font-size="5.2" text-anchor="end" fill="#222" textLength="4.3" lengthAdjust="spacingAndGlyphs">22</text>
<line x1="55.60" y1="617.40" x2="57.10" y2="617.40" stroke="#5a5a5a" stroke-width="0.6"/>
<text x="54.60" y="619.25" font-size="5.2" text-anchor="end" fill="#222" textLength="4.3" lengthAdjust="spacingAndGlyphs">21</text>
<line x1="55.60" y1="622.33" x2="57.10" y2="622.33" stroke="#5a5a5a" stroke-width="0.6"/>
<text x="54.60" y="624.18" font-size="5.2" text-anchor="end" fill="#222" textLength="4.3" lengthAdjust="spacingAndGlyphs">20</text>
<line x1="55.60" y1="627.26" x2="57.10" y2="627.26" stroke="#5a5a5a" stroke-width="0.6"/>
<text x="54.60" y="629.11" font-size="5.2" text-anchor="end" fill="#222" textLength="4.3" lengthAdjust="spacingAndGlyphs">19</text>
<line x1="55.60" y1="632.18" x2="57.10" y2="632.18" stroke="#5a5a5a" stroke-width="0.6"/>
<text x="54.60" y="634.03" font-size="5.2" text-anchor="end" fill="#222" textLength="4.3" lengthAdjust="spacingAndGlyphs">18</text>
<line x1="55.60" y1="637.11" x2="57.10" y2="637.11" stroke="#5a5a5a" stroke-width="0.6"/>
<text x="54.60" y="638.96" font-size="5.2" text-anchor="end" fill="#222" textLength="4.3" lengthAdjust="spacingAndGlyphs">17</text>
<line x1="55.60" y1="642.04" x2="57.10" y2="642.04" stroke="#5a5a5a" stroke-width="0.6"/>
<text x="54.60" y="643.89" font-size="5.2" text-anchor="end" fill="#222" textLength="4.3" lengthAdjust="spacingAndGlyphs">16</text>
<line x1="55.60" y1="646.97" x2="57.10" y2="646.97" stroke="#5a5a5a" stroke-width="0.6"/>
<text x="54.60" y="648.82" font-size="5.2" text-anchor="end" fill="#222" textLength="4.3" lengthAdjust="spacingAndGlyphs">15</text>
<line x1="55.60" y1="651.90" x2="57.10" y2="651.90" stroke="#5a5a5a" stroke-width="0.6"/>
<text x="54.60" y="653.75" font-size="5.2" text-anchor="end" fill="#222" textLength="4.3" lengthAdjust="spacingAndGlyphs">14</text>
<line x1="55.60" y1="656.82" x2="57.10" y2="656.82" stroke="#5a5a5a" stroke-width="0.6"/>
<text x="54.60" y="658.67" font-size="5.2" text-anchor="end" fill="#222" textLength="4.3" lengthAdjust="spacingAndGlyphs">13</text>
<line x1="55.60" y1="661.75" x2="57.10" y2="661.75" stroke="#5a5a5a" stroke-width="0.6"/>
<text x="54.60" y="663.60" font-size="5.2" text-anchor="end" fill="#222" textLength="4.3" lengthAdjust="spacingAndGlyphs">12</text>
<line x1="55.60" y1="666.68" x2="57.10" y2="666.68" stroke="#5a5a5a" stroke-width="0.6"/>
<text x="54.60" y="668.53" font-size="5.2" text-anchor="end" fill="#222" textLength="4.3" lengthAdjust="spacingAndGlyphs">11</text>
<line x1="55.60" y1="671.61" x2="57.10" y2="671.61" stroke="#5a5a5a" stroke-width="0.6"/>
<text x="54.60" y="673.46" font-size="5.2" text-anchor="end" fill="#222" textLength="4.3" lengthAdjust="spacingAndGlyphs">10</text>
<line x1="55.60" y1="676.54" x2="57.10" y2="676.54" stroke="#5a5a5a" stroke-width="0.6"/>
<text x="54.60" y="678.39" font-size="5.2" text-anchor="end" fill="#222">9</text>
<line x1="55.60" y1="681.46" x2="57.10" y2="681.46" stroke="#5a5a5a" stroke-width="0.6"/>
<text x="54.60" y="683.31" font-size="5.2" text-anchor="end" fill="#222">8</text>
<line x1="55.60" y1="686.39" x2="57.10" y2="686.39" stroke="#5a5a5a" stroke-width="0.6"/>
<text x="54.60" y="688.24" font-size="5.2" text-anchor="end" fill="#222">7</text>
<line x1="55.60" y1="691.32" x2="57.10" y2="691.32" stroke="#5a5a5a" stroke-width="0.6"/>
<text x="54.60" y="693.17" font-size="5.2" text-anchor="end" fill="#222">6</text>
<line x1="55.60" y1="696.25" x2="57.10" y2="696.25" stroke="#5a5a5a" stroke-width="0.6"/>
<text x="54.60" y="698.10" font-size="5.2" text-anchor="end" fill="#222">5</text>
<line x1="55.60" y1="701.18" x2="57.10" y2="701.18" stroke="#5a5a5a" stroke-width="0.6"/>
<text x="54.60" y="703.03" font-size="5.2" text-anchor="end" fill="#222">4</text>
<line x1="55.60" y1="706.10" x2="57.10" y2="706.10" stroke="#5a5a5a" stroke-width="0.6"/>
<text x="54.60" y="707.95" font-size="5.2" text-anchor="end" fill="#222">3</text>
<line x1="55.60" y1="711.03" x2="57.10" y2="711.03" stroke="#5a5a5a" stroke-width="0.6"/>
<text x="54.60" y="712.88" font-size="5.2" text-anchor="end" fill="#222">2</text>
<line x1="55.60" y1="715.96" x2="57.10" y2="715.96" stroke="#5a5a5a" stroke-width="0.6"/>
<text x="54.60" y="717.81" font-size="5.2" text-anchor="end" fill="#222">1</text>
<line x1="63.50" y1="719.50" x2="63.50" y2="721.00" stroke="#5a5a5a" stroke-width="0.6"/>
<text x="63.50" y="728.20" font-size="8.4" text-anchor="middle" fill="#222" stroke="#222" stroke-width="0.185">1</text>
<line x1="76.77" y1="719.50" x2="76.77" y2="721.00" stroke="#5a5a5a" stroke-width="0.6"/>
<text x="76.77" y="728.20" font-size="8.4" text-anchor="middle" fill="#222" stroke="#222" stroke-width="0.185">2</text>
<line x1="90.04" y1="719.50" x2="90.04" y2="721.00" stroke="#5a5a5a" stroke-width="0.6"/>
<text x="90.04" y="728.20" font-size="8.4" text-anchor="middle" fill="#222" stroke="#222" stroke-width="0.185">3</text>
<line x1="103.31" y1="719.50" x2="103.31" y2="721.00" stroke="#5a5a5a" stroke-width="0.6"/>
<text x="103.31" y="728.20" font-size="8.4" text-anchor="middle" fill="#222" stroke="#222" stroke-width="0.185">4</text>
<line x1="116.58" y1="719.50" x2="116.58" y2="721.00" stroke="#5a5a5a" stroke-width="0.6"/>
<text x="116.58" y="728.20" font-size="8.4" text-anchor="middle" fill="#222" stroke="#222" stroke-width="0.185">5</text>
<line x1="129.85" y1="719.50" x2="129.85" y2="721.00" stroke="#5a5a5a" stroke-width="0.6"/>
<text x="129.85" y="728.20" font-size="8.4" text-anchor="middle" fill="#222" stroke="#222" stroke-width="0.185">6</text>
<line x1="143.12" y1="719.50" x2="143.12" y2="721.00" stroke="#5a5a5a" stroke-width="0.6"/>
<text x="143.12" y="728.20" font-size="8.4" text-anchor="middle" fill="#222" stroke="#222" stroke-width="0.185">7</text>
<line x1="156.39" y1="719.50" x2="156.39" y2="721.00" stroke="#5a5a5a" stroke-width="0.6"/>
<text x="156.39" y="728.20" font-size="8.4" text-anchor="middle" fill="#222" stroke="#222" stroke-width="0.185">8</text>
<line x1="169.66" y1="719.50" x2="169.66" y2="721.00" stroke="#5a5a5a" stroke-width="0.6"/>
<text x="169.66" y="728.20" font-size="8.4" text-anchor="middle" fill="#222" stroke="#222" stroke-width="0.185">9</text>
<line x1="182.93" y1="719.50" x2="182.93" y2="721.00" stroke="#5a5a5a" stroke-width="0.6"/>
<text x="182.93" y="728.20" font-size="8.4" text-anchor="middle" fill="#222" stroke="#222" stroke-width="0.185">10</text>
<line x1="196.20" y1="719.50" x2="196.20" y2="721.00" stroke="#5a5a5a" stroke-width="0.6"/>
<text x="196.20" y="728.20" font-size="8.4" text-anchor="middle" fill="#222" stroke="#222" stroke-width="0.185">11</text>
<line x1="209.47" y1="719.50" x2="209.47" y2="721.00" stroke="#5a5a5a" stroke-width="0.6"/>
<text x="209.47" y="728.20" font-size="8.4" text-anchor="middle" fill="#222" stroke="#222" stroke-width="0.185">12</text>
<line x1="222.74" y1="719.50" x2="222.74" y2="721.00" stroke="#5a5a5a" stroke-width="0.6"/>
<text x="222.74" y="728.20" font-size="8.4" text-anchor="middle" fill="#222" stroke="#222" stroke-width="0.185">13</text>
<line x1="236.01" y1="719.50" x2="236.01" y2="721.00" stroke="#5a5a5a" stroke-width="0.6"/>
<text x="236.01" y="728.20" font-size="8.4" text-anchor="middle" fill="#222" stroke="#222" stroke-width="0.185">14</text>
<line x1="249.28" y1="719.50" x2="249.28" y2="721.00" stroke="#5a5a5a" stroke-width="0.6"/>
<text x="249.28" y="728.20" font-size="8.4" text-anchor="middle" fill="#222" stroke="#222" stroke-width="0.185">15</text>
<line x1="262.55" y1="719.50" x2="262.55" y2="721.00" stroke="#5a5a5a" stroke-width="0.6"/>
<text x="262.55" y="728.20" font-size="8.4" text-anchor="middle" fill="#222" stroke="#222" stroke-width="0.185">16</text>
<line x1="275.82" y1="719.50" x2="275.82" y2="721.00" stroke="#5a5a5a" stroke-width="0.6"/>
<text x="275.82" y="728.20" font-size="8.4" text-anchor="middle" fill="#222" stroke="#222" stroke-width="0.185">17</text>
<line x1="289.09" y1="719.50" x2="289.09" y2="721.00" stroke="#5a5a5a" stroke-width="0.6"/>
<text x="289.09" y="728.20" font-size="8.4" text-anchor="middle" fill="#222" stroke="#222" stroke-width="0.185">18</text>
<line x1="302.36" y1="719.50" x2="302.36" y2="721.00" stroke="#5a5a5a" stroke-width="0.6"/>
<text x="302.36" y="728.20" font-size="8.4" text-anchor="middle" fill="#222" stroke="#222" stroke-width="0.185">19</text>
<line x1="315.63" y1="719.50" x2="315.63" y2="721.00" stroke="#5a5a5a" stroke-width="0.6"/>
<text x="315.63" y="728.20" font-size="8.4" text-anchor="middle" fill="#222" stroke="#222" stroke-width="0.185">20</text>
<line x1="328.90" y1="719.50" x2="328.90" y2="721.00" stroke="#5a5a5a" stroke-width="0.6"/>
<text x="328.90" y="728.20" font-size="8.4" text-anchor="middle" fill="#222" stroke="#222" stroke-width="0.185">21</text>
<line x1="342.17" y1="719.50" x2="342.17" y2="721.00" stroke="#5a5a5a" stroke-width="0.6"/>
<text x="342.17" y="728.20" font-size="8.4" text-anchor="middle" fill="#222" stroke="#222" stroke-width="0.185">22</text>
<line x1="355.44" y1="719.50" x2="355.44" y2="721.00" stroke="#5a5a5a" stroke-width="0.6"/>
<text x="355.44" y="728.20" font-size="8.4" text-anchor="middle" fill="#222" stroke="#222" stroke-width="0.185">23</text>
<line x1="368.71" y1="719.50" x2="368.71" y2="721.00" stroke="#5a5a5a" stroke-width="0.6"/>
<text x="368.71" y="728.20" font-size="8.4" text-anchor="middle" fill="#222" stroke="#222" stroke-width="0.185">24</text>
<line x1="381.98" y1="719.50" x2="381.98" y2="721.00" stroke="#5a5a5a" stroke-width="0.6"/>
<text x="381.98" y="728.20" font-size="8.4" text-anchor="middle" fill="#222" stroke="#222" stroke-width="0.185">≥25</text>
<text x="161.00" y="743.00" font-size="10" text-anchor="start" fill="#222" stroke="#222" stroke-width="0.220" textLength="123" lengthAdjust="spacingAndGlyphs">No. of predicted enhancers</text>
<text x="43.60" y="601.70" font-size="10" text-anchor="middle" fill="#222" transform="rotate(-90 43.60 601.70)" stroke="#222" stroke-width="0.220" textLength="108" lengthAdjust="spacingAndGlyphs">No. of mutated samples</text>
<defs><linearGradient id="gC" x1="0" y1="0" x2="1" y2="0"><stop offset="0.00" stop-color="#5e4fa2"/><stop offset="0.05" stop-color="#496aaf"/><stop offset="0.10" stop-color="#3387bc"/><stop offset="0.15" stop-color="#4ba4b1"/><stop offset="0.20" stop-color="#66c2a5"/><stop offset="0.25" stop-color="#89d0a4"/><stop offset="0.30" stop-color="#aadca4"/><stop offset="0.35" stop-color="#c8e99e"/><stop offset="0.40" stop-color="#e6f598"/><stop offset="0.45" stop-color="#f3faac"/><stop offset="0.50" stop-color="#fffebe"/><stop offset="0.55" stop-color="#fff0a6"/><stop offset="0.60" stop-color="#fee08b"/><stop offset="0.65" stop-color="#fdc776"/><stop offset="0.70" stop-color="#fdad60"/><stop offset="0.75" stop-color="#f88c51"/><stop offset="0.80" stop-color="#f46d43"/><stop offset="0.85" stop-color="#e45549"/><stop offset="0.90" stop-color="#d43d4f"/><stop offset="0.95" stop-color="#b81e48"/><stop offset="1.00" stop-color="#9e0142"/></linearGradient></defs>
<rect x="65.80" y="501.90" width="83.00" height="11.90" fill="url(#gC)"/>
<text x="79.20" y="499.40" font-size="10.2" text-anchor="start" fill="#222" stroke="#222" stroke-width="0.224" textLength="57.7" lengthAdjust="spacingAndGlyphs">No. of genes</text>
<text x="80.80" y="523.20" font-size="8.2" text-anchor="middle" fill="#222" stroke="#222" stroke-width="0.180">10</text>
<text x="97.15" y="523.20" font-size="8.2" text-anchor="middle" fill="#222" stroke="#222" stroke-width="0.180">20</text>
<text x="113.50" y="523.20" font-size="8.2" text-anchor="middle" fill="#222" stroke="#222" stroke-width="0.180">30</text>
<text x="129.85" y="523.20" font-size="8.2" text-anchor="middle" fill="#222" stroke="#222" stroke-width="0.180">40</text>
<text x="146.20" y="523.20" font-size="8.2" text-anchor="middle" fill="#222" stroke="#222" stroke-width="0.180">50</text>
<rect x="390.20" y="491.85" width="8.43" height="3.90" fill="#666"/>
<rect x="390.20" y="496.82" width="8.43" height="3.90" fill="#666"/>
<rect x="390.20" y="501.79" width="8.43" height="3.90" fill="#666"/>
<rect x="390.20" y="506.76" width="13.36" height="3.90" fill="#666"/>
<rect x="390.20" y="511.73" width="8.43" height="3.90" fill="#666"/>
<rect x="390.20" y="516.69" width="8.43" height="3.90" fill="#666"/>
<rect x="390.20" y="521.66" width="13.36" height="3.90" fill="#666"/>
<rect x="390.20" y="526.63" width="16.86" height="3.90" fill="#666"/>
<rect x="390.20" y="531.60" width="8.43" height="3.90" fill="#666"/>
<rect x="390.20" y="536.57" width="8.43" height="3.90" fill="#666"/>
<rect x="390.20" y="541.54" width="13.36" height="3.90" fill="#666"/>
<rect x="390.20" y="546.51" width="16.86" height="3.90" fill="#666"/>
<rect x="390.20" y="551.48" width="13.36" height="3.90" fill="#666"/>
<rect x="390.20" y="556.45" width="8.43" height="3.90" fill="#666"/>
<rect x="390.20" y="561.42" width="8.43" height="3.90" fill="#666"/>
<rect x="390.20" y="566.38" width="13.36" height="3.90" fill="#666"/>
<rect x="390.20" y="571.35" width="8.43" height="3.90" fill="#666"/>
<rect x="390.20" y="576.32" width="21.79" height="3.90" fill="#666"/>
<rect x="390.20" y="581.29" width="16.86" height="3.90" fill="#666"/>
<rect x="390.20" y="586.26" width="19.57" height="3.90" fill="#666"/>
<rect x="390.20" y="591.23" width="26.72" height="3.90" fill="#666"/>
<rect x="390.20" y="596.20" width="19.57" height="3.90" fill="#666"/>
<rect x="390.20" y="601.17" width="29.16" height="3.90" fill="#666"/>
<rect x="390.20" y="606.14" width="28.00" height="3.90" fill="#666"/>
<rect x="390.20" y="611.11" width="28.00" height="3.90" fill="#666"/>
<rect x="390.20" y="616.07" width="30.22" height="3.90" fill="#666"/>
<rect x="390.20" y="621.04" width="34.44" height="3.90" fill="#666"/>
<rect x="390.20" y="626.01" width="36.12" height="3.90" fill="#666"/>
<rect x="390.20" y="630.98" width="41.44" height="3.90" fill="#666"/>
<rect x="390.20" y="635.95" width="43.12" height="3.90" fill="#666"/>
<rect x="390.20" y="640.92" width="44.80" height="3.90" fill="#666"/>
<rect x="390.20" y="645.89" width="48.44" height="3.90" fill="#666"/>
<rect x="390.20" y="650.86" width="47.32" height="3.90" fill="#666"/>
<rect x="390.20" y="655.83" width="49.56" height="3.90" fill="#666"/>
<rect x="390.20" y="660.80" width="51.80" height="3.90" fill="#666"/>
<rect x="390.20" y="665.76" width="54.88" height="3.90" fill="#666"/>
<rect x="390.20" y="670.73" width="56.56" height="3.90" fill="#666"/>
<rect x="390.20" y="675.70" width="59.36" height="3.90" fill="#666"/>
<rect x="390.20" y="680.67" width="63.00" height="3.90" fill="#666"/>
<rect x="390.20" y="685.64" width="66.36" height="3.90" fill="#666"/>
<rect x="390.20" y="690.61" width="68.32" height="3.90" fill="#666"/>
<rect x="390.20" y="695.58" width="74.76" height="3.90" fill="#666"/>
<rect x="390.20" y="700.55" width="78.12" height="3.90" fill="#666"/>
<rect x="390.20" y="705.52" width="80.36" height="3.90" fill="#666"/>
<rect x="390.20" y="710.49" width="87.36" height="3.90" fill="#666"/>
<rect x="390.20" y="715.45" width="92.12" height="3.90" fill="#666"/>
<line x1="389.00" y1="489.00" x2="389.00" y2="719.90" stroke="#cfe3ee" stroke-width="0.8"/>
<line x1="390.20" y1="719.90" x2="487.70" y2="719.90" stroke="#5a5a5a" stroke-width="0.8"/>
<line x1="418.20" y1="719.90" x2="418.20" y2="721.40" stroke="#5a5a5a" stroke-width="0.6"/>
<text x="418.20" y="729.00" font-size="8.2" text-anchor="middle" fill="#222" stroke="#222" stroke-width="0.180">1</text>
<line x1="446.20" y1="719.90" x2="446.20" y2="721.40" stroke="#5a5a5a" stroke-width="0.6"/>
<text x="446.20" y="729.00" font-size="8.2" text-anchor="middle" fill="#222" stroke="#222" stroke-width="0.180">2</text>
<line x1="474.20" y1="719.90" x2="474.20" y2="721.40" stroke="#5a5a5a" stroke-width="0.6"/>
<text x="474.20" y="729.00" font-size="8.2" text-anchor="middle" fill="#222" stroke="#222" stroke-width="0.180">3</text>
<text x="391.6" y="737.3" font-size="10.2" fill="#222">log<tspan font-size="6.1" dy="2.5">10</tspan><tspan dy="-2.5">(No. of genes+1)</tspan></text>
<text x="275.50" y="12.20" font-size="13" text-anchor="start" fill="#111" font-weight="bold">D</text>
<circle cx="378.43" cy="131.20" r="0.85" fill="#f1d6d0" fill-opacity="0.85"/>
<circle cx="400.95" cy="152.91" r="0.85" fill="#f1d6d0" fill-opacity="0.85"/>
<circle cx="376.95" cy="163.46" r="0.85" fill="#f1d6d0" fill-opacity="0.85"/>
<circle cx="394.72" cy="150.93" r="0.85" fill="#f1d6d0" fill-opacity="0.85"/>
<circle cx="378.54" cy="166.11" r="0.85" fill="#f1d6d0" fill-opacity="0.85"/>
<circle cx="377.46" cy="159.35" r="0.85" fill="#f1d6d0" fill-opacity="0.85"/>
<circle cx="417.21" cy="142.67" r="0.85" fill="#d9d2d2" fill-opacity="0.85"/>
<circle cx="409.45" cy="167.34" r="0.85" fill="#f1d6d0" fill-opacity="0.85"/>
<circle cx="391.58" cy="144.53" r="0.85" fill="#f1d6d0" fill-opacity="0.85"/>
<circle cx="389.48" cy="167.83" r="0.85" fill="#f1d6d0" fill-opacity="0.85"/>
<circle cx="390.17" cy="150.21" r="0.85" fill="#f1d6d0" fill-opacity="0.85"/>
<circle cx="404.14" cy="161.56" r="0.85" fill="#f1d6d0" fill-opacity="0.85"/>
<circle cx="398.98" cy="167.57" r="0.85" fill="#f1d6d0" fill-opacity="0.85"/>
<circle cx="380.87" cy="135.38" r="0.85" fill="#f1d6d0" fill-opacity="0.85"/>
<circle cx="399.04" cy="150.62" r="0.85" fill="#f1d6d0" fill-opacity="0.85"/>
<circle cx="385.11" cy="144.13" r="0.85" fill="#f1d6d0" fill-opacity="0.85"/>
<circle cx="382.87" cy="153.26" r="0.85" fill="#f1d6d0" fill-opacity="0.85"/>
<circle cx="387.03" cy="127.46" r="0.85" fill="#f1d6d0" fill-opacity="0.85"/>
<circle cx="407.48" cy="158.91" r="0.85" fill="#f1d6d0" fill-opacity="0.85"/>
<circle cx="377.03" cy="161.98" r="0.85" fill="#f1d6d0" fill-opacity="0.85"/>
<circle cx="394.34" cy="139.16" r="0.85" fill="#f1d6d0" fill-opacity="0.85"/>
<circle cx="400.84" cy="155.60" r="0.85" fill="#f1d6d0" fill-opacity="0.85"/>
<circle cx="403.57" cy="129.44" r="0.85" fill="#f1d6d0" fill-opacity="0.85"/>
<circle cx="384.22" cy="135.13" r="0.85" fill="#f1d6d0" fill-opacity="0.85"/>
<circle cx="405.29" cy="131.92" r="0.85" fill="#f1d6d0" fill-opacity="0.85"/>
<circle cx="395.67" cy="152.72" r="0.85" fill="#f1d6d0" fill-opacity="0.85"/>
<circle cx="409.68" cy="166.64" r="0.85" fill="#f1d6d0" fill-opacity="0.85"/>
<circle cx="393.90" cy="145.67" r="0.85" fill="#f1d6d0" fill-opacity="0.85"/>
<circle cx="397.63" cy="166.29" r="0.85" fill="#f1d6d0" fill-opacity="0.85"/>
<circle cx="384.67" cy="158.25" r="0.85" fill="#f1d6d0" fill-opacity="0.85"/>
<circle cx="418.73" cy="165.47" r="0.85" fill="#d9d2d2" fill-opacity="0.85"/>
<circle cx="390.34" cy="161.40" r="0.85" fill="#f1d6d0" fill-opacity="0.85"/>
<circle cx="399.62" cy="137.65" r="0.85" fill="#f1d6d0" fill-opacity="0.85"/>
<circle cx="398.57" cy="163.69" r="0.85" fill="#f1d6d0" fill-opacity="0.85"/>
<circle cx="381.38" cy="163.27" r="0.85" fill="#f1d6d0" fill-opacity="0.85"/>
<circle cx="390.07" cy="140.83" r="0.85" fill="#f1d6d0" fill-opacity="0.85"/>
<circle cx="409.38" cy="165.51" r="0.85" fill="#f1d6d0" fill-opacity="0.85"/>
<circle cx="410.45" cy="154.77" r="0.85" fill="#f1d6d0" fill-opacity="0.85"/>
<circle cx="398.22" cy="128.77" r="0.85" fill="#f1d6d0" fill-opacity="0.85"/>
<circle cx="406.49" cy="137.33" r="0.85" fill="#f1d6d0" fill-opacity="0.85"/>
<circle cx="385.89" cy="162.62" r="0.85" fill="#f1d6d0" fill-opacity="0.85"/>
<circle cx="423.20" cy="155.84" r="0.85" fill="#d9d2d2" fill-opacity="0.85"/>
<circle cx="407.93" cy="165.95" r="0.85" fill="#f1d6d0" fill-opacity="0.85"/>
<circle cx="379.67" cy="127.80" r="0.85" fill="#f1d6d0" fill-opacity="0.85"/>
<circle cx="398.13" cy="138.84" r="0.85" fill="#f1d6d0" fill-opacity="0.85"/>
<circle cx="406.22" cy="158.39" r="0.85" fill="#f1d6d0" fill-opacity="0.85"/>
<circle cx="394.06" cy="166.22" r="0.85" fill="#f1d6d0" fill-opacity="0.85"/>
<circle cx="400.90" cy="147.80" r="0.85" fill="#f1d6d0" fill-opacity="0.85"/>
<circle cx="396.48" cy="156.74" r="0.85" fill="#f1d6d0" fill-opacity="0.85"/>
<circle cx="414.69" cy="153.43" r="0.85" fill="#f1d6d0" fill-opacity="0.85"/>
<circle cx="411.28" cy="148.16" r="0.85" fill="#f1d6d0" fill-opacity="0.85"/>
<circle cx="391.53" cy="134.16" r="0.85" fill="#f1d6d0" fill-opacity="0.85"/>
<circle cx="398.97" cy="132.02" r="0.85" fill="#f1d6d0" fill-opacity="0.85"/>
<circle cx="403.06" cy="136.61" r="0.85" fill="#f1d6d0" fill-opacity="0.85"/>
<circle cx="395.67" cy="140.47" r="0.85" fill="#f1d6d0" fill-opacity="0.85"/>
<circle cx="404.76" cy="130.36" r="0.85" fill="#f1d6d0" fill-opacity="0.85"/>
<circle cx="406.98" cy="133.36" r="0.85" fill="#f1d6d0" fill-opacity="0.85"/>
<circle cx="383.93" cy="165.85" r="0.85" fill="#f1d6d0" fill-opacity="0.85"/>
<circle cx="386.73" cy="167.41" r="0.85" fill="#f1d6d0" fill-opacity="0.85"/>
<circle cx="405.73" cy="142.14" r="0.85" fill="#f1d6d0" fill-opacity="0.85"/>
<circle cx="393.23" cy="161.03" r="0.85" fill="#f1d6d0" fill-opacity="0.85"/>
<circle cx="404.10" cy="159.72" r="0.85" fill="#f1d6d0" fill-opacity="0.85"/>
<circle cx="378.69" cy="163.76" r="0.85" fill="#f1d6d0" fill-opacity="0.85"/>
<circle cx="394.66" cy="162.02" r="0.85" fill="#f1d6d0" fill-opacity="0.85"/>
<circle cx="390.42" cy="148.84" r="0.85" fill="#f1d6d0" fill-opacity="0.85"/>
<circle cx="407.28" cy="160.20" r="0.85" fill="#f1d6d0" fill-opacity="0.85"/>
<circle cx="380.11" cy="131.56" r="0.85" fill="#f1d6d0" fill-opacity="0.85"/>
<circle cx="396.37" cy="160.60" r="0.85" fill="#f1d6d0" fill-opacity="0.85"/>
<circle cx="398.10" cy="153.74" r="0.85" fill="#f1d6d0" fill-opacity="0.85"/>
<circle cx="403.77" cy="156.85" r="0.85" fill="#f1d6d0" fill-opacity="0.85"/>
<circle cx="398.89" cy="148.27" r="0.85" fill="#f1d6d0" fill-opacity="0.85"/>
<circle cx="404.67" cy="132.92" r="0.85" fill="#f1d6d0" fill-opacity="0.85"/>
<circle cx="405.45" cy="128.26" r="0.85" fill="#f1d6d0" fill-opacity="0.85"/>
<circle cx="383.74" cy="147.72" r="0.85" fill="#f1d6d0" fill-opacity="0.85"/>
<circle cx="377.67" cy="164.83" r="0.85" fill="#f1d6d0" fill-opacity="0.85"/>
<circle cx="398.25" cy="131.93" r="0.85" fill="#f1d6d0" fill-opacity="0.85"/>
<circle cx="396.22" cy="142.31" r="0.85" fill="#f1d6d0" fill-opacity="0.85"/>
<circle cx="398.48" cy="145.36" r="0.85" fill="#f1d6d0" fill-opacity="0.85"/>
<circle cx="394.96" cy="152.20" r="0.85" fill="#f1d6d0" fill-opacity="0.85"/>
<circle cx="394.13" cy="127.27" r="0.85" fill="#f1d6d0" fill-opacity="0.85"/>
<circle cx="383.41" cy="166.59" r="0.85" fill="#f1d6d0" fill-opacity="0.85"/>
<circle cx="373.62" cy="132.44" r="0.85" fill="#f1d6d0" fill-opacity="0.85"/>
<circle cx="389.08" cy="140.58" r="0.85" fill="#f1d6d0" fill-opacity="0.85"/>
<circle cx="388.48" cy="131.68" r="0.85" fill="#f1d6d0" fill-opacity="0.85"/>
<circle cx="371.72" cy="157.52" r="0.85" fill="#f1d6d0" fill-opacity="0.85"/>
<circle cx="383.66" cy="133.93" r="0.85" fill="#f1d6d0" fill-opacity="0.85"/>
<circle cx="367.89" cy="154.92" r="0.85" fill="#f1d6d0" fill-opacity="0.85"/>
<circle cx="402.71" cy="148.24" r="0.85" fill="#f1d6d0" fill-opacity="0.85"/>
<circle cx="368.49" cy="145.87" r="0.85" fill="#f1d6d0" fill-opacity="0.85"/>
<circle cx="381.90" cy="146.61" r="0.85" fill="#f1d6d0" fill-opacity="0.85"/>
<circle cx="408.16" cy="166.47" r="0.85" fill="#f1d6d0" fill-opacity="0.85"/>
<circle cx="367.15" cy="133.49" r="0.85" fill="#f1d6d0" fill-opacity="0.85"/>
<circle cx="361.46" cy="141.01" r="0.85" fill="#f1d6d0" fill-opacity="0.85"/>
<circle cx="378.13" cy="147.88" r="0.85" fill="#f1d6d0" fill-opacity="0.85"/>
<circle cx="410.42" cy="153.96" r="0.85" fill="#f1d6d0" fill-opacity="0.85"/>
<circle cx="398.74" cy="139.94" r="0.85" fill="#f1d6d0" fill-opacity="0.85"/>
<circle cx="390.64" cy="167.58" r="0.85" fill="#f1d6d0" fill-opacity="0.85"/>
<circle cx="382.69" cy="161.96" r="0.85" fill="#f1d6d0" fill-opacity="0.85"/>
<circle cx="386.07" cy="142.44" r="0.85" fill="#f1d6d0" fill-opacity="0.85"/>
<circle cx="376.23" cy="131.40" r="0.85" fill="#f1d6d0" fill-opacity="0.85"/>
<circle cx="395.98" cy="161.07" r="0.85" fill="#f1d6d0" fill-opacity="0.85"/>
<circle cx="407.51" cy="143.40" r="0.85" fill="#f1d6d0" fill-opacity="0.85"/>
<circle cx="396.48" cy="162.88" r="0.85" fill="#f1d6d0" fill-opacity="0.85"/>
<circle cx="410.43" cy="144.25" r="0.85" fill="#f1d6d0" fill-opacity="0.85"/>
<circle cx="422.38" cy="153.90" r="0.85" fill="#d9d2d2" fill-opacity="0.85"/>
<circle cx="405.37" cy="143.97" r="0.85" fill="#f1d6d0" fill-opacity="0.85"/>
<circle cx="387.77" cy="163.02" r="0.85" fill="#f1d6d0" fill-opacity="0.85"/>
<circle cx="372.54" cy="131.72" r="0.85" fill="#f1d6d0" fill-opacity="0.85"/>
<circle cx="406.35" cy="133.46" r="0.85" fill="#f1d6d0" fill-opacity="0.85"/>
<circle cx="381.73" cy="158.86" r="0.85" fill="#f1d6d0" fill-opacity="0.85"/>
<circle cx="407.99" cy="164.95" r="0.85" fill="#f1d6d0" fill-opacity="0.85"/>
<circle cx="368.86" cy="135.06" r="0.85" fill="#f1d6d0" fill-opacity="0.85"/>
<circle cx="396.23" cy="141.82" r="0.85" fill="#f1d6d0" fill-opacity="0.85"/>
<circle cx="406.41" cy="163.95" r="0.85" fill="#f1d6d0" fill-opacity="0.85"/>
<circle cx="392.14" cy="153.54" r="0.85" fill="#f1d6d0" fill-opacity="0.85"/>
<circle cx="394.10" cy="155.05" r="0.85" fill="#f1d6d0" fill-opacity="0.85"/>
<circle cx="405.28" cy="145.84" r="0.85" fill="#f1d6d0" fill-opacity="0.85"/>
<circle cx="383.41" cy="135.55" r="0.85" fill="#f1d6d0" fill-opacity="0.85"/>
<circle cx="396.11" cy="128.18" r="0.85" fill="#f1d6d0" fill-opacity="0.85"/>
<circle cx="390.35" cy="167.55" r="0.85" fill="#f1d6d0" fill-opacity="0.85"/>
<circle cx="397.27" cy="133.84" r="0.85" fill="#f1d6d0" fill-opacity="0.85"/>
<circle cx="416.97" cy="148.34" r="0.85" fill="#d9d2d2" fill-opacity="0.85"/>
<circle cx="401.33" cy="159.14" r="0.85" fill="#f1d6d0" fill-opacity="0.85"/>
<circle cx="396.35" cy="164.96" r="0.85" fill="#f1d6d0" fill-opacity="0.85"/>
<circle cx="392.97" cy="153.36" r="0.85" fill="#f1d6d0" fill-opacity="0.85"/>
<circle cx="421.78" cy="161.71" r="0.85" fill="#d9d2d2" fill-opacity="0.85"/>
<circle cx="399.73" cy="164.81" r="0.85" fill="#f1d6d0" fill-opacity="0.85"/>
<circle cx="414.59" cy="153.71" r="0.85" fill="#f1d6d0" fill-opacity="0.85"/>
<circle cx="401.40" cy="145.64" r="0.85" fill="#f1d6d0" fill-opacity="0.85"/>
<circle cx="381.30" cy="129.42" r="0.85" fill="#f1d6d0" fill-opacity="0.85"/>
<circle cx="374.53" cy="143.09" r="0.85" fill="#f1d6d0" fill-opacity="0.85"/>
<circle cx="400.64" cy="163.65" r="0.85" fill="#f1d6d0" fill-opacity="0.85"/>
<circle cx="410.80" cy="167.89" r="0.85" fill="#f1d6d0" fill-opacity="0.85"/>
<circle cx="373.73" cy="163.64" r="0.85" fill="#f1d6d0" fill-opacity="0.85"/>
<circle cx="399.51" cy="160.48" r="0.85" fill="#f1d6d0" fill-opacity="0.85"/>
<circle cx="383.34" cy="150.56" r="0.85" fill="#f1d6d0" fill-opacity="0.85"/>
<circle cx="413.56" cy="146.36" r="0.85" fill="#f1d6d0" fill-opacity="0.85"/>
<circle cx="396.19" cy="137.90" r="0.85" fill="#f1d6d0" fill-opacity="0.85"/>
<circle cx="381.59" cy="132.13" r="0.85" fill="#f1d6d0" fill-opacity="0.85"/>
<circle cx="423.51" cy="141.29" r="0.85" fill="#d9d2d2" fill-opacity="0.85"/>
<circle cx="412.65" cy="165.13" r="0.85" fill="#f1d6d0" fill-opacity="0.85"/>
<circle cx="376.77" cy="131.94" r="0.85" fill="#f1d6d0" fill-opacity="0.85"/>
<circle cx="401.31" cy="156.54" r="0.85" fill="#f1d6d0" fill-opacity="0.85"/>
<circle cx="369.39" cy="137.66" r="0.85" fill="#f1d6d0" fill-opacity="0.85"/>
<circle cx="383.52" cy="130.16" r="0.85" fill="#f1d6d0" fill-opacity="0.85"/>
<circle cx="375.76" cy="162.81" r="0.85" fill="#f1d6d0" fill-opacity="0.85"/>
<circle cx="400.25" cy="141.31" r="0.85" fill="#f1d6d0" fill-opacity="0.85"/>
<circle cx="404.03" cy="141.51" r="0.85" fill="#f1d6d0" fill-opacity="0.85"/>
<circle cx="377.33" cy="162.53" r="0.85" fill="#f1d6d0" fill-opacity="0.85"/>
<circle cx="372.45" cy="128.43" r="0.85" fill="#f1d6d0" fill-opacity="0.85"/>
<circle cx="371.44" cy="158.72" r="0.85" fill="#f1d6d0" fill-opacity="0.85"/>
<circle cx="389.92" cy="131.94" r="0.85" fill="#f1d6d0" fill-opacity="0.85"/>
<circle cx="403.67" cy="166.40" r="0.85" fill="#f1d6d0" fill-opacity="0.85"/>
<circle cx="385.39" cy="153.94" r="0.85" fill="#f1d6d0" fill-opacity="0.85"/>
<circle cx="372.79" cy="151.98" r="0.85" fill="#f1d6d0" fill-opacity="0.85"/>
<circle cx="388.17" cy="167.60" r="0.85" fill="#f1d6d0" fill-opacity="0.85"/>
<circle cx="397.50" cy="137.51" r="0.85" fill="#f1d6d0" fill-opacity="0.85"/>
<circle cx="390.87" cy="163.84" r="0.85" fill="#f1d6d0" fill-opacity="0.85"/>
<circle cx="383.04" cy="164.82" r="0.85" fill="#f1d6d0" fill-opacity="0.85"/>
<circle cx="416.95" cy="164.58" r="0.85" fill="#d9d2d2" fill-opacity="0.85"/>
<circle cx="373.21" cy="135.50" r="0.85" fill="#f1d6d0" fill-opacity="0.85"/>
<circle cx="393.30" cy="142.86" r="0.85" fill="#f1d6d0" fill-opacity="0.85"/>
<circle cx="411.08" cy="129.91" r="0.85" fill="#f1d6d0" fill-opacity="0.85"/>
<circle cx="390.16" cy="166.32" r="0.85" fill="#f1d6d0" fill-opacity="0.85"/>
<circle cx="398.71" cy="159.84" r="0.85" fill="#f1d6d0" fill-opacity="0.85"/>
<circle cx="412.56" cy="140.98" r="0.85" fill="#f1d6d0" fill-opacity="0.85"/>
<circle cx="384.65" cy="135.32" r="0.85" fill="#f1d6d0" fill-opacity="0.85"/>
<circle cx="382.54" cy="148.82" r="0.85" fill="#f1d6d0" fill-opacity="0.85"/>
<circle cx="390.43" cy="135.24" r="0.85" fill="#f1d6d0" fill-opacity="0.85"/>
<circle cx="408.39" cy="132.42" r="0.85" fill="#f1d6d0" fill-opacity="0.85"/>
<circle cx="402.75" cy="128.90" r="0.85" fill="#f1d6d0" fill-opacity="0.85"/>
<circle cx="422.13" cy="150.39" r="0.85" fill="#d9d2d2" fill-opacity="0.85"/>
<circle cx="387.19" cy="149.88" r="0.85" fill="#f1d6d0" fill-opacity="0.85"/>
<circle cx="391.47" cy="151.31" r="0.85" fill="#f1d6d0" fill-opacity="0.85"/>
<circle cx="393.01" cy="128.85" r="0.85" fill="#f1d6d0" fill-opacity="0.85"/>
<circle cx="393.59" cy="150.75" r="0.85" fill="#f1d6d0" fill-opacity="0.85"/>
<circle cx="375.14" cy="148.69" r="0.85" fill="#f1d6d0" fill-opacity="0.85"/>
<circle cx="410.42" cy="151.83" r="0.85" fill="#f1d6d0" fill-opacity="0.85"/>
<circle cx="393.76" cy="149.76" r="0.85" fill="#f1d6d0" fill-opacity="0.85"/>
<circle cx="390.80" cy="155.06" r="0.85" fill="#f1d6d0" fill-opacity="0.85"/>
<circle cx="426.35" cy="160.60" r="0.85" fill="#d9d2d2" fill-opacity="0.85"/>
<circle cx="387.11" cy="152.59" r="0.85" fill="#f1d6d0" fill-opacity="0.85"/>
<circle cx="406.11" cy="136.72" r="0.85" fill="#f1d6d0" fill-opacity="0.85"/>
<circle cx="406.37" cy="132.42" r="0.85" fill="#f1d6d0" fill-opacity="0.85"/>
<circle cx="383.49" cy="163.25" r="0.85" fill="#f1d6d0" fill-opacity="0.85"/>
<circle cx="397.44" cy="146.20" r="0.85" fill="#f1d6d0" fill-opacity="0.85"/>
<circle cx="402.24" cy="138.52" r="0.85" fill="#f1d6d0" fill-opacity="0.85"/>
<circle cx="392.29" cy="167.70" r="0.85" fill="#f1d6d0" fill-opacity="0.85"/>
<circle cx="399.11" cy="142.97" r="0.85" fill="#f1d6d0" fill-opacity="0.85"/>
<circle cx="405.12" cy="158.65" r="0.85" fill="#f1d6d0" fill-opacity="0.85"/>
<circle cx="383.62" cy="165.83" r="0.85" fill="#f1d6d0" fill-opacity="0.85"/>
<circle cx="411.06" cy="140.88" r="0.85" fill="#f1d6d0" fill-opacity="0.85"/>
<circle cx="407.69" cy="161.26" r="0.85" fill="#f1d6d0" fill-opacity="0.85"/>
<circle cx="407.36" cy="163.04" r="0.85" fill="#f1d6d0" fill-opacity="0.85"/>
<circle cx="380.85" cy="156.58" r="0.85" fill="#f1d6d0" fill-opacity="0.85"/>
<circle cx="392.78" cy="155.07" r="0.85" fill="#f1d6d0" fill-opacity="0.85"/>
<circle cx="387.49" cy="162.83" r="0.85" fill="#f1d6d0" fill-opacity="0.85"/>
<circle cx="394.12" cy="145.58" r="0.85" fill="#f1d6d0" fill-opacity="0.85"/>
<circle cx="384.51" cy="134.93" r="0.85" fill="#f1d6d0" fill-opacity="0.85"/>
<circle cx="382.44" cy="146.48" r="0.85" fill="#f1d6d0" fill-opacity="0.85"/>
<circle cx="402.00" cy="140.40" r="0.85" fill="#f1d6d0" fill-opacity="0.85"/>
<circle cx="387.62" cy="136.98" r="0.85" fill="#f1d6d0" fill-opacity="0.85"/>
<circle cx="405.67" cy="158.92" r="0.85" fill="#f1d6d0" fill-opacity="0.85"/>
<circle cx="388.61" cy="131.28" r="0.85" fill="#f1d6d0" fill-opacity="0.85"/>
<circle cx="405.65" cy="133.09" r="0.85" fill="#f1d6d0" fill-opacity="0.85"/>
<circle cx="402.57" cy="141.09" r="0.85" fill="#f1d6d0" fill-opacity="0.85"/>
<circle cx="403.39" cy="160.94" r="0.85" fill="#f1d6d0" fill-opacity="0.85"/>
<circle cx="417.42" cy="154.73" r="0.85" fill="#d9d2d2" fill-opacity="0.85"/>
<circle cx="410.85" cy="138.00" r="0.85" fill="#f1d6d0" fill-opacity="0.85"/>
<circle cx="405.67" cy="143.06" r="0.85" fill="#f1d6d0" fill-opacity="0.85"/>
<circle cx="405.80" cy="167.78" r="0.85" fill="#f1d6d0" fill-opacity="0.85"/>
<circle cx="402.10" cy="131.87" r="0.85" fill="#f1d6d0" fill-opacity="0.85"/>
<circle cx="415.93" cy="128.90" r="0.85" fill="#f1d6d0" fill-opacity="0.85"/>
<circle cx="408.13" cy="139.56" r="0.85" fill="#f1d6d0" fill-opacity="0.85"/>
<circle cx="406.71" cy="151.32" r="0.85" fill="#f1d6d0" fill-opacity="0.85"/>
<circle cx="392.06" cy="166.70" r="0.85" fill="#f1d6d0" fill-opacity="0.85"/>
<circle cx="387.27" cy="165.79" r="0.85" fill="#f1d6d0" fill-opacity="0.85"/>
<circle cx="412.96" cy="150.80" r="0.85" fill="#f1d6d0" fill-opacity="0.85"/>
<circle cx="399.79" cy="148.43" r="0.85" fill="#f1d6d0" fill-opacity="0.85"/>
<circle cx="401.07" cy="162.84" r="0.85" fill="#f1d6d0" fill-opacity="0.85"/>
<circle cx="402.79" cy="135.49" r="0.85" fill="#f1d6d0" fill-opacity="0.85"/>
<circle cx="393.68" cy="166.08" r="0.85" fill="#f1d6d0" fill-opacity="0.85"/>
<circle cx="408.77" cy="153.06" r="0.85" fill="#f1d6d0" fill-opacity="0.85"/>
<circle cx="396.80" cy="152.85" r="0.85" fill="#f1d6d0" fill-opacity="0.85"/>
<circle cx="383.18" cy="150.78" r="0.85" fill="#f1d6d0" fill-opacity="0.85"/>
<circle cx="378.39" cy="167.85" r="0.85" fill="#f1d6d0" fill-opacity="0.85"/>
<circle cx="403.75" cy="142.31" r="0.85" fill="#f1d6d0" fill-opacity="0.85"/>
<circle cx="400.60" cy="153.40" r="0.85" fill="#f1d6d0" fill-opacity="0.85"/>
<circle cx="388.26" cy="140.47" r="0.85" fill="#f1d6d0" fill-opacity="0.85"/>
<circle cx="387.97" cy="164.08" r="0.85" fill="#f1d6d0" fill-opacity="0.85"/>
<circle cx="400.83" cy="150.90" r="0.85" fill="#f1d6d0" fill-opacity="0.85"/>
<circle cx="425.24" cy="137.41" r="0.85" fill="#d9d2d2" fill-opacity="0.85"/>
<circle cx="398.52" cy="142.14" r="0.85" fill="#f1d6d0" fill-opacity="0.85"/>
<circle cx="408.34" cy="155.43" r="0.85" fill="#f1d6d0" fill-opacity="0.85"/>
<circle cx="380.43" cy="147.03" r="0.85" fill="#f1d6d0" fill-opacity="0.85"/>
<circle cx="355.61" cy="137.26" r="0.85" fill="#f1d6d0" fill-opacity="0.85"/>
<circle cx="394.56" cy="160.99" r="0.85" fill="#f1d6d0" fill-opacity="0.85"/>
<circle cx="415.35" cy="138.58" r="0.85" fill="#f1d6d0" fill-opacity="0.85"/>
<circle cx="383.36" cy="136.77" r="0.85" fill="#f1d6d0" fill-opacity="0.85"/>
<circle cx="370.80" cy="133.48" r="0.85" fill="#f1d6d0" fill-opacity="0.85"/>
<circle cx="412.37" cy="142.61" r="0.85" fill="#f1d6d0" fill-opacity="0.85"/>
<circle cx="398.23" cy="155.38" r="0.85" fill="#f1d6d0" fill-opacity="0.85"/>
<circle cx="371.84" cy="141.28" r="0.85" fill="#f1d6d0" fill-opacity="0.85"/>
<circle cx="357.35" cy="157.38" r="0.85" fill="#f1d6d0" fill-opacity="0.85"/>
<circle cx="391.83" cy="167.84" r="0.85" fill="#f1d6d0" fill-opacity="0.85"/>
<circle cx="382.03" cy="145.51" r="0.85" fill="#f1d6d0" fill-opacity="0.85"/>
<circle cx="405.27" cy="161.32" r="0.85" fill="#f1d6d0" fill-opacity="0.85"/>
<circle cx="433.03" cy="144.34" r="0.85" fill="#d9d2d2" fill-opacity="0.85"/>
<circle cx="380.49" cy="144.61" r="0.85" fill="#f1d6d0" fill-opacity="0.85"/>
<circle cx="400.55" cy="149.89" r="0.85" fill="#f1d6d0" fill-opacity="0.85"/>
<circle cx="384.97" cy="129.49" r="0.85" fill="#f1d6d0" fill-opacity="0.85"/>
<circle cx="406.85" cy="142.84" r="0.85" fill="#f1d6d0" fill-opacity="0.85"/>
<circle cx="417.19" cy="130.40" r="0.85" fill="#d9d2d2" fill-opacity="0.85"/>
<circle cx="353.22" cy="146.49" r="0.85" fill="#f1d6d0" fill-opacity="0.85"/>
<circle cx="415.20" cy="160.47" r="0.85" fill="#f1d6d0" fill-opacity="0.85"/>
<circle cx="386.01" cy="166.93" r="0.85" fill="#f1d6d0" fill-opacity="0.85"/>
<circle cx="368.16" cy="156.10" r="0.85" fill="#f1d6d0" fill-opacity="0.85"/>
<circle cx="359.76" cy="160.67" r="0.85" fill="#f1d6d0" fill-opacity="0.85"/>
<circle cx="429.65" cy="149.20" r="0.85" fill="#d9d2d2" fill-opacity="0.85"/>
<circle cx="395.21" cy="130.99" r="0.85" fill="#f1d6d0" fill-opacity="0.85"/>
<circle cx="400.42" cy="129.71" r="0.85" fill="#f1d6d0" fill-opacity="0.85"/>
<circle cx="406.48" cy="138.11" r="0.85" fill="#f1d6d0" fill-opacity="0.85"/>
<circle cx="357.84" cy="147.24" r="0.85" fill="#f1d6d0" fill-opacity="0.85"/>
<circle cx="416.98" cy="167.06" r="0.85" fill="#d9d2d2" fill-opacity="0.85"/>
<circle cx="431.77" cy="163.73" r="0.85" fill="#d9d2d2" fill-opacity="0.85"/>
<circle cx="392.09" cy="163.43" r="0.85" fill="#f1d6d0" fill-opacity="0.85"/>
<circle cx="394.14" cy="146.67" r="0.85" fill="#f1d6d0" fill-opacity="0.85"/>
<circle cx="356.31" cy="132.00" r="0.85" fill="#f1d6d0" fill-opacity="0.85"/>
<circle cx="387.66" cy="150.15" r="0.85" fill="#f1d6d0" fill-opacity="0.85"/>
<circle cx="403.00" cy="156.49" r="0.85" fill="#f1d6d0" fill-opacity="0.85"/>
<circle cx="375.98" cy="144.81" r="0.85" fill="#f1d6d0" fill-opacity="0.85"/>
<circle cx="399.78" cy="159.51" r="0.85" fill="#f1d6d0" fill-opacity="0.85"/>
<circle cx="413.28" cy="159.06" r="0.85" fill="#f1d6d0" fill-opacity="0.85"/>
<circle cx="352.45" cy="160.88" r="0.85" fill="#f1d6d0" fill-opacity="0.85"/>
<circle cx="354.94" cy="163.84" r="0.85" fill="#f1d6d0" fill-opacity="0.85"/>
<circle cx="416.58" cy="155.56" r="0.85" fill="#d9d2d2" fill-opacity="0.85"/>
<circle cx="428.95" cy="140.80" r="0.85" fill="#d9d2d2" fill-opacity="0.85"/>
<circle cx="355.58" cy="130.00" r="0.85" fill="#f1d6d0" fill-opacity="0.85"/>
<circle cx="433.01" cy="166.32" r="0.85" fill="#d9d2d2" fill-opacity="0.85"/>
<circle cx="429.64" cy="154.03" r="0.85" fill="#d9d2d2" fill-opacity="0.85"/>
<circle cx="392.59" cy="130.72" r="0.85" fill="#f1d6d0" fill-opacity="0.85"/>
<circle cx="372.34" cy="150.29" r="0.85" fill="#f1d6d0" fill-opacity="0.85"/>
<circle cx="432.39" cy="141.91" r="0.85" fill="#d9d2d2" fill-opacity="0.85"/>
<circle cx="391.79" cy="130.46" r="0.85" fill="#f1d6d0" fill-opacity="0.85"/>
<circle cx="421.95" cy="146.98" r="0.85" fill="#d9d2d2" fill-opacity="0.85"/>
<circle cx="361.20" cy="146.12" r="0.85" fill="#f1d6d0" fill-opacity="0.85"/>
<circle cx="390.69" cy="162.29" r="0.85" fill="#f1d6d0" fill-opacity="0.85"/>
<circle cx="355.75" cy="150.10" r="0.85" fill="#f1d6d0" fill-opacity="0.85"/>
<circle cx="362.00" cy="153.51" r="0.85" fill="#f1d6d0" fill-opacity="0.85"/>
<circle cx="409.07" cy="153.01" r="0.85" fill="#f1d6d0" fill-opacity="0.85"/>
<circle cx="373.94" cy="147.87" r="0.85" fill="#f1d6d0" fill-opacity="0.85"/>
<circle cx="387.56" cy="139.50" r="0.85" fill="#f1d6d0" fill-opacity="0.85"/>
<circle cx="397.19" cy="129.59" r="0.85" fill="#f1d6d0" fill-opacity="0.85"/>
<circle cx="433.72" cy="141.41" r="0.85" fill="#d9d2d2" fill-opacity="0.85"/>
<circle cx="371.88" cy="165.16" r="0.85" fill="#f1d6d0" fill-opacity="0.85"/>
<circle cx="428.53" cy="139.22" r="0.85" fill="#d9d2d2" fill-opacity="0.85"/>
<circle cx="405.35" cy="156.73" r="0.85" fill="#f1d6d0" fill-opacity="0.85"/>
<circle cx="374.75" cy="143.54" r="0.85" fill="#f1d6d0" fill-opacity="0.85"/>
<circle cx="400.15" cy="147.48" r="0.85" fill="#f1d6d0" fill-opacity="0.85"/>
<circle cx="406.05" cy="140.58" r="0.85" fill="#f1d6d0" fill-opacity="0.85"/>
<circle cx="367.67" cy="160.74" r="0.85" fill="#f1d6d0" fill-opacity="0.85"/>
<circle cx="436.06" cy="133.34" r="0.85" fill="#d9d2d2" fill-opacity="0.85"/>
<circle cx="427.32" cy="167.20" r="0.85" fill="#d9d2d2" fill-opacity="0.85"/>
<circle cx="356.50" cy="159.96" r="0.85" fill="#f1d6d0" fill-opacity="0.85"/>
<circle cx="388.05" cy="146.15" r="0.85" fill="#f1d6d0" fill-opacity="0.85"/>
<circle cx="360.11" cy="149.54" r="0.85" fill="#f1d6d0" fill-opacity="0.85"/>
<circle cx="357.52" cy="165.96" r="0.85" fill="#f1d6d0" fill-opacity="0.85"/>
<circle cx="409.79" cy="149.18" r="0.85" fill="#f1d6d0" fill-opacity="0.85"/>
<circle cx="405.88" cy="156.20" r="0.85" fill="#f1d6d0" fill-opacity="0.85"/>
<circle cx="392.67" cy="162.06" r="0.85" fill="#f1d6d0" fill-opacity="0.85"/>
<circle cx="381.00" cy="140.95" r="0.85" fill="#f1d6d0" fill-opacity="0.85"/>
<circle cx="423.84" cy="166.30" r="0.85" fill="#d9d2d2" fill-opacity="0.85"/>
<circle cx="361.61" cy="138.12" r="0.85" fill="#f1d6d0" fill-opacity="0.85"/>
<circle cx="405.24" cy="139.90" r="0.85" fill="#f1d6d0" fill-opacity="0.85"/>
<circle cx="369.70" cy="154.23" r="0.85" fill="#f1d6d0" fill-opacity="0.85"/>
<circle cx="373.58" cy="138.09" r="0.85" fill="#f1d6d0" fill-opacity="0.85"/>
<circle cx="383.18" cy="144.87" r="0.85" fill="#f1d6d0" fill-opacity="0.85"/>
<circle cx="436.88" cy="157.99" r="0.85" fill="#d9d2d2" fill-opacity="0.85"/>
<circle cx="398.74" cy="140.90" r="0.85" fill="#f1d6d0" fill-opacity="0.85"/>
<circle cx="430.97" cy="154.10" r="0.85" fill="#d9d2d2" fill-opacity="0.85"/>
<circle cx="383.21" cy="165.66" r="0.85" fill="#f1d6d0" fill-opacity="0.85"/>
<circle cx="427.01" cy="166.18" r="0.85" fill="#d9d2d2" fill-opacity="0.85"/>
<circle cx="358.43" cy="148.62" r="0.85" fill="#f1d6d0" fill-opacity="0.85"/>
<circle cx="393.22" cy="143.52" r="0.85" fill="#f1d6d0" fill-opacity="0.85"/>
<circle cx="377.12" cy="139.61" r="0.85" fill="#f1d6d0" fill-opacity="0.85"/>
<circle cx="357.83" cy="161.97" r="0.85" fill="#f1d6d0" fill-opacity="0.85"/>
<circle cx="408.56" cy="166.09" r="0.85" fill="#f1d6d0" fill-opacity="0.85"/>
<circle cx="377.54" cy="141.81" r="0.85" fill="#f1d6d0" fill-opacity="0.85"/>
<circle cx="411.32" cy="159.53" r="0.85" fill="#f1d6d0" fill-opacity="0.85"/>
<circle cx="363.61" cy="156.78" r="0.85" fill="#f1d6d0" fill-opacity="0.85"/>
<circle cx="414.09" cy="156.45" r="0.85" fill="#f1d6d0" fill-opacity="0.85"/>
<circle cx="361.40" cy="142.49" r="0.85" fill="#f1d6d0" fill-opacity="0.85"/>
<circle cx="400.53" cy="133.21" r="0.85" fill="#f1d6d0" fill-opacity="0.85"/>
<circle cx="432.62" cy="133.45" r="0.85" fill="#d9d2d2" fill-opacity="0.85"/>
<circle cx="389.16" cy="138.39" r="0.85" fill="#f1d6d0" fill-opacity="0.85"/>
<circle cx="377.63" cy="158.27" r="0.85" fill="#f1d6d0" fill-opacity="0.85"/>
<circle cx="385.84" cy="132.48" r="0.85" fill="#f1d6d0" fill-opacity="0.85"/>
<circle cx="428.71" cy="160.76" r="0.85" fill="#d9d2d2" fill-opacity="0.85"/>
<circle cx="382.56" cy="156.49" r="0.85" fill="#f1d6d0" fill-opacity="0.85"/>
<circle cx="382.70" cy="155.34" r="0.85" fill="#f1d6d0" fill-opacity="0.85"/>
<circle cx="384.80" cy="162.58" r="0.85" fill="#f1d6d0" fill-opacity="0.85"/>
<circle cx="400.05" cy="138.66" r="0.85" fill="#f1d6d0" fill-opacity="0.85"/>
<circle cx="398.04" cy="136.91" r="0.85" fill="#f1d6d0" fill-opacity="0.85"/>
<circle cx="399.97" cy="163.19" r="0.85" fill="#f1d6d0" fill-opacity="0.85"/>
<circle cx="416.95" cy="134.92" r="0.85" fill="#d9d2d2" fill-opacity="0.85"/>
<circle cx="375.61" cy="167.60" r="0.85" fill="#f1d6d0" fill-opacity="0.85"/>
<circle cx="395.88" cy="149.44" r="0.85" fill="#f1d6d0" fill-opacity="0.85"/>
<circle cx="400.37" cy="131.03" r="0.85" fill="#f1d6d0" fill-opacity="0.85"/>
<circle cx="407.62" cy="138.34" r="0.85" fill="#f1d6d0" fill-opacity="0.85"/>
<circle cx="356.79" cy="149.33" r="0.85" fill="#f1d6d0" fill-opacity="0.85"/>
<circle cx="419.47" cy="166.03" r="0.85" fill="#d9d2d2" fill-opacity="0.85"/>
<circle cx="358.31" cy="141.29" r="0.85" fill="#f1d6d0" fill-opacity="0.85"/>
<circle cx="429.08" cy="166.01" r="0.85" fill="#d9d2d2" fill-opacity="0.85"/>
<circle cx="406.14" cy="164.24" r="0.85" fill="#f1d6d0" fill-opacity="0.85"/>
<circle cx="415.81" cy="145.07" r="0.85" fill="#f1d6d0" fill-opacity="0.85"/>
<circle cx="372.49" cy="161.72" r="0.85" fill="#f1d6d0" fill-opacity="0.85"/>
<circle cx="417.50" cy="150.36" r="0.85" fill="#d9d2d2" fill-opacity="0.85"/>
<circle cx="417.45" cy="155.39" r="0.85" fill="#d9d2d2" fill-opacity="0.85"/>
<circle cx="380.49" cy="130.94" r="0.85" fill="#f1d6d0" fill-opacity="0.85"/>
<circle cx="409.46" cy="151.49" r="0.85" fill="#f1d6d0" fill-opacity="0.85"/>
<circle cx="397.76" cy="141.99" r="0.85" fill="#f1d6d0" fill-opacity="0.85"/>
<circle cx="412.55" cy="133.38" r="0.85" fill="#f1d6d0" fill-opacity="0.85"/>
<circle cx="386.79" cy="137.37" r="0.85" fill="#f1d6d0" fill-opacity="0.85"/>
<circle cx="408.97" cy="136.15" r="0.85" fill="#f1d6d0" fill-opacity="0.85"/>
<circle cx="421.02" cy="137.03" r="0.85" fill="#d9d2d2" fill-opacity="0.85"/>
<circle cx="428.18" cy="131.42" r="0.85" fill="#d9d2d2" fill-opacity="0.85"/>
<circle cx="406.67" cy="150.27" r="0.85" fill="#f1d6d0" fill-opacity="0.85"/>
<circle cx="412.72" cy="138.43" r="0.85" fill="#f1d6d0" fill-opacity="0.85"/>
<circle cx="387.74" cy="154.38" r="0.85" fill="#f1d6d0" fill-opacity="0.85"/>
<circle cx="363.90" cy="141.11" r="0.85" fill="#f1d6d0" fill-opacity="0.85"/>
<circle cx="437.04" cy="156.11" r="0.85" fill="#d9d2d2" fill-opacity="0.85"/>
<circle cx="365.76" cy="162.27" r="0.85" fill="#f1d6d0" fill-opacity="0.85"/>
<circle cx="388.03" cy="159.21" r="0.85" fill="#f1d6d0" fill-opacity="0.85"/>
<circle cx="435.20" cy="166.70" r="0.85" fill="#d9d2d2" fill-opacity="0.85"/>
<circle cx="377.95" cy="165.13" r="0.85" fill="#f1d6d0" fill-opacity="0.85"/>
<circle cx="407.34" cy="139.59" r="0.85" fill="#f1d6d0" fill-opacity="0.85"/>
<circle cx="366.78" cy="166.62" r="0.85" fill="#f1d6d0" fill-opacity="0.85"/>
<circle cx="390.96" cy="147.80" r="0.85" fill="#f1d6d0" fill-opacity="0.85"/>
<circle cx="429.97" cy="167.28" r="0.85" fill="#d9d2d2" fill-opacity="0.85"/>
<circle cx="360.65" cy="162.93" r="0.85" fill="#f1d6d0" fill-opacity="0.85"/>
<circle cx="370.06" cy="161.21" r="0.85" fill="#f1d6d0" fill-opacity="0.85"/>
<circle cx="413.34" cy="147.35" r="0.85" fill="#f1d6d0" fill-opacity="0.85"/>
<circle cx="370.63" cy="162.92" r="0.85" fill="#f1d6d0" fill-opacity="0.85"/>
<circle cx="375.57" cy="163.32" r="0.85" fill="#f1d6d0" fill-opacity="0.85"/>
<circle cx="416.82" cy="158.49" r="0.85" fill="#d9d2d2" fill-opacity="0.85"/>
<circle cx="398.71" cy="137.77" r="0.85" fill="#f1d6d0" fill-opacity="0.85"/>
<circle cx="392.75" cy="160.33" r="0.85" fill="#f1d6d0" fill-opacity="0.85"/>
<circle cx="428.07" cy="133.41" r="0.85" fill="#d9d2d2" fill-opacity="0.85"/>
<circle cx="380.86" cy="149.31" r="0.85" fill="#f1d6d0" fill-opacity="0.85"/>
<circle cx="434.10" cy="151.93" r="0.85" fill="#d9d2d2" fill-opacity="0.85"/>
<circle cx="370.37" cy="166.95" r="0.85" fill="#f1d6d0" fill-opacity="0.85"/>
<circle cx="433.28" cy="138.47" r="0.85" fill="#d9d2d2" fill-opacity="0.85"/>
<circle cx="384.57" cy="150.12" r="0.85" fill="#f1d6d0" fill-opacity="0.85"/>
<circle cx="332.34" cy="159.48" r="0.85" fill="#f1d6d0" fill-opacity="0.85"/>
<circle cx="353.76" cy="145.74" r="0.85" fill="#f1d6d0" fill-opacity="0.85"/>
<circle cx="319.79" cy="167.76" r="0.85" fill="#f1d6d0" fill-opacity="0.85"/>
<circle cx="330.40" cy="156.12" r="0.85" fill="#f1d6d0" fill-opacity="0.85"/>
<circle cx="345.03" cy="143.65" r="0.85" fill="#f1d6d0" fill-opacity="0.85"/>
<circle cx="336.42" cy="163.38" r="0.85" fill="#f1d6d0" fill-opacity="0.85"/>
<circle cx="316.14" cy="157.86" r="0.85" fill="#f1d6d0" fill-opacity="0.85"/>
<circle cx="320.77" cy="137.73" r="0.85" fill="#f1d6d0" fill-opacity="0.85"/>
<circle cx="332.36" cy="146.50" r="0.85" fill="#f1d6d0" fill-opacity="0.85"/>
<circle cx="353.89" cy="159.76" r="0.85" fill="#f1d6d0" fill-opacity="0.85"/>
<circle cx="333.19" cy="163.60" r="0.85" fill="#f1d6d0" fill-opacity="0.85"/>
<circle cx="343.83" cy="167.98" r="0.85" fill="#f1d6d0" fill-opacity="0.85"/>
<circle cx="346.14" cy="138.62" r="0.85" fill="#f1d6d0" fill-opacity="0.85"/>
<circle cx="346.17" cy="165.73" r="0.85" fill="#f1d6d0" fill-opacity="0.85"/>
<circle cx="321.24" cy="143.53" r="0.85" fill="#f1d6d0" fill-opacity="0.85"/>
<circle cx="313.45" cy="152.25" r="0.85" fill="#f1d6d0" fill-opacity="0.85"/>
<circle cx="330.22" cy="134.41" r="0.85" fill="#f1d6d0" fill-opacity="0.85"/>
<circle cx="335.54" cy="138.19" r="0.85" fill="#f1d6d0" fill-opacity="0.85"/>
<circle cx="322.76" cy="140.78" r="0.85" fill="#f1d6d0" fill-opacity="0.85"/>
<circle cx="327.88" cy="135.91" r="0.85" fill="#f1d6d0" fill-opacity="0.85"/>
<circle cx="313.17" cy="139.37" r="0.85" fill="#f1d6d0" fill-opacity="0.85"/>
<circle cx="318.47" cy="149.95" r="0.85" fill="#f1d6d0" fill-opacity="0.85"/>
<circle cx="332.79" cy="163.38" r="0.85" fill="#f1d6d0" fill-opacity="0.85"/>
<circle cx="346.62" cy="158.22" r="0.85" fill="#f1d6d0" fill-opacity="0.85"/>
<circle cx="323.09" cy="165.93" r="0.85" fill="#f1d6d0" fill-opacity="0.85"/>
<circle cx="322.86" cy="152.71" r="0.85" fill="#f1d6d0" fill-opacity="0.85"/>
<circle cx="341.34" cy="156.53" r="0.85" fill="#f1d6d0" fill-opacity="0.85"/>
<circle cx="340.08" cy="165.02" r="0.85" fill="#f1d6d0" fill-opacity="0.85"/>
<circle cx="326.86" cy="152.91" r="0.85" fill="#f1d6d0" fill-opacity="0.85"/>
<circle cx="352.71" cy="139.24" r="0.85" fill="#f1d6d0" fill-opacity="0.85"/>
<circle cx="338.58" cy="167.72" r="0.85" fill="#f1d6d0" fill-opacity="0.85"/>
<circle cx="326.08" cy="143.77" r="0.85" fill="#f1d6d0" fill-opacity="0.85"/>
<circle cx="319.78" cy="149.19" r="0.85" fill="#f1d6d0" fill-opacity="0.85"/>
<circle cx="329.74" cy="167.77" r="0.85" fill="#f1d6d0" fill-opacity="0.85"/>
<circle cx="353.82" cy="140.40" r="0.85" fill="#f1d6d0" fill-opacity="0.85"/>
<circle cx="318.39" cy="147.28" r="0.85" fill="#f1d6d0" fill-opacity="0.85"/>
<circle cx="322.17" cy="155.96" r="0.85" fill="#f1d6d0" fill-opacity="0.85"/>
<circle cx="333.43" cy="158.67" r="0.85" fill="#f1d6d0" fill-opacity="0.85"/>
<circle cx="384.54" cy="167.04" r="0.85" fill="#f1d6d0" fill-opacity="0.85"/>
<circle cx="386.61" cy="167.04" r="0.85" fill="#f1d6d0" fill-opacity="0.85"/>
<circle cx="388.68" cy="167.04" r="0.85" fill="#f1d6d0" fill-opacity="0.85"/>
<circle cx="390.76" cy="167.04" r="0.85" fill="#f1d6d0" fill-opacity="0.85"/>
<circle cx="392.83" cy="167.04" r="0.85" fill="#f1d6d0" fill-opacity="0.85"/>
<circle cx="394.90" cy="167.04" r="0.85" fill="#f1d6d0" fill-opacity="0.85"/>
<circle cx="396.97" cy="167.04" r="0.85" fill="#f1d6d0" fill-opacity="0.85"/>
<circle cx="399.04" cy="167.04" r="0.85" fill="#f1d6d0" fill-opacity="0.85"/>
<circle cx="401.12" cy="167.04" r="0.85" fill="#f1d6d0" fill-opacity="0.85"/>
<circle cx="403.19" cy="167.04" r="0.85" fill="#f1d6d0" fill-opacity="0.85"/>
<circle cx="405.26" cy="167.04" r="0.85" fill="#f1d6d0" fill-opacity="0.85"/>
<circle cx="407.33" cy="167.04" r="0.85" fill="#f1d6d0" fill-opacity="0.85"/>
<circle cx="409.40" cy="167.04" r="0.85" fill="#f1d6d0" fill-opacity="0.85"/>
<circle cx="411.48" cy="167.04" r="0.85" fill="#f1d6d0" fill-opacity="0.85"/>
<circle cx="454.02" cy="150.94" r="0.85" fill="#d9d2d2" fill-opacity="0.85"/>
<circle cx="467.67" cy="155.73" r="0.85" fill="#d9d2d2" fill-opacity="0.85"/>
<circle cx="448.33" cy="138.96" r="0.85" fill="#d9d2d2" fill-opacity="0.85"/>
<circle cx="453.69" cy="131.42" r="0.85" fill="#d9d2d2" fill-opacity="0.85"/>
<circle cx="463.36" cy="139.23" r="0.85" fill="#d9d2d2" fill-opacity="0.85"/>
<circle cx="453.78" cy="135.59" r="0.85" fill="#d9d2d2" fill-opacity="0.85"/>
<circle cx="443.86" cy="159.82" r="0.85" fill="#d9d2d2" fill-opacity="0.85"/>
<circle cx="443.95" cy="140.86" r="0.85" fill="#d9d2d2" fill-opacity="0.85"/>
<circle cx="469.39" cy="158.44" r="0.85" fill="#d9d2d2" fill-opacity="0.85"/>
<circle cx="437.52" cy="165.43" r="0.85" fill="#d9d2d2" fill-opacity="0.85"/>
<circle cx="437.52" cy="159.97" r="0.85" fill="#d9d2d2" fill-opacity="0.85"/>
<circle cx="437.52" cy="154.52" r="0.85" fill="#d9d2d2" fill-opacity="0.85"/>
<circle cx="437.52" cy="149.06" r="0.85" fill="#d9d2d2" fill-opacity="0.85"/>
<circle cx="437.52" cy="143.60" r="0.85" fill="#d9d2d2" fill-opacity="0.85"/>
<line x1="383.80" y1="18.8" x2="383.80" y2="176.20" stroke="#666" stroke-width="1.05" stroke-dasharray="3.2,1.2"/>
<line x1="413.40" y1="18.8" x2="413.40" y2="176.20" stroke="#666" stroke-width="1.05" stroke-dasharray="3.2,1.2"/>
<line x1="302.50" y1="126.24" x2="492.3" y2="126.24" stroke="#dc6e76" stroke-width="1.05" stroke-dasharray="3.3,1.3"/>
<text x="490.00" y="133.00" font-size="8.3" text-anchor="start" fill="#222" stroke="#222" stroke-width="0.183">0.05</text>
<circle cx="391.30" cy="65.20" r="3.00" fill="#efd5cc" stroke="#e6c2b8" stroke-width="0.5"/>
<circle cx="410.20" cy="72.70" r="2.60" fill="#efd5cc" stroke="#e6c2b8" stroke-width="0.5"/>
<circle cx="389.40" cy="83.00" r="1.50" fill="#efd5cc" stroke="#e6c2b8" stroke-width="0.5"/>
<circle cx="405.60" cy="97.50" r="3.20" fill="#efd5cc" stroke="#e6c2b8" stroke-width="0.5"/>
<circle cx="392.30" cy="104.20" r="3.00" fill="#efd5cc" stroke="#e6c2b8" stroke-width="0.5"/>
<circle cx="405.00" cy="98.50" r="3.50" fill="#efd5cc" stroke="#e6c2b8" stroke-width="0.5"/>
<circle cx="403.80" cy="103.00" r="3.50" fill="#efd5cc" stroke="#e6c2b8" stroke-width="0.5"/>
<circle cx="408.50" cy="110.00" r="3.00" fill="#efd5cc" stroke="#e6c2b8" stroke-width="0.5"/>
<circle cx="388.80" cy="82.80" r="1.50" fill="#efd5cc" stroke="#e6c2b8" stroke-width="0.5"/>
<circle cx="398.00" cy="113.50" r="2.20" fill="#efd5cc" stroke="#e6c2b8" stroke-width="0.5"/>
<circle cx="395.50" cy="118.00" r="1.80" fill="#efd5cc" stroke="#e6c2b8" stroke-width="0.5"/>
<circle cx="401.00" cy="120.50" r="2.50" fill="#efd5cc" stroke="#e6c2b8" stroke-width="0.5"/>
<circle cx="407.00" cy="118.50" r="2.00" fill="#efd5cc" stroke="#e6c2b8" stroke-width="0.5"/>
<circle cx="386.50" cy="108.50" r="1.50" fill="#efd5cc" stroke="#e6c2b8" stroke-width="0.5"/>
<circle cx="411.00" cy="122.00" r="1.80" fill="#efd5cc" stroke="#e6c2b8" stroke-width="0.5"/>
<circle cx="396.00" cy="123.50" r="1.60" fill="#efd5cc" stroke="#e6c2b8" stroke-width="0.5"/>
<circle cx="390.00" cy="121.00" r="1.40" fill="#efd5cc" stroke="#e6c2b8" stroke-width="0.5"/>
<circle cx="403.00" cy="125.00" r="1.60" fill="#efd5cc" stroke="#e6c2b8" stroke-width="0.5"/>
<circle cx="453.20" cy="27.70" r="2.60" fill="#a0567b" stroke="#8a4266" stroke-width="0.45"/>
<circle cx="446.50" cy="42.30" r="1.40" fill="#a0567b" stroke="#8a4266" stroke-width="0.45"/>
<circle cx="423.60" cy="57.60" r="1.60" fill="#a0567b" stroke="#8a4266" stroke-width="0.45"/>
<circle cx="425.00" cy="60.60" r="2.00" fill="#a0567b" stroke="#8a4266" stroke-width="0.45"/>
<circle cx="433.30" cy="67.30" r="2.00" fill="#a0567b" stroke="#8a4266" stroke-width="0.45"/>
<circle cx="428.00" cy="77.00" r="1.90" fill="#a0567b" stroke="#8a4266" stroke-width="0.45"/>
<circle cx="431.80" cy="81.50" r="3.00" fill="#a0567b" stroke="#8a4266" stroke-width="0.45"/>
<circle cx="419.50" cy="95.70" r="1.80" fill="#a0567b" stroke="#8a4266" stroke-width="0.45"/>
<circle cx="425.10" cy="93.20" r="3.50" fill="#a0567b" stroke="#8a4266" stroke-width="0.45"/>
<circle cx="418.40" cy="103.00" r="2.00" fill="#a0567b" stroke="#8a4266" stroke-width="0.45"/>
<circle cx="445.40" cy="108.20" r="2.50" fill="#a0567b" stroke="#8a4266" stroke-width="0.45"/>
<circle cx="419.50" cy="109.30" r="1.80" fill="#a0567b" stroke="#8a4266" stroke-width="0.45"/>
<circle cx="415.00" cy="114.60" r="4.60" fill="#a0567b" stroke="#8a4266" stroke-width="0.45"/>
<circle cx="428.50" cy="112.80" r="3.50" fill="#a0567b" stroke="#8a4266" stroke-width="0.45"/>
<circle cx="435.20" cy="114.00" r="2.00" fill="#a0567b" stroke="#8a4266" stroke-width="0.45"/>
<circle cx="418.00" cy="123.50" r="1.60" fill="#a0567b" stroke="#8a4266" stroke-width="0.45"/>
<circle cx="421.00" cy="122.00" r="1.30" fill="#a0567b" stroke="#8a4266" stroke-width="0.45"/>
<circle cx="424.00" cy="124.80" r="1.80" fill="#a0567b" stroke="#8a4266" stroke-width="0.45"/>
<circle cx="427.50" cy="123.00" r="1.40" fill="#a0567b" stroke="#8a4266" stroke-width="0.45"/>
<circle cx="431.00" cy="124.00" r="1.60" fill="#a0567b" stroke="#8a4266" stroke-width="0.45"/>
<circle cx="434.00" cy="121.80" r="1.20" fill="#a0567b" stroke="#8a4266" stroke-width="0.45"/>
<circle cx="416.50" cy="125.50" r="1.40" fill="#a0567b" stroke="#8a4266" stroke-width="0.45"/>
<circle cx="373.00" cy="46.50" r="1.90" fill="#1e1a3a"/>
<circle cx="363.50" cy="118.00" r="2.30" fill="#1e1a3a"/>
<circle cx="372.70" cy="114.60" r="2.10" fill="#1e1a3a"/>
<circle cx="381.20" cy="113.50" r="2.10" fill="#1e1a3a"/>
<circle cx="368.80" cy="121.00" r="2.00" fill="#1e1a3a"/>
<circle cx="366.50" cy="124.30" r="2.10" fill="#1e1a3a"/>
<circle cx="378.50" cy="123.80" r="1.90" fill="#1e1a3a"/>
<text x="376.80" y="54.80" font-size="6.3" text-anchor="end" fill="#2a2a2a" stroke="#2a2a2a" stroke-width="0.139">PPP1R9A</text>
<text x="452.30" y="31.50" font-size="6.3" text-anchor="end" fill="#2a2a2a" stroke="#2a2a2a" stroke-width="0.139">LCE6A</text>
<text x="443.80" y="44.30" font-size="6.3" text-anchor="end" fill="#2a2a2a" stroke="#2a2a2a" stroke-width="0.139">TRIM40</text>
<text x="425.80" y="56.00" font-size="6.3" text-anchor="start" fill="#2a2a2a" stroke="#2a2a2a" stroke-width="0.139">HECW1</text>
<text x="427.00" y="62.80" font-size="6.3" text-anchor="start" fill="#2a2a2a" stroke="#2a2a2a" stroke-width="0.139">HTR1D</text>
<text x="437.00" y="69.50" font-size="6.3" text-anchor="start" fill="#2a2a2a" stroke="#2a2a2a" stroke-width="0.139">PLIN1</text>
<text x="430.60" y="76.20" font-size="6.3" text-anchor="start" fill="#2a2a2a" stroke="#2a2a2a" stroke-width="0.139">HOXA9</text>
<text x="435.70" y="82.40" font-size="6.3" text-anchor="start" fill="#2a2a2a" stroke="#2a2a2a" stroke-width="0.139">SYNGR3</text>
<text x="400.00" y="93.70" font-size="6.3" text-anchor="start" fill="#2a2a2a" stroke="#2a2a2a" stroke-width="0.139">KPNA7</text>
<text x="429.80" y="94.20" font-size="6.3" text-anchor="start" fill="#2a2a2a" stroke="#2a2a2a" stroke-width="0.139">C1orf68</text>
<text x="421.80" y="105.20" font-size="6.3" text-anchor="start" fill="#2a2a2a" stroke="#2a2a2a" stroke-width="0.139">CLEC14A</text>
<text x="362.40" y="112.30" font-size="6.3" text-anchor="start" fill="#2a2a2a" stroke="#2a2a2a" stroke-width="0.139">SULF2</text>
<text x="383.90" y="114.00" font-size="6.3" text-anchor="start" fill="#2a2a2a" stroke="#2a2a2a" stroke-width="0.139">CLDN4</text>
<text x="360.40" y="120.80" font-size="6.3" text-anchor="end" fill="#2a2a2a" stroke="#2a2a2a" stroke-width="0.139">GPR39</text>
<text x="371.90" y="121.60" font-size="6.3" text-anchor="start" fill="#2a2a2a" stroke="#2a2a2a" stroke-width="0.139">ALDH1A1</text>
<text x="357.30" y="130.00" font-size="6.3" text-anchor="start" fill="#2a2a2a" stroke="#2a2a2a" stroke-width="0.139">SIM2</text>
<text x="381.20" y="125.40" font-size="6.3" text-anchor="start" fill="#2a2a2a" stroke="#2a2a2a" stroke-width="0.139">HLF</text>
<line x1="302.50" y1="17.40" x2="302.50" y2="176.20" stroke="#5a5a5a" stroke-width="0.9"/>
<line x1="302.50" y1="176.20" x2="496.60" y2="176.20" stroke="#5a5a5a" stroke-width="0.9"/>
<line x1="300.70" y1="168.00" x2="302.50" y2="168.00" stroke="#5a5a5a" stroke-width="0.8"/>
<text x="297.70" y="170.60" font-size="8.0" text-anchor="end" fill="#222" stroke="#222" stroke-width="0.176">0</text>
<line x1="300.70" y1="135.90" x2="302.50" y2="135.90" stroke="#5a5a5a" stroke-width="0.8"/>
<text x="297.70" y="138.50" font-size="8.0" text-anchor="end" fill="#222" stroke="#222" stroke-width="0.176">1</text>
<line x1="300.70" y1="103.80" x2="302.50" y2="103.80" stroke="#5a5a5a" stroke-width="0.8"/>
<text x="297.70" y="106.40" font-size="8.0" text-anchor="end" fill="#222" stroke="#222" stroke-width="0.176">2</text>
<line x1="300.70" y1="71.70" x2="302.50" y2="71.70" stroke="#5a5a5a" stroke-width="0.8"/>
<text x="297.70" y="74.30" font-size="8.0" text-anchor="end" fill="#222" stroke="#222" stroke-width="0.176">3</text>
<line x1="300.70" y1="39.60" x2="302.50" y2="39.60" stroke="#5a5a5a" stroke-width="0.8"/>
<text x="297.70" y="42.20" font-size="8.0" text-anchor="end" fill="#222" stroke="#222" stroke-width="0.176">4</text>
<line x1="309.80" y1="176.20" x2="309.80" y2="178.00" stroke="#5a5a5a" stroke-width="0.8"/>
<text x="310.40" y="186.00" font-size="8.2" text-anchor="middle" fill="#222" stroke="#222" stroke-width="0.180">-6</text>
<line x1="339.40" y1="176.20" x2="339.40" y2="178.00" stroke="#5a5a5a" stroke-width="0.8"/>
<text x="340.00" y="186.00" font-size="8.2" text-anchor="middle" fill="#222" stroke="#222" stroke-width="0.180">-4</text>
<line x1="369.00" y1="176.20" x2="369.00" y2="178.00" stroke="#5a5a5a" stroke-width="0.8"/>
<text x="369.60" y="186.00" font-size="8.2" text-anchor="middle" fill="#222" stroke="#222" stroke-width="0.180">-2</text>
<line x1="398.60" y1="176.20" x2="398.60" y2="178.00" stroke="#5a5a5a" stroke-width="0.8"/>
<text x="398.60" y="186.00" font-size="8.2" text-anchor="middle" fill="#222" stroke="#222" stroke-width="0.180">0</text>
<line x1="428.20" y1="176.20" x2="428.20" y2="178.00" stroke="#5a5a5a" stroke-width="0.8"/>
<text x="428.20" y="186.00" font-size="8.2" text-anchor="middle" fill="#222" stroke="#222" stroke-width="0.180">2</text>
<line x1="457.80" y1="176.20" x2="457.80" y2="178.00" stroke="#5a5a5a" stroke-width="0.8"/>
<text x="457.80" y="186.00" font-size="8.2" text-anchor="middle" fill="#222" stroke="#222" stroke-width="0.180">4</text>
<line x1="487.40" y1="176.20" x2="487.40" y2="178.00" stroke="#5a5a5a" stroke-width="0.8"/>
<text x="487.40" y="186.00" font-size="8.2" text-anchor="middle" fill="#222" stroke="#222" stroke-width="0.180">6</text>
<text x="377" y="200.5" font-size="10.3" fill="#222">log<tspan font-size="6.2" dy="2.5">2</tspan><tspan dy="-2.5">(fold change)</tspan></text>
<text transform="translate(287.0 92.4) rotate(-90)" text-anchor="middle" font-size="10.4" fill="#222">−log<tspan font-size="6" dy="2.5">10</tspan><tspan dy="-2.5"> ( </tspan><tspan font-style="italic">P</tspan> value enhancer)</text>
<rect x="304.00" y="20.30" width="6.00" height="6.00" fill="#1e1a3a"/>
<text x="312.4" y="25.30" font-size="6.4" fill="#222">Up-regulated</text>
<rect x="304.00" y="29.80" width="6.00" height="6.00" fill="#a0567b"/>
<text x="312.4" y="34.80" font-size="6.4" fill="#222">Down-regulated</text>
<rect x="304.00" y="38.60" width="6.00" height="6.00" fill="#f0cfc6"/>
<text x="312.4" y="43.60" font-size="6.4" fill="#222">|log<tspan font-size="4.5" dy="1.5">2</tspan><tspan dy="-1.5">FC| &lt;1</tspan></text>
<text x="454.80" y="17.60" font-size="6.3" text-anchor="start" fill="#222" stroke="#222" stroke-width="0.139">No. of mutated samples</text>
<circle cx="477.80" cy="28.00" r="5.20" fill="#cacaca" stroke="#c0c0c0" stroke-width="0.5"/>
<text x="485.00" y="30.40" font-size="6.8" text-anchor="start" fill="#222" stroke="#222" stroke-width="0.150">40</text>
<circle cx="477.80" cy="40.40" r="3.60" fill="#cacaca" stroke="#c0c0c0" stroke-width="0.5"/>
<text x="485.00" y="42.80" font-size="6.8" text-anchor="start" fill="#222" stroke="#222" stroke-width="0.150">20</text>
<circle cx="477.80" cy="49.60" r="1.70" fill="#cacaca" stroke="#c0c0c0" stroke-width="0.5"/>
<text x="485.00" y="52.00" font-size="6.8" text-anchor="start" fill="#222" stroke="#222" stroke-width="0.150">5</text>
<circle cx="477.80" cy="57.30" r="1.10" fill="#cacaca" stroke="#c0c0c0" stroke-width="0.5"/>
<text x="485.00" y="59.70" font-size="6.8" text-anchor="start" fill="#222" stroke="#222" stroke-width="0.150">NS</text>
<text x="275.30" y="230.70" font-size="14" text-anchor="start" fill="#111" font-weight="bold">E</text>
<circle cx="306.00" cy="291.10" r="2.50" fill="#178680" stroke="#e4f8f8" stroke-width="0.85"/>
<circle cx="306.00" cy="294.30" r="2.50" fill="#178680" stroke="#e4f8f8" stroke-width="0.85"/>
<circle cx="306.00" cy="296.50" r="2.50" fill="#178680" stroke="#e4f8f8" stroke-width="0.85"/>
<circle cx="306.00" cy="300.00" r="2.50" fill="#178680" stroke="#e4f8f8" stroke-width="0.85"/>
<circle cx="306.00" cy="303.50" r="2.50" fill="#178680" stroke="#e4f8f8" stroke-width="0.85"/>
<circle cx="306.00" cy="305.70" r="2.50" fill="#178680" stroke="#e4f8f8" stroke-width="0.85"/>
<circle cx="306.00" cy="308.50" r="2.50" fill="#178680" stroke="#e4f8f8" stroke-width="0.85"/>
<circle cx="306.00" cy="312.30" r="2.50" fill="#178680" stroke="#e4f8f8" stroke-width="0.85"/>
<circle cx="306.00" cy="315.10" r="2.50" fill="#178680" stroke="#e4f8f8" stroke-width="0.85"/>
<circle cx="306.00" cy="317.30" r="2.50" fill="#178680" stroke="#e4f8f8" stroke-width="0.85"/>
<circle cx="306.00" cy="320.00" r="2.50" fill="#178680" stroke="#e4f8f8" stroke-width="0.85"/>
<circle cx="306.00" cy="321.90" r="2.50" fill="#178680" stroke="#e4f8f8" stroke-width="0.85"/>
<circle cx="306.00" cy="324.10" r="2.50" fill="#178680" stroke="#e4f8f8" stroke-width="0.85"/>
<circle cx="306.00" cy="327.00" r="2.50" fill="#178680" stroke="#e4f8f8" stroke-width="0.85"/>
<circle cx="306.00" cy="328.90" r="2.50" fill="#178680" stroke="#e4f8f8" stroke-width="0.85"/>
<circle cx="306.00" cy="331.10" r="2.50" fill="#178680" stroke="#e4f8f8" stroke-width="0.85"/>
<circle cx="306.00" cy="337.70" r="2.50" fill="#178680" stroke="#e4f8f8" stroke-width="0.85"/>
<circle cx="306.00" cy="341.90" r="2.50" fill="#178680" stroke="#e4f8f8" stroke-width="0.85"/>
<circle cx="306.00" cy="344.10" r="2.50" fill="#178680" stroke="#e4f8f8" stroke-width="0.85"/>
<circle cx="306.00" cy="347.00" r="2.50" fill="#178680" stroke="#e4f8f8" stroke-width="0.85"/>
<circle cx="306.00" cy="349.70" r="2.50" fill="#178680" stroke="#e4f8f8" stroke-width="0.85"/>
<circle cx="306.00" cy="351.90" r="2.50" fill="#178680" stroke="#e4f8f8" stroke-width="0.85"/>
<circle cx="306.00" cy="354.30" r="2.50" fill="#178680" stroke="#e4f8f8" stroke-width="0.85"/>
<circle cx="306.00" cy="356.50" r="2.50" fill="#178680" stroke="#e4f8f8" stroke-width="0.85"/>
<circle cx="306.00" cy="358.10" r="2.50" fill="#178680" stroke="#e4f8f8" stroke-width="0.85"/>
<circle cx="306.00" cy="360.30" r="2.50" fill="#178680" stroke="#e4f8f8" stroke-width="0.85"/>
<circle cx="306.00" cy="362.70" r="2.50" fill="#178680" stroke="#e4f8f8" stroke-width="0.85"/>
<circle cx="306.00" cy="364.90" r="2.50" fill="#178680" stroke="#e4f8f8" stroke-width="0.85"/>
<circle cx="306.00" cy="367.70" r="2.50" fill="#178680" stroke="#e4f8f8" stroke-width="0.85"/>
<circle cx="306.00" cy="372.30" r="2.50" fill="#178680" stroke="#e4f8f8" stroke-width="0.85"/>
<circle cx="306.00" cy="377.00" r="2.50" fill="#178680" stroke="#e4f8f8" stroke-width="0.85"/>
<circle cx="306.00" cy="381.50" r="2.50" fill="#178680" stroke="#e4f8f8" stroke-width="0.85"/>
<circle cx="306.00" cy="383.70" r="2.50" fill="#178680" stroke="#e4f8f8" stroke-width="0.85"/>
<circle cx="306.00" cy="398.50" r="2.50" fill="#178680" stroke="#e4f8f8" stroke-width="0.85"/>
<circle cx="306.00" cy="408.50" r="2.50" fill="#178680" stroke="#e4f8f8" stroke-width="0.85"/>
<circle cx="306.00" cy="415.80" r="2.50" fill="#178680" stroke="#e4f8f8" stroke-width="0.85"/>
<circle cx="306.00" cy="422.60" r="2.50" fill="#178680" stroke="#e4f8f8" stroke-width="0.85"/>
<circle cx="306.00" cy="433.80" r="2.50" fill="#178680" stroke="#e4f8f8" stroke-width="0.85"/>
<circle cx="312.60" cy="443.20" r="2.50" fill="#178680" stroke="#e4f8f8" stroke-width="0.85"/>
<circle cx="318.00" cy="443.20" r="2.50" fill="#178680" stroke="#e4f8f8" stroke-width="0.85"/>
<circle cx="325.40" cy="443.20" r="2.50" fill="#178680" stroke="#e4f8f8" stroke-width="0.85"/>
<circle cx="327.60" cy="443.20" r="2.50" fill="#178680" stroke="#e4f8f8" stroke-width="0.85"/>
<circle cx="331.00" cy="443.20" r="2.50" fill="#178680" stroke="#e4f8f8" stroke-width="0.85"/>
<circle cx="335.00" cy="443.20" r="2.50" fill="#178680" stroke="#e4f8f8" stroke-width="0.85"/>
<circle cx="338.80" cy="443.20" r="2.50" fill="#178680" stroke="#e4f8f8" stroke-width="0.85"/>
<circle cx="344.90" cy="443.20" r="2.50" fill="#178680" stroke="#e4f8f8" stroke-width="0.85"/>
<circle cx="349.50" cy="443.20" r="2.50" fill="#178680" stroke="#e4f8f8" stroke-width="0.85"/>
<circle cx="355.40" cy="443.20" r="2.50" fill="#178680" stroke="#e4f8f8" stroke-width="0.85"/>
<circle cx="357.60" cy="443.20" r="2.50" fill="#178680" stroke="#e4f8f8" stroke-width="0.85"/>
<circle cx="361.00" cy="443.20" r="2.50" fill="#178680" stroke="#e4f8f8" stroke-width="0.85"/>
<circle cx="364.60" cy="443.20" r="2.50" fill="#178680" stroke="#e4f8f8" stroke-width="0.85"/>
<circle cx="366.80" cy="443.20" r="2.50" fill="#178680" stroke="#e4f8f8" stroke-width="0.85"/>
<circle cx="368.80" cy="443.20" r="2.50" fill="#178680" stroke="#e4f8f8" stroke-width="0.85"/>
<circle cx="372.30" cy="443.20" r="2.50" fill="#178680" stroke="#e4f8f8" stroke-width="0.85"/>
<circle cx="374.50" cy="443.20" r="2.50" fill="#178680" stroke="#e4f8f8" stroke-width="0.85"/>
<circle cx="376.70" cy="443.20" r="2.50" fill="#178680" stroke="#e4f8f8" stroke-width="0.85"/>
<circle cx="380.40" cy="443.20" r="2.50" fill="#178680" stroke="#e4f8f8" stroke-width="0.85"/>
<circle cx="382.60" cy="443.20" r="2.50" fill="#178680" stroke="#e4f8f8" stroke-width="0.85"/>
<circle cx="388.30" cy="443.20" r="2.50" fill="#178680" stroke="#e4f8f8" stroke-width="0.85"/>
<circle cx="395.00" cy="443.20" r="2.50" fill="#178680" stroke="#e4f8f8" stroke-width="0.85"/>
<circle cx="398.30" cy="443.20" r="2.50" fill="#178680" stroke="#e4f8f8" stroke-width="0.85"/>
<circle cx="400.60" cy="443.20" r="2.50" fill="#178680" stroke="#e4f8f8" stroke-width="0.85"/>
<circle cx="402.80" cy="443.20" r="2.50" fill="#178680" stroke="#e4f8f8" stroke-width="0.85"/>
<circle cx="406.00" cy="443.20" r="2.50" fill="#178680" stroke="#e4f8f8" stroke-width="0.85"/>
<circle cx="411.30" cy="443.20" r="2.50" fill="#178680" stroke="#e4f8f8" stroke-width="0.85"/>
<circle cx="415.00" cy="443.20" r="2.50" fill="#178680" stroke="#e4f8f8" stroke-width="0.85"/>
<circle cx="419.00" cy="443.20" r="2.50" fill="#178680" stroke="#e4f8f8" stroke-width="0.85"/>
<circle cx="426.70" cy="443.20" r="2.50" fill="#178680" stroke="#e4f8f8" stroke-width="0.85"/>
<circle cx="430.20" cy="443.20" r="2.50" fill="#178680" stroke="#e4f8f8" stroke-width="0.85"/>
<circle cx="432.40" cy="443.20" r="2.50" fill="#178680" stroke="#e4f8f8" stroke-width="0.85"/>
<circle cx="436.30" cy="443.20" r="2.50" fill="#178680" stroke="#e4f8f8" stroke-width="0.85"/>
<circle cx="441.00" cy="443.20" r="2.50" fill="#178680" stroke="#e4f8f8" stroke-width="0.85"/>
<circle cx="445.40" cy="443.20" r="2.50" fill="#178680" stroke="#e4f8f8" stroke-width="0.85"/>
<circle cx="447.60" cy="443.20" r="2.50" fill="#178680" stroke="#e4f8f8" stroke-width="0.85"/>
<circle cx="452.50" cy="443.20" r="2.50" fill="#178680" stroke="#e4f8f8" stroke-width="0.85"/>
<circle cx="456.30" cy="443.20" r="2.50" fill="#178680" stroke="#e4f8f8" stroke-width="0.85"/>
<circle cx="460.40" cy="443.20" r="2.50" fill="#178680" stroke="#e4f8f8" stroke-width="0.85"/>
<circle cx="464.10" cy="443.20" r="2.50" fill="#178680" stroke="#e4f8f8" stroke-width="0.85"/>
<circle cx="466.30" cy="443.20" r="2.50" fill="#178680" stroke="#e4f8f8" stroke-width="0.85"/>
<circle cx="470.00" cy="443.20" r="2.50" fill="#178680" stroke="#e4f8f8" stroke-width="0.85"/>
<circle cx="486.20" cy="443.20" r="2.50" fill="#178680" stroke="#e4f8f8" stroke-width="0.85"/>
<circle cx="314.06" cy="435.03" r="2.50" fill="#178680" stroke="#e4f8f8" stroke-width="0.85"/>
<circle cx="316.09" cy="432.96" r="2.50" fill="#178680" stroke="#e4f8f8" stroke-width="0.85"/>
<circle cx="317.84" cy="431.18" r="2.50" fill="#178680" stroke="#e4f8f8" stroke-width="0.85"/>
<circle cx="318.76" cy="429.94" r="2.50" fill="#178680" stroke="#e4f8f8" stroke-width="0.85"/>
<circle cx="321.73" cy="427.90" r="2.50" fill="#178680" stroke="#e4f8f8" stroke-width="0.85"/>
<circle cx="323.49" cy="426.77" r="2.50" fill="#178680" stroke="#e4f8f8" stroke-width="0.85"/>
<circle cx="324.76" cy="424.79" r="2.50" fill="#178680" stroke="#e4f8f8" stroke-width="0.85"/>
<circle cx="326.67" cy="422.57" r="2.50" fill="#178680" stroke="#e4f8f8" stroke-width="0.85"/>
<circle cx="327.82" cy="421.21" r="2.50" fill="#178680" stroke="#e4f8f8" stroke-width="0.85"/>
<circle cx="329.97" cy="418.51" r="2.50" fill="#178680" stroke="#e4f8f8" stroke-width="0.85"/>
<circle cx="332.41" cy="417.66" r="2.50" fill="#178680" stroke="#e4f8f8" stroke-width="0.85"/>
<circle cx="334.26" cy="415.87" r="2.50" fill="#178680" stroke="#e4f8f8" stroke-width="0.85"/>
<circle cx="335.85" cy="414.08" r="2.50" fill="#178680" stroke="#e4f8f8" stroke-width="0.85"/>
<circle cx="336.89" cy="411.33" r="2.50" fill="#178680" stroke="#e4f8f8" stroke-width="0.85"/>
<circle cx="338.97" cy="410.35" r="2.50" fill="#178680" stroke="#e4f8f8" stroke-width="0.85"/>
<circle cx="341.76" cy="407.71" r="2.50" fill="#178680" stroke="#e4f8f8" stroke-width="0.85"/>
<circle cx="342.71" cy="405.79" r="2.50" fill="#178680" stroke="#e4f8f8" stroke-width="0.85"/>
<circle cx="344.84" cy="404.33" r="2.50" fill="#178680" stroke="#e4f8f8" stroke-width="0.85"/>
<circle cx="346.23" cy="402.19" r="2.50" fill="#178680" stroke="#e4f8f8" stroke-width="0.85"/>
<circle cx="348.66" cy="400.35" r="2.50" fill="#178680" stroke="#e4f8f8" stroke-width="0.85"/>
<circle cx="350.74" cy="399.38" r="2.50" fill="#178680" stroke="#e4f8f8" stroke-width="0.85"/>
<circle cx="351.88" cy="397.74" r="2.50" fill="#178680" stroke="#e4f8f8" stroke-width="0.85"/>
<circle cx="353.43" cy="396.06" r="2.50" fill="#178680" stroke="#e4f8f8" stroke-width="0.85"/>
<circle cx="355.44" cy="393.57" r="2.50" fill="#178680" stroke="#e4f8f8" stroke-width="0.85"/>
<circle cx="356.88" cy="391.66" r="2.50" fill="#178680" stroke="#e4f8f8" stroke-width="0.85"/>
<circle cx="359.12" cy="390.32" r="2.50" fill="#178680" stroke="#e4f8f8" stroke-width="0.85"/>
<circle cx="361.54" cy="388.29" r="2.50" fill="#178680" stroke="#e4f8f8" stroke-width="0.85"/>
<circle cx="362.73" cy="386.48" r="2.50" fill="#178680" stroke="#e4f8f8" stroke-width="0.85"/>
<circle cx="365.03" cy="385.21" r="2.50" fill="#178680" stroke="#e4f8f8" stroke-width="0.85"/>
<circle cx="367.19" cy="383.44" r="2.50" fill="#178680" stroke="#e4f8f8" stroke-width="0.85"/>
<circle cx="368.73" cy="380.59" r="2.50" fill="#178680" stroke="#e4f8f8" stroke-width="0.85"/>
<circle cx="369.62" cy="378.85" r="2.50" fill="#178680" stroke="#e4f8f8" stroke-width="0.85"/>
<circle cx="371.87" cy="377.31" r="2.50" fill="#178680" stroke="#e4f8f8" stroke-width="0.85"/>
<circle cx="373.24" cy="376.17" r="2.50" fill="#178680" stroke="#e4f8f8" stroke-width="0.85"/>
<circle cx="375.27" cy="373.21" r="2.50" fill="#178680" stroke="#e4f8f8" stroke-width="0.85"/>
<circle cx="377.11" cy="371.65" r="2.50" fill="#178680" stroke="#e4f8f8" stroke-width="0.85"/>
<circle cx="379.86" cy="369.61" r="2.50" fill="#178680" stroke="#e4f8f8" stroke-width="0.85"/>
<circle cx="380.93" cy="368.54" r="2.50" fill="#178680" stroke="#e4f8f8" stroke-width="0.85"/>
<circle cx="382.98" cy="366.20" r="2.50" fill="#178680" stroke="#e4f8f8" stroke-width="0.85"/>
<circle cx="384.27" cy="364.42" r="2.50" fill="#178680" stroke="#e4f8f8" stroke-width="0.85"/>
<circle cx="386.96" cy="362.47" r="2.50" fill="#178680" stroke="#e4f8f8" stroke-width="0.85"/>
<circle cx="387.81" cy="360.55" r="2.50" fill="#178680" stroke="#e4f8f8" stroke-width="0.85"/>
<circle cx="389.70" cy="359.51" r="2.50" fill="#178680" stroke="#e4f8f8" stroke-width="0.85"/>
<circle cx="392.17" cy="356.97" r="2.50" fill="#178680" stroke="#e4f8f8" stroke-width="0.85"/>
<circle cx="393.65" cy="355.15" r="2.50" fill="#178680" stroke="#e4f8f8" stroke-width="0.85"/>
<circle cx="395.72" cy="354.11" r="2.50" fill="#178680" stroke="#e4f8f8" stroke-width="0.85"/>
<circle cx="397.25" cy="352.47" r="2.50" fill="#178680" stroke="#e4f8f8" stroke-width="0.85"/>
<circle cx="398.77" cy="350.70" r="2.50" fill="#178680" stroke="#e4f8f8" stroke-width="0.85"/>
<circle cx="401.36" cy="347.82" r="2.50" fill="#178680" stroke="#e4f8f8" stroke-width="0.85"/>
<circle cx="402.51" cy="347.20" r="2.50" fill="#178680" stroke="#e4f8f8" stroke-width="0.85"/>
<circle cx="405.37" cy="344.78" r="2.50" fill="#178680" stroke="#e4f8f8" stroke-width="0.85"/>
<circle cx="406.45" cy="343.35" r="2.50" fill="#178680" stroke="#e4f8f8" stroke-width="0.85"/>
<circle cx="408.50" cy="340.79" r="2.50" fill="#178680" stroke="#e4f8f8" stroke-width="0.85"/>
<circle cx="410.14" cy="339.49" r="2.50" fill="#178680" stroke="#e4f8f8" stroke-width="0.85"/>
<circle cx="411.46" cy="337.06" r="2.50" fill="#178680" stroke="#e4f8f8" stroke-width="0.85"/>
<circle cx="413.24" cy="335.78" r="2.50" fill="#178680" stroke="#e4f8f8" stroke-width="0.85"/>
<circle cx="416.08" cy="334.43" r="2.50" fill="#178680" stroke="#e4f8f8" stroke-width="0.85"/>
<circle cx="417.76" cy="331.59" r="2.50" fill="#178680" stroke="#e4f8f8" stroke-width="0.85"/>
<circle cx="419.45" cy="329.98" r="2.50" fill="#178680" stroke="#e4f8f8" stroke-width="0.85"/>
<circle cx="420.61" cy="328.62" r="2.50" fill="#178680" stroke="#e4f8f8" stroke-width="0.85"/>
<circle cx="422.48" cy="326.29" r="2.50" fill="#178680" stroke="#e4f8f8" stroke-width="0.85"/>
<circle cx="424.48" cy="324.97" r="2.50" fill="#178680" stroke="#e4f8f8" stroke-width="0.85"/>
<circle cx="427.19" cy="322.66" r="2.50" fill="#178680" stroke="#e4f8f8" stroke-width="0.85"/>
<circle cx="428.97" cy="321.35" r="2.50" fill="#178680" stroke="#e4f8f8" stroke-width="0.85"/>
<circle cx="430.17" cy="319.19" r="2.50" fill="#178680" stroke="#e4f8f8" stroke-width="0.85"/>
<circle cx="431.98" cy="317.94" r="2.50" fill="#178680" stroke="#e4f8f8" stroke-width="0.85"/>
<circle cx="433.70" cy="316.31" r="2.50" fill="#178680" stroke="#e4f8f8" stroke-width="0.85"/>
<circle cx="435.48" cy="313.44" r="2.50" fill="#178680" stroke="#e4f8f8" stroke-width="0.85"/>
<circle cx="438.04" cy="312.08" r="2.50" fill="#178680" stroke="#e4f8f8" stroke-width="0.85"/>
<circle cx="439.27" cy="310.64" r="2.50" fill="#178680" stroke="#e4f8f8" stroke-width="0.85"/>
<circle cx="389.75" cy="369.75" r="2.50" fill="#178680" stroke="#e4f8f8" stroke-width="0.85"/>
<circle cx="389.98" cy="361.26" r="2.50" fill="#178680" stroke="#e4f8f8" stroke-width="0.85"/>
<circle cx="421.47" cy="348.39" r="2.50" fill="#178680" stroke="#e4f8f8" stroke-width="0.85"/>
<circle cx="377.58" cy="357.85" r="2.50" fill="#178680" stroke="#e4f8f8" stroke-width="0.85"/>
<circle cx="388.27" cy="354.98" r="2.50" fill="#178680" stroke="#e4f8f8" stroke-width="0.85"/>
<circle cx="407.00" cy="343.05" r="2.50" fill="#178680" stroke="#e4f8f8" stroke-width="0.85"/>
<circle cx="368.28" cy="375.01" r="2.50" fill="#178680" stroke="#e4f8f8" stroke-width="0.85"/>
<circle cx="435.84" cy="348.41" r="2.50" fill="#178680" stroke="#e4f8f8" stroke-width="0.85"/>
<circle cx="423.21" cy="331.76" r="2.50" fill="#178680" stroke="#e4f8f8" stroke-width="0.85"/>
<circle cx="420.06" cy="362.92" r="2.50" fill="#178680" stroke="#e4f8f8" stroke-width="0.85"/>
<circle cx="398.52" cy="355.61" r="2.50" fill="#178680" stroke="#e4f8f8" stroke-width="0.85"/>
<circle cx="374.09" cy="359.34" r="2.50" fill="#178680" stroke="#e4f8f8" stroke-width="0.85"/>
<circle cx="401.87" cy="311.53" r="2.50" fill="#178680" stroke="#e4f8f8" stroke-width="0.85"/>
<circle cx="401.19" cy="327.55" r="2.50" fill="#178680" stroke="#e4f8f8" stroke-width="0.85"/>
<circle cx="417.30" cy="349.38" r="2.50" fill="#178680" stroke="#e4f8f8" stroke-width="0.85"/>
<circle cx="362.66" cy="374.46" r="2.50" fill="#178680" stroke="#e4f8f8" stroke-width="0.85"/>
<circle cx="409.97" cy="323.29" r="2.50" fill="#178680" stroke="#e4f8f8" stroke-width="0.85"/>
<circle cx="440.04" cy="331.59" r="2.50" fill="#178680" stroke="#e4f8f8" stroke-width="0.85"/>
<circle cx="439.43" cy="354.80" r="2.50" fill="#178680" stroke="#e4f8f8" stroke-width="0.85"/>
<circle cx="416.95" cy="324.52" r="2.50" fill="#178680" stroke="#e4f8f8" stroke-width="0.85"/>
<circle cx="391.34" cy="332.90" r="2.50" fill="#178680" stroke="#e4f8f8" stroke-width="0.85"/>
<circle cx="415.54" cy="315.02" r="2.50" fill="#178680" stroke="#e4f8f8" stroke-width="0.85"/>
<circle cx="395.70" cy="321.19" r="2.50" fill="#178680" stroke="#e4f8f8" stroke-width="0.85"/>
<circle cx="398.78" cy="318.48" r="2.50" fill="#178680" stroke="#e4f8f8" stroke-width="0.85"/>
<circle cx="436.01" cy="313.55" r="2.50" fill="#178680" stroke="#e4f8f8" stroke-width="0.85"/>
<circle cx="416.88" cy="337.36" r="2.50" fill="#178680" stroke="#e4f8f8" stroke-width="0.85"/>
<circle cx="433.64" cy="319.27" r="2.50" fill="#178680" stroke="#e4f8f8" stroke-width="0.85"/>
<circle cx="382.65" cy="343.11" r="2.50" fill="#178680" stroke="#e4f8f8" stroke-width="0.85"/>
<circle cx="431.95" cy="349.44" r="2.50" fill="#178680" stroke="#e4f8f8" stroke-width="0.85"/>
<circle cx="397.05" cy="347.87" r="2.50" fill="#178680" stroke="#e4f8f8" stroke-width="0.85"/>
<circle cx="427.90" cy="353.75" r="2.50" fill="#178680" stroke="#e4f8f8" stroke-width="0.85"/>
<circle cx="392.40" cy="328.75" r="2.50" fill="#178680" stroke="#e4f8f8" stroke-width="0.85"/>
<circle cx="443.71" cy="308.43" r="2.50" fill="#178680" stroke="#e4f8f8" stroke-width="0.85"/>
<circle cx="382.61" cy="374.32" r="2.50" fill="#178680" stroke="#e4f8f8" stroke-width="0.85"/>
<circle cx="357.27" cy="374.97" r="2.50" fill="#178680" stroke="#e4f8f8" stroke-width="0.85"/>
<circle cx="426.41" cy="333.01" r="2.50" fill="#178680" stroke="#e4f8f8" stroke-width="0.85"/>
<circle cx="381.50" cy="369.20" r="2.50" fill="#178680" stroke="#e4f8f8" stroke-width="0.85"/>
<circle cx="402.63" cy="345.11" r="2.50" fill="#178680" stroke="#e4f8f8" stroke-width="0.85"/>
<circle cx="404.75" cy="322.40" r="2.50" fill="#178680" stroke="#e4f8f8" stroke-width="0.85"/>
<circle cx="375.30" cy="373.24" r="2.50" fill="#178680" stroke="#e4f8f8" stroke-width="0.85"/>
<circle cx="413.28" cy="365.20" r="2.50" fill="#178680" stroke="#e4f8f8" stroke-width="0.85"/>
<circle cx="366.62" cy="353.66" r="2.50" fill="#178680" stroke="#e4f8f8" stroke-width="0.85"/>
<circle cx="411.04" cy="352.57" r="2.50" fill="#178680" stroke="#e4f8f8" stroke-width="0.85"/>
<circle cx="378.96" cy="345.37" r="2.50" fill="#178680" stroke="#e4f8f8" stroke-width="0.85"/>
<circle cx="377.96" cy="366.06" r="2.50" fill="#178680" stroke="#e4f8f8" stroke-width="0.85"/>
<circle cx="385.56" cy="370.83" r="2.50" fill="#178680" stroke="#e4f8f8" stroke-width="0.85"/>
<circle cx="431.42" cy="329.13" r="2.50" fill="#178680" stroke="#e4f8f8" stroke-width="0.85"/>
<circle cx="418.14" cy="332.58" r="2.50" fill="#178680" stroke="#e4f8f8" stroke-width="0.85"/>
<circle cx="446.84" cy="303.82" r="2.50" fill="#178680" stroke="#e4f8f8" stroke-width="0.85"/>
<circle cx="425.65" cy="358.08" r="2.50" fill="#178680" stroke="#e4f8f8" stroke-width="0.85"/>
<circle cx="362.97" cy="357.53" r="2.50" fill="#178680" stroke="#e4f8f8" stroke-width="0.85"/>
<circle cx="382.02" cy="358.14" r="2.50" fill="#178680" stroke="#e4f8f8" stroke-width="0.85"/>
<circle cx="390.07" cy="320.43" r="2.50" fill="#178680" stroke="#e4f8f8" stroke-width="0.85"/>
<circle cx="356.70" cy="369.04" r="2.50" fill="#178680" stroke="#e4f8f8" stroke-width="0.85"/>
<circle cx="394.26" cy="343.26" r="2.50" fill="#178680" stroke="#e4f8f8" stroke-width="0.85"/>
<circle cx="391.43" cy="353.01" r="2.50" fill="#178680" stroke="#e4f8f8" stroke-width="0.85"/>
<circle cx="383.84" cy="334.70" r="2.50" fill="#178680" stroke="#e4f8f8" stroke-width="0.85"/>
<circle cx="440.91" cy="311.29" r="2.50" fill="#178680" stroke="#e4f8f8" stroke-width="0.85"/>
<circle cx="440.14" cy="320.54" r="2.50" fill="#178680" stroke="#e4f8f8" stroke-width="0.85"/>
<circle cx="432.75" cy="345.83" r="2.50" fill="#178680" stroke="#e4f8f8" stroke-width="0.85"/>
<circle cx="379.45" cy="372.46" r="2.50" fill="#178680" stroke="#e4f8f8" stroke-width="0.85"/>
<circle cx="417.32" cy="312.03" r="2.50" fill="#178680" stroke="#e4f8f8" stroke-width="0.85"/>
<circle cx="397.18" cy="325.69" r="2.50" fill="#178680" stroke="#e4f8f8" stroke-width="0.85"/>
<circle cx="397.76" cy="333.91" r="2.50" fill="#178680" stroke="#e4f8f8" stroke-width="0.85"/>
<circle cx="432.62" cy="313.12" r="2.50" fill="#178680" stroke="#e4f8f8" stroke-width="0.85"/>
<circle cx="360.86" cy="362.64" r="2.50" fill="#178680" stroke="#e4f8f8" stroke-width="0.85"/>
<circle cx="449.02" cy="308.73" r="2.50" fill="#178680" stroke="#e4f8f8" stroke-width="0.85"/>
<circle cx="406.29" cy="349.01" r="2.50" fill="#178680" stroke="#e4f8f8" stroke-width="0.85"/>
<circle cx="384.33" cy="327.82" r="2.50" fill="#178680" stroke="#e4f8f8" stroke-width="0.85"/>
<circle cx="402.37" cy="361.15" r="2.50" fill="#178680" stroke="#e4f8f8" stroke-width="0.85"/>
<circle cx="389.91" cy="349.73" r="2.50" fill="#178680" stroke="#e4f8f8" stroke-width="0.85"/>
<circle cx="424.74" cy="342.31" r="2.50" fill="#178680" stroke="#e4f8f8" stroke-width="0.85"/>
<circle cx="428.59" cy="319.91" r="2.50" fill="#178680" stroke="#e4f8f8" stroke-width="0.85"/>
<circle cx="425.77" cy="345.56" r="2.50" fill="#178680" stroke="#e4f8f8" stroke-width="0.85"/>
<circle cx="428.68" cy="326.90" r="2.50" fill="#178680" stroke="#e4f8f8" stroke-width="0.85"/>
<circle cx="380.88" cy="350.96" r="2.50" fill="#178680" stroke="#e4f8f8" stroke-width="0.85"/>
<circle cx="415.40" cy="355.22" r="2.50" fill="#178680" stroke="#e4f8f8" stroke-width="0.85"/>
<circle cx="361.54" cy="366.84" r="2.50" fill="#178680" stroke="#e4f8f8" stroke-width="0.85"/>
<circle cx="409.78" cy="327.02" r="2.50" fill="#178680" stroke="#e4f8f8" stroke-width="0.85"/>
<circle cx="434.25" cy="325.55" r="2.50" fill="#178680" stroke="#e4f8f8" stroke-width="0.85"/>
<circle cx="398.69" cy="337.08" r="2.50" fill="#178680" stroke="#e4f8f8" stroke-width="0.85"/>
<circle cx="393.20" cy="368.96" r="2.50" fill="#178680" stroke="#e4f8f8" stroke-width="0.85"/>
<circle cx="366.30" cy="369.22" r="2.50" fill="#178680" stroke="#e4f8f8" stroke-width="0.85"/>
<circle cx="396.36" cy="316.17" r="2.50" fill="#178680" stroke="#e4f8f8" stroke-width="0.85"/>
<circle cx="420.79" cy="327.00" r="2.50" fill="#178680" stroke="#e4f8f8" stroke-width="0.85"/>
<circle cx="390.56" cy="337.68" r="2.50" fill="#178680" stroke="#e4f8f8" stroke-width="0.85"/>
<circle cx="396.07" cy="340.43" r="2.50" fill="#178680" stroke="#e4f8f8" stroke-width="0.85"/>
<circle cx="390.75" cy="343.13" r="2.50" fill="#178680" stroke="#e4f8f8" stroke-width="0.85"/>
<circle cx="399.36" cy="364.57" r="2.50" fill="#178680" stroke="#e4f8f8" stroke-width="0.85"/>
<circle cx="433.40" cy="341.64" r="2.50" fill="#178680" stroke="#e4f8f8" stroke-width="0.85"/>
<circle cx="396.77" cy="352.65" r="2.50" fill="#178680" stroke="#e4f8f8" stroke-width="0.85"/>
<circle cx="419.23" cy="354.63" r="2.50" fill="#178680" stroke="#e4f8f8" stroke-width="0.85"/>
<circle cx="429.64" cy="315.11" r="2.50" fill="#178680" stroke="#e4f8f8" stroke-width="0.85"/>
<circle cx="412.15" cy="318.16" r="2.50" fill="#178680" stroke="#e4f8f8" stroke-width="0.85"/>
<circle cx="439.20" cy="343.02" r="2.50" fill="#178680" stroke="#e4f8f8" stroke-width="0.85"/>
<circle cx="413.14" cy="340.02" r="2.50" fill="#178680" stroke="#e4f8f8" stroke-width="0.85"/>
<circle cx="381.26" cy="365.39" r="2.50" fill="#178680" stroke="#e4f8f8" stroke-width="0.85"/>
<circle cx="367.95" cy="360.67" r="2.50" fill="#178680" stroke="#e4f8f8" stroke-width="0.85"/>
<circle cx="420.30" cy="338.83" r="2.50" fill="#178680" stroke="#e4f8f8" stroke-width="0.85"/>
<circle cx="424.34" cy="323.34" r="2.50" fill="#178680" stroke="#e4f8f8" stroke-width="0.85"/>
<circle cx="408.88" cy="337.77" r="2.50" fill="#178680" stroke="#e4f8f8" stroke-width="0.85"/>
<circle cx="398.90" cy="359.36" r="2.50" fill="#178680" stroke="#e4f8f8" stroke-width="0.85"/>
<circle cx="438.32" cy="337.57" r="2.50" fill="#178680" stroke="#e4f8f8" stroke-width="0.85"/>
<circle cx="394.29" cy="334.90" r="2.50" fill="#178680" stroke="#e4f8f8" stroke-width="0.85"/>
<circle cx="400.13" cy="367.84" r="2.50" fill="#178680" stroke="#e4f8f8" stroke-width="0.85"/>
<circle cx="422.57" cy="356.46" r="2.50" fill="#178680" stroke="#e4f8f8" stroke-width="0.85"/>
<circle cx="442.43" cy="326.03" r="2.50" fill="#178680" stroke="#e4f8f8" stroke-width="0.85"/>
<circle cx="433.27" cy="337.68" r="2.50" fill="#178680" stroke="#e4f8f8" stroke-width="0.85"/>
<circle cx="425.00" cy="336.01" r="2.50" fill="#178680" stroke="#e4f8f8" stroke-width="0.85"/>
<circle cx="360.81" cy="377.68" r="2.50" fill="#178680" stroke="#e4f8f8" stroke-width="0.85"/>
<circle cx="386.09" cy="359.35" r="2.50" fill="#178680" stroke="#e4f8f8" stroke-width="0.85"/>
<circle cx="388.14" cy="340.71" r="2.50" fill="#178680" stroke="#e4f8f8" stroke-width="0.85"/>
<circle cx="385.15" cy="353.00" r="2.50" fill="#178680" stroke="#e4f8f8" stroke-width="0.85"/>
<circle cx="422.49" cy="313.34" r="2.50" fill="#178680" stroke="#e4f8f8" stroke-width="0.85"/>
<circle cx="429.19" cy="339.07" r="2.50" fill="#178680" stroke="#e4f8f8" stroke-width="0.85"/>
<circle cx="415.16" cy="321.51" r="2.50" fill="#178680" stroke="#e4f8f8" stroke-width="0.85"/>
<circle cx="436.97" cy="318.71" r="2.50" fill="#178680" stroke="#e4f8f8" stroke-width="0.85"/>
<circle cx="401.74" cy="350.51" r="2.50" fill="#178680" stroke="#e4f8f8" stroke-width="0.85"/>
<circle cx="404.85" cy="318.65" r="2.50" fill="#178680" stroke="#e4f8f8" stroke-width="0.85"/>
<circle cx="405.56" cy="356.88" r="2.50" fill="#178680" stroke="#e4f8f8" stroke-width="0.85"/>
<circle cx="375.36" cy="351.87" r="2.50" fill="#178680" stroke="#e4f8f8" stroke-width="0.85"/>
<circle cx="421.70" cy="344.13" r="2.50" fill="#178680" stroke="#e4f8f8" stroke-width="0.85"/>
<circle cx="404.29" cy="339.32" r="2.50" fill="#178680" stroke="#e4f8f8" stroke-width="0.85"/>
<circle cx="355.40" cy="387.76" r="2.50" fill="#178680" stroke="#e4f8f8" stroke-width="0.85"/>
<circle cx="407.62" cy="315.97" r="2.50" fill="#178680" stroke="#e4f8f8" stroke-width="0.85"/>
<circle cx="382.05" cy="362.16" r="2.50" fill="#178680" stroke="#e4f8f8" stroke-width="0.85"/>
<circle cx="355.06" cy="380.45" r="2.50" fill="#178680" stroke="#e4f8f8" stroke-width="0.85"/>
<circle cx="404.11" cy="369.53" r="2.50" fill="#178680" stroke="#e4f8f8" stroke-width="0.85"/>
<circle cx="388.24" cy="323.89" r="2.50" fill="#178680" stroke="#e4f8f8" stroke-width="0.85"/>
<circle cx="388.34" cy="330.90" r="2.50" fill="#178680" stroke="#e4f8f8" stroke-width="0.85"/>
<circle cx="427.11" cy="310.80" r="2.50" fill="#178680" stroke="#e4f8f8" stroke-width="0.85"/>
<circle cx="414.03" cy="350.27" r="2.50" fill="#178680" stroke="#e4f8f8" stroke-width="0.85"/>
<circle cx="404.61" cy="331.86" r="2.50" fill="#178680" stroke="#e4f8f8" stroke-width="0.85"/>
<circle cx="407.91" cy="365.87" r="2.50" fill="#178680" stroke="#e4f8f8" stroke-width="0.85"/>
<circle cx="410.21" cy="349.21" r="2.50" fill="#178680" stroke="#e4f8f8" stroke-width="0.85"/>
<circle cx="364.39" cy="364.01" r="2.50" fill="#178680" stroke="#e4f8f8" stroke-width="0.85"/>
<circle cx="426.61" cy="316.43" r="2.50" fill="#178680" stroke="#e4f8f8" stroke-width="0.85"/>
<circle cx="430.42" cy="333.27" r="2.50" fill="#178680" stroke="#e4f8f8" stroke-width="0.85"/>
<circle cx="425.06" cy="328.23" r="2.50" fill="#178680" stroke="#e4f8f8" stroke-width="0.85"/>
<circle cx="388.62" cy="366.12" r="2.50" fill="#178680" stroke="#e4f8f8" stroke-width="0.85"/>
<circle cx="401.72" cy="316.17" r="2.50" fill="#178680" stroke="#e4f8f8" stroke-width="0.85"/>
<circle cx="410.01" cy="332.48" r="2.50" fill="#178680" stroke="#e4f8f8" stroke-width="0.85"/>
<circle cx="389.83" cy="374.94" r="2.50" fill="#178680" stroke="#e4f8f8" stroke-width="0.85"/>
<circle cx="397.96" cy="371.11" r="2.50" fill="#178680" stroke="#e4f8f8" stroke-width="0.85"/>
<circle cx="373.16" cy="348.10" r="2.50" fill="#178680" stroke="#e4f8f8" stroke-width="0.85"/>
<circle cx="400.49" cy="331.68" r="2.50" fill="#178680" stroke="#e4f8f8" stroke-width="0.85"/>
<circle cx="392.31" cy="346.24" r="2.50" fill="#178680" stroke="#e4f8f8" stroke-width="0.85"/>
<circle cx="371.46" cy="368.74" r="2.50" fill="#178680" stroke="#e4f8f8" stroke-width="0.85"/>
<circle cx="401.19" cy="321.88" r="2.50" fill="#178680" stroke="#e4f8f8" stroke-width="0.85"/>
<circle cx="447.72" cy="313.87" r="2.50" fill="#178680" stroke="#e4f8f8" stroke-width="0.85"/>
<circle cx="437.66" cy="328.74" r="2.50" fill="#178680" stroke="#e4f8f8" stroke-width="0.85"/>
<circle cx="413.50" cy="311.44" r="2.50" fill="#178680" stroke="#e4f8f8" stroke-width="0.85"/>
<circle cx="385.95" cy="344.55" r="2.50" fill="#178680" stroke="#e4f8f8" stroke-width="0.85"/>
<circle cx="390.56" cy="357.81" r="2.50" fill="#178680" stroke="#e4f8f8" stroke-width="0.85"/>
<circle cx="406.40" cy="325.49" r="2.50" fill="#178680" stroke="#e4f8f8" stroke-width="0.85"/>
<circle cx="404.14" cy="335.42" r="2.50" fill="#178680" stroke="#e4f8f8" stroke-width="0.85"/>
<circle cx="411.87" cy="359.70" r="2.50" fill="#178680" stroke="#e4f8f8" stroke-width="0.85"/>
<circle cx="415.38" cy="361.13" r="2.50" fill="#178680" stroke="#e4f8f8" stroke-width="0.85"/>
<circle cx="395.37" cy="373.34" r="2.50" fill="#178680" stroke="#e4f8f8" stroke-width="0.85"/>
<circle cx="399.78" cy="343.23" r="2.50" fill="#178680" stroke="#e4f8f8" stroke-width="0.85"/>
<circle cx="364.76" cy="381.94" r="2.50" fill="#178680" stroke="#e4f8f8" stroke-width="0.85"/>
<circle cx="358.96" cy="382.74" r="2.50" fill="#178680" stroke="#e4f8f8" stroke-width="0.85"/>
<circle cx="408.54" cy="360.79" r="2.50" fill="#178680" stroke="#e4f8f8" stroke-width="0.85"/>
<circle cx="376.38" cy="369.72" r="2.50" fill="#178680" stroke="#e4f8f8" stroke-width="0.85"/>
<circle cx="409.53" cy="311.73" r="2.50" fill="#178680" stroke="#e4f8f8" stroke-width="0.85"/>
<circle cx="373.36" cy="375.95" r="2.50" fill="#178680" stroke="#e4f8f8" stroke-width="0.85"/>
<circle cx="377.97" cy="362.39" r="2.50" fill="#178680" stroke="#e4f8f8" stroke-width="0.85"/>
<circle cx="420.57" cy="320.88" r="2.50" fill="#178680" stroke="#e4f8f8" stroke-width="0.85"/>
<circle cx="428.23" cy="323.53" r="2.50" fill="#178680" stroke="#e4f8f8" stroke-width="0.85"/>
<circle cx="355.34" cy="384.15" r="2.50" fill="#178680" stroke="#e4f8f8" stroke-width="0.85"/>
<circle cx="437.25" cy="334.16" r="2.50" fill="#178680" stroke="#e4f8f8" stroke-width="0.85"/>
<circle cx="433.67" cy="354.74" r="2.50" fill="#178680" stroke="#e4f8f8" stroke-width="0.85"/>
<circle cx="392.02" cy="365.63" r="2.50" fill="#178680" stroke="#e4f8f8" stroke-width="0.85"/>
<circle cx="372.83" cy="379.79" r="2.50" fill="#178680" stroke="#e4f8f8" stroke-width="0.85"/>
<circle cx="416.60" cy="364.91" r="2.50" fill="#178680" stroke="#e4f8f8" stroke-width="0.85"/>
<circle cx="410.14" cy="341.87" r="2.50" fill="#178680" stroke="#e4f8f8" stroke-width="0.85"/>
<circle cx="393.80" cy="350.58" r="2.50" fill="#178680" stroke="#e4f8f8" stroke-width="0.85"/>
<circle cx="376.22" cy="378.02" r="2.50" fill="#178680" stroke="#e4f8f8" stroke-width="0.85"/>
<circle cx="418.41" cy="359.65" r="2.50" fill="#178680" stroke="#e4f8f8" stroke-width="0.85"/>
<circle cx="395.24" cy="331.62" r="2.50" fill="#178680" stroke="#e4f8f8" stroke-width="0.85"/>
<circle cx="370.76" cy="351.50" r="2.50" fill="#178680" stroke="#e4f8f8" stroke-width="0.85"/>
<circle cx="406.32" cy="352.36" r="2.50" fill="#178680" stroke="#e4f8f8" stroke-width="0.85"/>
<circle cx="368.93" cy="378.57" r="2.50" fill="#178680" stroke="#e4f8f8" stroke-width="0.85"/>
<circle cx="392.85" cy="324.32" r="2.50" fill="#178680" stroke="#e4f8f8" stroke-width="0.85"/>
<circle cx="409.52" cy="370.28" r="2.50" fill="#178680" stroke="#e4f8f8" stroke-width="0.85"/>
<circle cx="373.17" cy="363.15" r="2.50" fill="#178680" stroke="#e4f8f8" stroke-width="0.85"/>
<circle cx="395.11" cy="362.64" r="2.50" fill="#178680" stroke="#e4f8f8" stroke-width="0.85"/>
<circle cx="384.17" cy="320.51" r="2.50" fill="#178680" stroke="#e4f8f8" stroke-width="0.85"/>
<circle cx="417.48" cy="329.18" r="2.50" fill="#178680" stroke="#e4f8f8" stroke-width="0.85"/>
<circle cx="384.78" cy="331.30" r="2.50" fill="#178680" stroke="#e4f8f8" stroke-width="0.85"/>
<circle cx="436.30" cy="322.37" r="2.50" fill="#178680" stroke="#e4f8f8" stroke-width="0.85"/>
<circle cx="402.83" cy="364.72" r="2.50" fill="#178680" stroke="#e4f8f8" stroke-width="0.85"/>
<circle cx="419.47" cy="317.27" r="2.50" fill="#178680" stroke="#e4f8f8" stroke-width="0.85"/>
<circle cx="412.26" cy="335.78" r="2.50" fill="#178680" stroke="#e4f8f8" stroke-width="0.85"/>
<circle cx="415.21" cy="344.71" r="2.50" fill="#178680" stroke="#e4f8f8" stroke-width="0.85"/>
<circle cx="388.94" cy="327.50" r="2.50" fill="#178680" stroke="#e4f8f8" stroke-width="0.85"/>
<circle cx="393.19" cy="317.70" r="2.50" fill="#178680" stroke="#e4f8f8" stroke-width="0.85"/>
<circle cx="423.63" cy="361.45" r="2.50" fill="#178680" stroke="#e4f8f8" stroke-width="0.85"/>
<circle cx="389.68" cy="317.14" r="2.50" fill="#178680" stroke="#e4f8f8" stroke-width="0.85"/>
<circle cx="444.44" cy="320.12" r="2.50" fill="#178680" stroke="#e4f8f8" stroke-width="0.85"/>
<circle cx="368.92" cy="365.77" r="2.50" fill="#178680" stroke="#e4f8f8" stroke-width="0.85"/>
<circle cx="440.15" cy="307.35" r="2.50" fill="#178680" stroke="#e4f8f8" stroke-width="0.85"/>
<circle cx="421.67" cy="351.84" r="2.50" fill="#178680" stroke="#e4f8f8" stroke-width="0.85"/>
<circle cx="372.47" cy="355.06" r="2.50" fill="#178680" stroke="#e4f8f8" stroke-width="0.85"/>
<circle cx="378.44" cy="354.52" r="2.50" fill="#178680" stroke="#e4f8f8" stroke-width="0.85"/>
<circle cx="409.93" cy="356.87" r="2.50" fill="#178680" stroke="#e4f8f8" stroke-width="0.85"/>
<circle cx="441.00" cy="315.91" r="2.50" fill="#178680" stroke="#e4f8f8" stroke-width="0.85"/>
<circle cx="386.31" cy="316.69" r="2.50" fill="#178680" stroke="#e4f8f8" stroke-width="0.85"/>
<circle cx="439.65" cy="351.14" r="2.50" fill="#178680" stroke="#e4f8f8" stroke-width="0.85"/>
<circle cx="365.31" cy="377.18" r="2.50" fill="#178680" stroke="#e4f8f8" stroke-width="0.85"/>
<circle cx="398.98" cy="313.78" r="2.50" fill="#178680" stroke="#e4f8f8" stroke-width="0.85"/>
<circle cx="384.60" cy="365.30" r="2.50" fill="#178680" stroke="#e4f8f8" stroke-width="0.85"/>
<circle cx="408.70" cy="320.04" r="2.50" fill="#178680" stroke="#e4f8f8" stroke-width="0.85"/>
<circle cx="360.24" cy="371.01" r="2.50" fill="#178680" stroke="#e4f8f8" stroke-width="0.85"/>
<circle cx="402.42" cy="354.48" r="2.50" fill="#178680" stroke="#e4f8f8" stroke-width="0.85"/>
<circle cx="436.91" cy="324.29" r="2.50" fill="#178680" stroke="#e4f8f8" stroke-width="0.85"/>
<circle cx="440.60" cy="306.84" r="2.50" fill="#178680" stroke="#e4f8f8" stroke-width="0.85"/>
<circle cx="441.47" cy="314.16" r="2.50" fill="#178680" stroke="#e4f8f8" stroke-width="0.85"/>
<circle cx="447.92" cy="312.40" r="2.50" fill="#178680" stroke="#e4f8f8" stroke-width="0.85"/>
<circle cx="442.11" cy="299.17" r="2.50" fill="#178680" stroke="#e4f8f8" stroke-width="0.85"/>
<circle cx="434.06" cy="307.40" r="2.50" fill="#178680" stroke="#e4f8f8" stroke-width="0.85"/>
<circle cx="434.09" cy="313.88" r="2.50" fill="#178680" stroke="#e4f8f8" stroke-width="0.85"/>
<circle cx="454.22" cy="288.81" r="2.50" fill="#178680" stroke="#e4f8f8" stroke-width="0.85"/>
<circle cx="439.77" cy="305.48" r="2.50" fill="#178680" stroke="#e4f8f8" stroke-width="0.85"/>
<circle cx="432.06" cy="311.71" r="2.50" fill="#178680" stroke="#e4f8f8" stroke-width="0.85"/>
<circle cx="445.93" cy="299.22" r="2.50" fill="#178680" stroke="#e4f8f8" stroke-width="0.85"/>
<circle cx="462.22" cy="288.70" r="2.50" fill="#178680" stroke="#e4f8f8" stroke-width="0.85"/>
<circle cx="455.87" cy="290.88" r="2.50" fill="#178680" stroke="#e4f8f8" stroke-width="0.85"/>
<circle cx="448.90" cy="300.29" r="2.50" fill="#178680" stroke="#e4f8f8" stroke-width="0.85"/>
<circle cx="446.98" cy="303.45" r="2.50" fill="#178680" stroke="#e4f8f8" stroke-width="0.85"/>
<circle cx="447.08" cy="299.33" r="2.50" fill="#178680" stroke="#e4f8f8" stroke-width="0.85"/>
<circle cx="464.22" cy="290.93" r="2.50" fill="#178680" stroke="#e4f8f8" stroke-width="0.85"/>
<circle cx="443.08" cy="309.71" r="2.50" fill="#178680" stroke="#e4f8f8" stroke-width="0.85"/>
<circle cx="431.47" cy="314.23" r="2.50" fill="#178680" stroke="#e4f8f8" stroke-width="0.85"/>
<circle cx="451.77" cy="291.66" r="2.50" fill="#178680" stroke="#e4f8f8" stroke-width="0.85"/>
<circle cx="426.92" cy="319.16" r="2.50" fill="#178680" stroke="#e4f8f8" stroke-width="0.85"/>
<circle cx="440.26" cy="312.76" r="2.50" fill="#178680" stroke="#e4f8f8" stroke-width="0.85"/>
<circle cx="461.09" cy="292.17" r="2.50" fill="#178680" stroke="#e4f8f8" stroke-width="0.85"/>
<circle cx="426.72" cy="316.64" r="2.50" fill="#178680" stroke="#e4f8f8" stroke-width="0.85"/>
<circle cx="338.18" cy="414.48" r="2.50" fill="#178680" stroke="#e4f8f8" stroke-width="0.85"/>
<circle cx="376.43" cy="368.54" r="2.50" fill="#178680" stroke="#e4f8f8" stroke-width="0.85"/>
<circle cx="369.47" cy="380.66" r="2.50" fill="#178680" stroke="#e4f8f8" stroke-width="0.85"/>
<circle cx="316.88" cy="429.74" r="2.50" fill="#178680" stroke="#e4f8f8" stroke-width="0.85"/>
<circle cx="375.05" cy="374.68" r="2.50" fill="#178680" stroke="#e4f8f8" stroke-width="0.85"/>
<circle cx="346.43" cy="399.29" r="2.50" fill="#178680" stroke="#e4f8f8" stroke-width="0.85"/>
<circle cx="345.28" cy="389.64" r="2.50" fill="#178680" stroke="#e4f8f8" stroke-width="0.85"/>
<circle cx="326.70" cy="420.17" r="2.50" fill="#178680" stroke="#e4f8f8" stroke-width="0.85"/>
<circle cx="367.07" cy="376.99" r="2.50" fill="#178680" stroke="#e4f8f8" stroke-width="0.85"/>
<circle cx="345.62" cy="418.21" r="2.50" fill="#178680" stroke="#e4f8f8" stroke-width="0.85"/>
<circle cx="379.75" cy="368.63" r="2.50" fill="#178680" stroke="#e4f8f8" stroke-width="0.85"/>
<circle cx="364.15" cy="378.58" r="2.50" fill="#178680" stroke="#e4f8f8" stroke-width="0.85"/>
<circle cx="326.56" cy="434.02" r="2.50" fill="#178680" stroke="#e4f8f8" stroke-width="0.85"/>
<circle cx="339.17" cy="404.76" r="2.50" fill="#178680" stroke="#e4f8f8" stroke-width="0.85"/>
<circle cx="352.55" cy="406.09" r="2.50" fill="#178680" stroke="#e4f8f8" stroke-width="0.85"/>
<circle cx="325.72" cy="423.10" r="2.50" fill="#178680" stroke="#e4f8f8" stroke-width="0.85"/>
<circle cx="370.00" cy="367.85" r="2.50" fill="#178680" stroke="#e4f8f8" stroke-width="0.85"/>
<circle cx="340.38" cy="415.73" r="2.50" fill="#178680" stroke="#e4f8f8" stroke-width="0.85"/>
<circle cx="326.49" cy="425.01" r="2.50" fill="#178680" stroke="#e4f8f8" stroke-width="0.85"/>
<circle cx="345.66" cy="403.91" r="2.50" fill="#178680" stroke="#e4f8f8" stroke-width="0.85"/>
<circle cx="317.35" cy="419.67" r="2.50" fill="#178680" stroke="#e4f8f8" stroke-width="0.85"/>
<circle cx="374.38" cy="377.91" r="2.50" fill="#178680" stroke="#e4f8f8" stroke-width="0.85"/>
<circle cx="333.60" cy="409.36" r="2.50" fill="#178680" stroke="#e4f8f8" stroke-width="0.85"/>
<circle cx="369.02" cy="384.87" r="2.50" fill="#178680" stroke="#e4f8f8" stroke-width="0.85"/>
<circle cx="363.93" cy="397.85" r="2.50" fill="#178680" stroke="#e4f8f8" stroke-width="0.85"/>
<circle cx="360.47" cy="384.87" r="2.50" fill="#178680" stroke="#e4f8f8" stroke-width="0.85"/>
<circle cx="375.95" cy="371.03" r="2.50" fill="#178680" stroke="#e4f8f8" stroke-width="0.85"/>
<circle cx="317.45" cy="418.79" r="2.50" fill="#178680" stroke="#e4f8f8" stroke-width="0.85"/>
<circle cx="321.62" cy="408.34" r="2.50" fill="#178680" stroke="#e4f8f8" stroke-width="0.85"/>
<circle cx="369.11" cy="372.96" r="2.50" fill="#178680" stroke="#e4f8f8" stroke-width="0.85"/>
<circle cx="326.06" cy="429.46" r="2.50" fill="#178680" stroke="#e4f8f8" stroke-width="0.85"/>
<circle cx="359.69" cy="384.16" r="2.50" fill="#178680" stroke="#e4f8f8" stroke-width="0.85"/>
<circle cx="380.84" cy="369.22" r="2.50" fill="#178680" stroke="#e4f8f8" stroke-width="0.85"/>
<circle cx="328.97" cy="415.26" r="2.50" fill="#178680" stroke="#e4f8f8" stroke-width="0.85"/>
<circle cx="333.98" cy="402.20" r="2.50" fill="#178680" stroke="#e4f8f8" stroke-width="0.85"/>
<circle cx="367.09" cy="378.22" r="2.50" fill="#178680" stroke="#e4f8f8" stroke-width="0.85"/>
<circle cx="312.79" cy="417.82" r="2.50" fill="#178680" stroke="#e4f8f8" stroke-width="0.85"/>
<circle cx="358.16" cy="401.80" r="2.50" fill="#178680" stroke="#e4f8f8" stroke-width="0.85"/>
<circle cx="338.35" cy="414.38" r="2.50" fill="#178680" stroke="#e4f8f8" stroke-width="0.85"/>
<circle cx="342.37" cy="400.08" r="2.50" fill="#178680" stroke="#e4f8f8" stroke-width="0.85"/>
<circle cx="370.37" cy="387.98" r="2.50" fill="#178680" stroke="#e4f8f8" stroke-width="0.85"/>
<circle cx="330.46" cy="416.24" r="2.50" fill="#178680" stroke="#e4f8f8" stroke-width="0.85"/>
<circle cx="368.66" cy="379.15" r="2.50" fill="#178680" stroke="#e4f8f8" stroke-width="0.85"/>
<circle cx="364.86" cy="401.07" r="2.50" fill="#178680" stroke="#e4f8f8" stroke-width="0.85"/>
<circle cx="341.04" cy="398.07" r="2.50" fill="#178680" stroke="#e4f8f8" stroke-width="0.85"/>
<circle cx="332.78" cy="422.89" r="2.50" fill="#178680" stroke="#e4f8f8" stroke-width="0.85"/>
<circle cx="334.94" cy="414.18" r="2.50" fill="#178680" stroke="#e4f8f8" stroke-width="0.85"/>
<circle cx="352.69" cy="384.38" r="2.50" fill="#178680" stroke="#e4f8f8" stroke-width="0.85"/>
<circle cx="338.85" cy="420.25" r="2.50" fill="#178680" stroke="#e4f8f8" stroke-width="0.85"/>
<circle cx="388.02" cy="377.84" r="2.50" fill="#178680" stroke="#e4f8f8" stroke-width="0.85"/>
<circle cx="365.23" cy="371.64" r="2.50" fill="#178680" stroke="#e4f8f8" stroke-width="0.85"/>
<circle cx="369.43" cy="379.72" r="2.50" fill="#178680" stroke="#e4f8f8" stroke-width="0.85"/>
<circle cx="318.08" cy="422.75" r="2.50" fill="#178680" stroke="#e4f8f8" stroke-width="0.85"/>
<circle cx="384.55" cy="374.36" r="2.50" fill="#178680" stroke="#e4f8f8" stroke-width="0.85"/>
<circle cx="363.32" cy="376.21" r="2.50" fill="#178680" stroke="#e4f8f8" stroke-width="0.85"/>
<circle cx="372.83" cy="387.81" r="2.50" fill="#178680" stroke="#e4f8f8" stroke-width="0.85"/>
<circle cx="322.95" cy="418.05" r="2.50" fill="#178680" stroke="#e4f8f8" stroke-width="0.85"/>
<circle cx="357.34" cy="412.14" r="2.50" fill="#178680" stroke="#e4f8f8" stroke-width="0.85"/>
<circle cx="326.37" cy="420.64" r="2.50" fill="#178680" stroke="#e4f8f8" stroke-width="0.85"/>
<circle cx="346.58" cy="414.50" r="2.50" fill="#178680" stroke="#e4f8f8" stroke-width="0.85"/>
<circle cx="350.63" cy="384.46" r="2.50" fill="#178680" stroke="#e4f8f8" stroke-width="0.85"/>
<circle cx="356.53" cy="390.21" r="2.50" fill="#178680" stroke="#e4f8f8" stroke-width="0.85"/>
<circle cx="321.98" cy="427.25" r="2.50" fill="#178680" stroke="#e4f8f8" stroke-width="0.85"/>
<circle cx="348.29" cy="377.69" r="2.50" fill="#178680" stroke="#e4f8f8" stroke-width="0.85"/>
<circle cx="382.23" cy="375.85" r="2.50" fill="#178680" stroke="#e4f8f8" stroke-width="0.85"/>
<circle cx="333.03" cy="412.38" r="2.50" fill="#178680" stroke="#e4f8f8" stroke-width="0.85"/>
<circle cx="379.37" cy="369.04" r="2.50" fill="#178680" stroke="#e4f8f8" stroke-width="0.85"/>
<circle cx="346.33" cy="407.94" r="2.50" fill="#178680" stroke="#e4f8f8" stroke-width="0.85"/>
<circle cx="346.30" cy="411.93" r="2.50" fill="#178680" stroke="#e4f8f8" stroke-width="0.85"/>
<circle cx="343.16" cy="386.62" r="2.50" fill="#178680" stroke="#e4f8f8" stroke-width="0.85"/>
<circle cx="434.50" cy="269.40" r="2.50" fill="#178680" stroke="#e4f8f8" stroke-width="0.85"/>
<circle cx="439.20" cy="272.00" r="2.50" fill="#178680" stroke="#e4f8f8" stroke-width="0.85"/>
<circle cx="448.90" cy="274.30" r="2.50" fill="#178680" stroke="#e4f8f8" stroke-width="0.85"/>
<circle cx="436.20" cy="282.00" r="2.50" fill="#178680" stroke="#e4f8f8" stroke-width="0.85"/>
<circle cx="439.70" cy="281.00" r="2.50" fill="#178680" stroke="#e4f8f8" stroke-width="0.85"/>
<circle cx="467.90" cy="280.70" r="2.50" fill="#178680" stroke="#e4f8f8" stroke-width="0.85"/>
<circle cx="464.40" cy="284.60" r="2.50" fill="#178680" stroke="#e4f8f8" stroke-width="0.85"/>
<circle cx="460.40" cy="288.40" r="2.50" fill="#178680" stroke="#e4f8f8" stroke-width="0.85"/>
<circle cx="456.60" cy="291.90" r="2.50" fill="#178680" stroke="#e4f8f8" stroke-width="0.85"/>
<circle cx="443.10" cy="291.20" r="2.50" fill="#178680" stroke="#e4f8f8" stroke-width="0.85"/>
<circle cx="450.00" cy="295.40" r="2.50" fill="#178680" stroke="#e4f8f8" stroke-width="0.85"/>
<circle cx="397.30" cy="296.20" r="2.50" fill="#178680" stroke="#e4f8f8" stroke-width="0.85"/>
<circle cx="477.50" cy="297.50" r="2.50" fill="#178680" stroke="#e4f8f8" stroke-width="0.85"/>
<circle cx="443.00" cy="291.30" r="2.50" fill="#178680" stroke="#e4f8f8" stroke-width="0.85"/>
<circle cx="478.50" cy="270.00" r="2.50" fill="#178680" stroke="#e4f8f8" stroke-width="0.85"/>
<circle cx="500.50" cy="248.80" r="2.50" fill="#178680" stroke="#e4f8f8" stroke-width="0.85"/>
<circle cx="482.50" cy="262.50" r="2.50" fill="#178680" stroke="#e4f8f8" stroke-width="0.85"/>
<circle cx="464.50" cy="315.00" r="2.50" fill="#178680" stroke="#e4f8f8" stroke-width="0.85"/>
<circle cx="461.00" cy="319.20" r="2.50" fill="#178680" stroke="#e4f8f8" stroke-width="0.85"/>
<circle cx="455.30" cy="311.80" r="2.50" fill="#178680" stroke="#e4f8f8" stroke-width="0.85"/>
<circle cx="312.60" cy="436.20" r="2.50" fill="#178680" stroke="#e4f8f8" stroke-width="0.85"/>
<circle cx="317.70" cy="436.50" r="2.50" fill="#178680" stroke="#e4f8f8" stroke-width="0.85"/>
<circle cx="317.70" cy="431.20" r="2.50" fill="#178680" stroke="#e4f8f8" stroke-width="0.85"/>
<circle cx="329.50" cy="428.80" r="2.50" fill="#178680" stroke="#e4f8f8" stroke-width="0.85"/>
<circle cx="325.70" cy="401.50" r="2.50" fill="#178680" stroke="#e4f8f8" stroke-width="0.85"/>
<circle cx="332.60" cy="391.80" r="2.50" fill="#178680" stroke="#e4f8f8" stroke-width="0.85"/>
<circle cx="340.30" cy="391.50" r="2.50" fill="#178680" stroke="#e4f8f8" stroke-width="0.85"/>
<circle cx="348.80" cy="391.50" r="2.50" fill="#178680" stroke="#e4f8f8" stroke-width="0.85"/>
<circle cx="334.90" cy="397.40" r="2.50" fill="#178680" stroke="#e4f8f8" stroke-width="0.85"/>
<circle cx="341.80" cy="398.50" r="2.50" fill="#178680" stroke="#e4f8f8" stroke-width="0.85"/>
<circle cx="338.80" cy="404.60" r="2.50" fill="#178680" stroke="#e4f8f8" stroke-width="0.85"/>
<circle cx="342.60" cy="409.20" r="2.50" fill="#178680" stroke="#e4f8f8" stroke-width="0.85"/>
<circle cx="336.50" cy="411.50" r="2.50" fill="#178680" stroke="#e4f8f8" stroke-width="0.85"/>
<circle cx="332.60" cy="416.20" r="2.50" fill="#178680" stroke="#e4f8f8" stroke-width="0.85"/>
<circle cx="327.20" cy="420.80" r="2.50" fill="#178680" stroke="#e4f8f8" stroke-width="0.85"/>
<circle cx="334.20" cy="423.00" r="2.50" fill="#178680" stroke="#e4f8f8" stroke-width="0.85"/>
<circle cx="340.80" cy="421.50" r="2.50" fill="#178680" stroke="#e4f8f8" stroke-width="0.85"/>
<circle cx="349.50" cy="418.90" r="2.50" fill="#178680" stroke="#e4f8f8" stroke-width="0.85"/>
<circle cx="349.50" cy="436.50" r="2.50" fill="#178680" stroke="#e4f8f8" stroke-width="0.85"/>
<circle cx="352.60" cy="409.20" r="2.50" fill="#178680" stroke="#e4f8f8" stroke-width="0.85"/>
<circle cx="351.00" cy="398.50" r="2.50" fill="#178680" stroke="#e4f8f8" stroke-width="0.85"/>
<circle cx="356.20" cy="400.00" r="2.50" fill="#178680" stroke="#e4f8f8" stroke-width="0.85"/>
<circle cx="359.50" cy="417.00" r="2.50" fill="#178680" stroke="#e4f8f8" stroke-width="0.85"/>
<circle cx="365.70" cy="406.20" r="2.50" fill="#178680" stroke="#e4f8f8" stroke-width="0.85"/>
<circle cx="368.00" cy="400.80" r="2.50" fill="#178680" stroke="#e4f8f8" stroke-width="0.85"/>
<circle cx="365.70" cy="396.20" r="2.50" fill="#178680" stroke="#e4f8f8" stroke-width="0.85"/>
<circle cx="374.90" cy="410.80" r="2.50" fill="#178680" stroke="#e4f8f8" stroke-width="0.85"/>
<circle cx="373.40" cy="417.70" r="2.50" fill="#178680" stroke="#e4f8f8" stroke-width="0.85"/>
<circle cx="375.70" cy="400.00" r="2.50" fill="#178680" stroke="#e4f8f8" stroke-width="0.85"/>
<circle cx="312.00" cy="390.00" r="2.50" fill="#178680" stroke="#e4f8f8" stroke-width="0.85"/>
<circle cx="362.00" cy="385.40" r="2.50" fill="#178680" stroke="#e4f8f8" stroke-width="0.85"/>
<circle cx="359.50" cy="388.20" r="2.50" fill="#178680" stroke="#e4f8f8" stroke-width="0.85"/>
<circle cx="490.00" cy="322.00" r="2.50" fill="#178680" stroke="#e4f8f8" stroke-width="0.85"/>
<circle cx="478.00" cy="318.00" r="2.50" fill="#178680" stroke="#e4f8f8" stroke-width="0.85"/>
<circle cx="472.00" cy="305.00" r="2.50" fill="#178680" stroke="#e4f8f8" stroke-width="0.85"/>
<circle cx="402.50" cy="304.00" r="2.50" fill="#178680" stroke="#e4f8f8" stroke-width="0.85"/>
<circle cx="411.10" cy="305.00" r="2.50" fill="#178680" stroke="#e4f8f8" stroke-width="0.85"/>
<circle cx="419.80" cy="306.60" r="2.50" fill="#178680" stroke="#e4f8f8" stroke-width="0.85"/>
<circle cx="386.90" cy="309.20" r="2.50" fill="#178680" stroke="#e4f8f8" stroke-width="0.85"/>
<circle cx="383.50" cy="314.70" r="2.50" fill="#178680" stroke="#e4f8f8" stroke-width="0.85"/>
<circle cx="397.30" cy="310.60" r="2.50" fill="#178680" stroke="#e4f8f8" stroke-width="0.85"/>
<circle cx="408.50" cy="310.60" r="2.50" fill="#178680" stroke="#e4f8f8" stroke-width="0.85"/>
<circle cx="482.50" cy="423.00" r="2.50" fill="#178680" stroke="#e4f8f8" stroke-width="0.85"/>
<circle cx="373.80" cy="345.80" r="2.50" fill="#178680" stroke="#e4f8f8" stroke-width="0.85"/>
<circle cx="452.70" cy="347.70" r="2.50" fill="#178680" stroke="#e4f8f8" stroke-width="0.85"/>
<circle cx="459.40" cy="348.70" r="2.50" fill="#178680" stroke="#e4f8f8" stroke-width="0.85"/>
<circle cx="434.40" cy="369.80" r="2.50" fill="#178680" stroke="#e4f8f8" stroke-width="0.85"/>
<circle cx="423.80" cy="365.00" r="2.50" fill="#178680" stroke="#e4f8f8" stroke-width="0.85"/>
<circle cx="404.60" cy="379.40" r="2.50" fill="#178680" stroke="#e4f8f8" stroke-width="0.85"/>
<circle cx="411.30" cy="375.00" r="2.50" fill="#178680" stroke="#e4f8f8" stroke-width="0.85"/>
<circle cx="419.60" cy="375.00" r="2.50" fill="#178680" stroke="#e4f8f8" stroke-width="0.85"/>
<circle cx="389.20" cy="382.70" r="2.50" fill="#178680" stroke="#e4f8f8" stroke-width="0.85"/>
<circle cx="380.60" cy="388.00" r="2.50" fill="#178680" stroke="#e4f8f8" stroke-width="0.85"/>
<circle cx="391.20" cy="388.50" r="2.50" fill="#178680" stroke="#e4f8f8" stroke-width="0.85"/>
<circle cx="418.00" cy="384.20" r="2.50" fill="#178680" stroke="#e4f8f8" stroke-width="0.85"/>
<circle cx="420.40" cy="390.00" r="2.50" fill="#178680" stroke="#e4f8f8" stroke-width="0.85"/>
<circle cx="423.50" cy="401.90" r="2.50" fill="#178680" stroke="#e4f8f8" stroke-width="0.85"/>
<circle cx="376.70" cy="400.00" r="2.50" fill="#178680" stroke="#e4f8f8" stroke-width="0.85"/>
<circle cx="393.00" cy="407.00" r="2.50" fill="#178680" stroke="#e4f8f8" stroke-width="0.85"/>
<circle cx="375.40" cy="411.50" r="2.50" fill="#178680" stroke="#e4f8f8" stroke-width="0.85"/>
<circle cx="373.50" cy="417.90" r="2.50" fill="#178680" stroke="#e4f8f8" stroke-width="0.85"/>
<circle cx="396.00" cy="422.70" r="2.50" fill="#178680" stroke="#e4f8f8" stroke-width="0.85"/>
<circle cx="312.20" cy="350.30" r="2.50" fill="#178680" stroke="#e4f8f8" stroke-width="0.85"/>
<circle cx="344.90" cy="340.80" r="2.50" fill="#178680" stroke="#e4f8f8" stroke-width="0.85"/>
<circle cx="365.70" cy="342.30" r="2.50" fill="#178680" stroke="#e4f8f8" stroke-width="0.85"/>
<circle cx="358.80" cy="350.00" r="2.50" fill="#178680" stroke="#e4f8f8" stroke-width="0.85"/>
<circle cx="364.20" cy="356.90" r="2.50" fill="#178680" stroke="#e4f8f8" stroke-width="0.85"/>
<circle cx="358.00" cy="364.60" r="2.50" fill="#178680" stroke="#e4f8f8" stroke-width="0.85"/>
<circle cx="361.80" cy="367.70" r="2.50" fill="#178680" stroke="#e4f8f8" stroke-width="0.85"/>
<circle cx="366.50" cy="364.60" r="2.50" fill="#178680" stroke="#e4f8f8" stroke-width="0.85"/>
<circle cx="358.80" cy="372.30" r="2.50" fill="#178680" stroke="#e4f8f8" stroke-width="0.85"/>
<circle cx="373.40" cy="346.20" r="2.50" fill="#178680" stroke="#e4f8f8" stroke-width="0.85"/>
<line x1="301.30" y1="245.00" x2="301.30" y2="447.00" stroke="#5a5a5a" stroke-width="0.9"/>
<line x1="301.30" y1="447.00" x2="502.60" y2="447.00" stroke="#5a5a5a" stroke-width="0.9"/>
<line x1="299.50" y1="443.20" x2="301.30" y2="443.20" stroke="#5a5a5a" stroke-width="0.8"/>
<text x="296.90" y="446.10" font-size="8.3" text-anchor="end" fill="#222" stroke="#222" stroke-width="0.183">0</text>
<line x1="306.00" y1="447.00" x2="306.00" y2="448.80" stroke="#5a5a5a" stroke-width="0.8"/>
<text x="306.00" y="457.20" font-size="8.3" text-anchor="middle" fill="#222" stroke="#222" stroke-width="0.183">0</text>
<line x1="299.50" y1="403.85" x2="301.30" y2="403.85" stroke="#5a5a5a" stroke-width="0.8"/>
<text x="296.90" y="406.75" font-size="8.3" text-anchor="end" fill="#222" stroke="#222" stroke-width="0.183">5</text>
<line x1="345.50" y1="447.00" x2="345.50" y2="448.80" stroke="#5a5a5a" stroke-width="0.8"/>
<text x="345.50" y="457.20" font-size="8.3" text-anchor="middle" fill="#222" stroke="#222" stroke-width="0.183">5</text>
<line x1="299.50" y1="364.50" x2="301.30" y2="364.50" stroke="#5a5a5a" stroke-width="0.8"/>
<text x="296.90" y="367.40" font-size="8.3" text-anchor="end" fill="#222" stroke="#222" stroke-width="0.183">10</text>
<line x1="385.00" y1="447.00" x2="385.00" y2="448.80" stroke="#5a5a5a" stroke-width="0.8"/>
<text x="385.00" y="457.20" font-size="8.3" text-anchor="middle" fill="#222" stroke="#222" stroke-width="0.183">10</text>
<line x1="299.50" y1="325.15" x2="301.30" y2="325.15" stroke="#5a5a5a" stroke-width="0.8"/>
<text x="296.90" y="328.05" font-size="8.3" text-anchor="end" fill="#222" stroke="#222" stroke-width="0.183">15</text>
<line x1="424.50" y1="447.00" x2="424.50" y2="448.80" stroke="#5a5a5a" stroke-width="0.8"/>
<text x="424.50" y="457.20" font-size="8.3" text-anchor="middle" fill="#222" stroke="#222" stroke-width="0.183">15</text>
<line x1="299.50" y1="285.80" x2="301.30" y2="285.80" stroke="#5a5a5a" stroke-width="0.8"/>
<text x="296.90" y="288.70" font-size="8.3" text-anchor="end" fill="#222" stroke="#222" stroke-width="0.183">20</text>
<line x1="464.00" y1="447.00" x2="464.00" y2="448.80" stroke="#5a5a5a" stroke-width="0.8"/>
<text x="464.00" y="457.20" font-size="8.3" text-anchor="middle" fill="#222" stroke="#222" stroke-width="0.183">20</text>
<line x1="299.50" y1="246.45" x2="301.30" y2="246.45" stroke="#5a5a5a" stroke-width="0.8"/>
<text x="296.90" y="249.35" font-size="8.3" text-anchor="end" fill="#222" stroke="#222" stroke-width="0.183">25</text>
<line x1="503.50" y1="447.00" x2="503.50" y2="448.80" stroke="#5a5a5a" stroke-width="0.8"/>
<text x="503.50" y="457.20" font-size="8.3" text-anchor="middle" fill="#222" stroke="#222" stroke-width="0.183">25</text>
<text x="404.60" y="470.40" font-size="10.3" text-anchor="middle" fill="#222" stroke="#222" stroke-width="0.227" textLength="183" lengthAdjust="spacingAndGlyphs">FIMO Motif score (reference sequence)</text>
<text x="287.60" y="346.50" font-size="10.3" text-anchor="middle" fill="#222" transform="rotate(-90 287.60 346.50)" stroke="#222" stroke-width="0.227" textLength="163.6" lengthAdjust="spacingAndGlyphs">FIMO Motif score (altered sequence)</text>
<text x="306.50" y="286.90" font-size="5.85" text-anchor="start" fill="#222" stroke="#222" stroke-width="0.129">JUNB</text>
<text x="312.20" y="293.80" font-size="5.85" text-anchor="start" fill="#222" stroke="#222" stroke-width="0.129">ATF3</text>
<text x="313.00" y="299.20" font-size="5.85" text-anchor="start" fill="#222" stroke="#222" stroke-width="0.129">JDP2</text>
<text x="312.60" y="304.60" font-size="5.85" text-anchor="start" fill="#222" stroke="#222" stroke-width="0.129">E2F8</text>
<text x="480.50" y="251.00" font-size="6.3" text-anchor="start" fill="#222" stroke="#222" stroke-width="0.139">CTCF</text>
<text x="489.50" y="264.80" font-size="6.3" text-anchor="start" fill="#222" stroke="#222" stroke-width="0.139">KLF14</text>
<text x="465.00" y="439.80" font-size="6.1" text-anchor="start" fill="#2a2a2a" transform="rotate(-55 465.00 439.80)" stroke="#2a2a2a" stroke-width="0.134">STAT1::STAT2</text>
<text x="471.00" y="441.00" font-size="6.1" text-anchor="start" fill="#2a2a2a" transform="rotate(-55 471.00 441.00)" stroke="#2a2a2a" stroke-width="0.134">ZNF281</text>
<text x="478.60" y="443.60" font-size="6.1" text-anchor="start" fill="#2a2a2a" transform="rotate(-55 478.60 443.60)" stroke="#2a2a2a" stroke-width="0.134">KLF17</text>
<text x="489.20" y="442.60" font-size="6.1" text-anchor="start" fill="#2a2a2a" transform="rotate(-55 489.20 442.60)" stroke="#2a2a2a" stroke-width="0.134">ZNF460</text>
</svg></body></html>
